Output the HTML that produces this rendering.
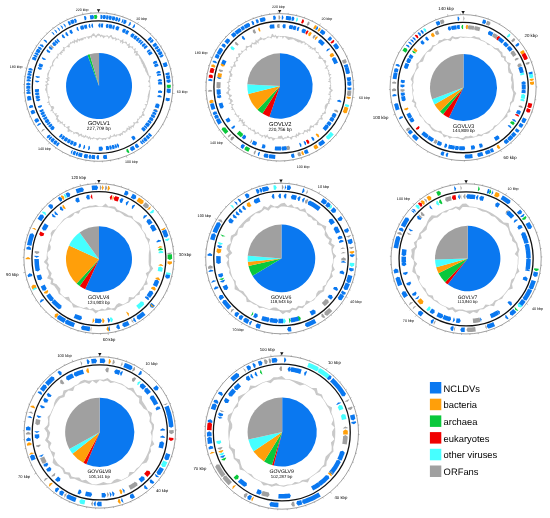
<!DOCTYPE html>
<html><head><meta charset="utf-8"><title>Figure</title>
<style>html,body{margin:0;padding:0;background:#fff}svg{display:block}</style></head>
<body>
<svg width="550" height="518" viewBox="0 0 550 518" font-family="Liberation Sans, sans-serif" text-rendering="geometricPrecision">
<rect width="550" height="518" fill="#fff"/>
<g id="g1">
<path d="M98.5,33.6 L99.6,34.1 L100.7,35.3 L101.8,34.4 L102.8,35.5 L103.9,35.6 L105.0,35.7 L106.0,35.8 L107.3,35.0 L108.2,36.2 L109.2,36.4 L110.7,34.9 L111.7,35.1 L112.3,37.1 L113.4,37.4 L114.4,37.8 L115.7,37.3 L116.4,38.5 L117.4,38.8 L118.7,38.5 L119.4,39.7 L120.4,40.0 L121.4,40.6 L123.3,39.1 L123.3,41.6 L124.3,42.0 L125.9,41.4 L126.8,42.0 L127.0,43.8 L127.8,44.4 L130.1,43.0 L129.6,45.6 L130.4,46.3 L131.7,46.5 L133.2,46.3 L133.0,48.3 L133.8,48.9 L136.1,48.1 L135.3,50.5 L136.0,51.3 L137.9,51.0 L137.5,52.9 L138.2,53.7 L138.8,54.5 L139.7,55.2 L140.2,56.2 L140.8,57.1 L141.4,58.0 L142.0,58.9 L142.6,59.8 L143.1,60.7 L143.7,61.6 L144.2,62.6 L144.7,63.5 L145.1,64.5 L145.6,65.5 L146.0,66.4 L146.5,67.4 L146.9,68.4 L147.2,69.4 L147.6,70.4 L147.9,71.5 L148.2,72.5 L148.5,73.5 L148.8,74.6 L149.0,75.6 L151.3,76.2 L150.5,77.5 L150.3,78.7 L149.9,79.8 L150.0,80.9 L150.1,82.0 L150.2,83.0 L150.2,84.1 L150.4,85.2 L150.3,86.2 L150.6,87.3 L150.6,88.4 L150.4,89.5 L150.2,90.5 L150.1,91.6 L150.0,92.7 L149.9,93.7 L149.7,94.8 L149.6,95.9 L149.4,96.9 L149.2,98.0 L148.9,99.0 L148.7,100.1 L148.4,101.1 L148.1,102.1 L148.0,103.2 L147.7,104.3 L147.0,105.2 L146.7,106.2 L146.3,107.2 L146.0,108.2 L145.4,109.1 L144.9,110.1 L144.6,111.1 L143.9,112.0 L143.4,112.9 L144.7,115.0 L144.2,116.0 L141.7,115.7 L142.3,117.4 L140.5,117.4 L140.0,118.5 L139.2,119.2 L138.5,120.0 L138.0,121.0 L138.7,123.0 L137.3,123.2 L135.6,123.2 L134.9,123.9 L134.6,125.2 L133.8,125.9 L134.0,127.8 L131.7,126.8 L131.8,128.7 L130.0,128.2 L130.5,130.6 L128.3,129.4 L127.4,130.0 L127.2,131.7 L125.6,131.2 L125.5,133.3 L123.7,132.3 L122.8,132.8 L122.8,135.2 L121.2,134.5 L120.8,136.3 L119.3,135.6 L118.0,135.3 L116.9,135.5 L116.3,137.0 L114.9,136.2 L113.9,136.5 L112.9,136.8 L111.8,137.1 L110.8,137.4 L110.0,139.0 L109.0,139.3 L107.6,138.0 L106.6,138.4 L105.8,140.3 L104.5,139.3 L103.5,139.5 L102.4,140.5 L101.2,138.9 L100.2,138.8 L99.1,138.8 L98.0,140.3 L96.9,140.2 L95.9,138.8 L94.8,138.8 L93.7,138.6 L92.5,139.6 L91.6,138.4 L90.2,140.1 L89.5,138.0 L88.1,139.6 L87.4,137.6 L86.3,137.4 L85.3,137.1 L83.8,138.3 L83.2,136.5 L81.8,137.3 L81.2,135.8 L80.2,135.5 L78.4,137.0 L78.2,134.6 L77.2,134.2 L76.2,133.8 L75.3,133.3 L73.4,134.6 L73.3,132.4 L72.4,131.8 L70.7,132.6 L70.5,130.9 L68.4,131.9 L67.4,131.4 L67.9,128.8 L67.1,128.2 L66.2,127.5 L65.4,126.8 L64.0,126.8 L63.8,125.4 L62.9,124.8 L62.0,124.1 L61.5,123.2 L59.4,123.7 L60.0,121.6 L57.5,122.4 L57.2,121.1 L57.2,119.7 L55.6,119.6 L56.6,117.4 L56.0,116.6 L55.4,115.7 L54.8,114.8 L54.3,113.9 L53.5,113.1 L52.4,112.4 L52.7,111.1 L50.0,111.2 L51.7,109.1 L51.3,108.2 L50.8,107.2 L50.4,106.2 L49.8,105.3 L48.3,104.7 L49.3,103.2 L46.7,102.8 L48.7,101.1 L48.4,100.1 L48.1,99.0 L47.9,98.0 L47.7,96.9 L47.4,95.9 L47.4,94.8 L47.1,93.8 L46.3,92.8 L46.4,91.7 L45.4,90.6 L45.1,89.5 L45.4,88.4 L46.1,87.3 L45.8,86.2 L44.9,85.1 L46.9,84.1 L46.7,83.0 L44.8,81.7 L47.1,80.9 L47.3,79.8 L45.9,78.5 L47.6,77.7 L47.2,76.5 L47.3,75.4 L47.2,74.3 L47.5,73.2 L48.1,72.3 L48.6,71.3 L48.8,70.2 L49.9,69.4 L50.2,68.4 L49.6,67.0 L50.8,66.3 L51.5,65.5 L52.0,64.5 L52.0,63.3 L52.3,62.2 L52.7,61.2 L53.2,60.2 L54.0,59.4 L54.8,58.6 L55.6,57.9 L56.3,57.1 L56.9,56.2 L57.6,55.4 L57.2,53.7 L58.9,53.7 L59.6,52.9 L60.4,52.1 L61.1,51.3 L61.8,50.5 L62.6,49.8 L63.4,49.0 L62.8,46.7 L64.8,47.4 L65.8,46.9 L66.7,46.3 L67.5,45.6 L68.4,45.0 L68.6,43.4 L70.1,43.7 L70.2,41.8 L72.0,42.6 L72.3,41.0 L73.8,41.6 L73.8,39.2 L75.7,40.6 L76.7,40.1 L77.1,38.3 L78.7,39.2 L79.7,38.8 L80.7,38.5 L81.7,38.1 L82.7,37.8 L83.7,37.4 L84.8,37.1 L85.8,36.9 L86.8,36.6 L87.9,36.4 L88.9,36.2 L90.0,36.0 L91.1,35.8 L92.0,34.6 L93.0,33.6 L94.1,33.2 L95.3,35.4 L96.4,35.3 L97.4,34.0 Z M97.5,35.8 L96.5,37.8 L95.5,37.4 L94.3,35.9 L93.2,36.0 L92.2,36.2 L91.5,38.6 L90.1,36.7 L89.4,38.4 L88.5,39.1 L87.0,37.1 L85.9,37.5 L85.4,39.3 L83.9,38.0 L83.4,40.0 L82.4,40.3 L81.4,40.5 L80.3,40.3 L79.6,41.5 L77.9,40.1 L77.8,42.4 L76.7,42.5 L75.0,41.5 L75.0,43.7 L73.1,42.5 L72.3,43.2 L71.3,43.6 L70.4,44.2 L69.5,44.8 L69.9,47.0 L69.0,47.6 L67.3,47.1 L66.1,47.3 L65.3,48.0 L64.5,48.7 L64.8,50.6 L64.3,51.6 L62.2,50.9 L63.0,53.1 L61.3,53.0 L61.9,54.9 L59.4,54.1 L58.6,54.8 L58.6,56.1 L57.6,56.7 L58.5,58.6 L56.1,58.2 L55.5,59.1 L54.9,60.0 L54.4,60.9 L53.9,61.9 L53.4,62.8 L52.9,63.7 L53.5,65.2 L53.4,66.3 L51.5,66.6 L51.1,67.6 L50.9,68.7 L50.5,69.6 L50.0,70.6 L49.6,71.6 L49.3,72.6 L49.0,73.6 L48.8,74.7 L48.5,75.7 L48.3,76.7 L50.3,78.2 L47.9,78.8 L49.8,80.2 L48.2,81.0 L47.5,82.0 L47.4,83.1 L49.3,84.2 L47.3,85.2 L47.3,86.3 L47.3,87.3 L47.3,88.4 L47.3,89.4 L47.4,90.5 L47.5,91.6 L47.6,92.6 L47.7,93.7 L48.5,94.6 L48.0,95.8 L49.4,96.6 L50.0,97.5 L48.6,98.9 L49.2,99.9 L49.3,100.9 L49.5,102.0 L49.8,103.0 L50.1,104.0 L50.5,105.0 L51.0,106.0 L53.5,106.0 L53.7,107.1 L54.4,107.9 L52.6,109.9 L53.2,110.8 L53.6,111.8 L54.1,112.7 L54.8,113.5 L57.3,113.2 L55.8,115.4 L58.1,115.1 L58.9,115.8 L57.7,118.0 L58.3,118.9 L59.0,119.7 L59.7,120.5 L60.5,121.1 L61.1,122.1 L63.1,121.6 L62.6,123.6 L63.3,124.3 L65.4,123.7 L64.9,125.8 L65.7,126.4 L66.6,127.1 L68.8,125.9 L69.8,126.3 L69.1,129.0 L70.0,129.6 L70.9,130.2 L71.8,130.8 L72.7,131.2 L73.6,131.9 L74.5,132.4 L75.9,132.1 L77.1,131.9 L78.0,132.4 L78.9,132.9 L79.4,134.6 L80.8,133.8 L82.0,133.7 L82.3,135.7 L83.6,135.2 L84.4,136.3 L86.0,134.5 L86.5,136.8 L87.7,135.9 L88.5,137.4 L89.8,136.0 L90.6,137.7 L91.7,137.9 L92.7,138.0 L93.9,137.0 L94.8,138.2 L95.9,138.0 L97.0,138.3 L98.0,138.3 L99.1,137.5 L100.1,137.7 L101.2,138.3 L102.3,138.2 L103.3,138.1 L104.4,138.0 L105.4,137.9 L106.5,137.7 L107.5,137.5 L108.6,137.4 L109.6,137.1 L110.1,134.7 L111.7,136.6 L112.6,135.8 L113.5,135.2 L114.0,133.5 L115.8,135.4 L116.5,134.3 L117.7,134.6 L118.7,134.2 L119.7,133.8 L120.7,133.3 L121.6,132.9 L122.4,132.1 L122.9,130.8 L124.4,131.3 L125.3,130.7 L126.2,130.2 L126.5,128.8 L126.8,127.4 L128.9,128.4 L128.1,125.7 L130.6,127.1 L130.5,125.4 L132.2,125.8 L133.0,125.1 L133.8,124.3 L133.1,122.1 L135.1,122.6 L136.0,122.1 L136.7,121.3 L137.4,120.5 L136.9,118.7 L138.7,118.8 L139.4,118.0 L139.1,116.5 L140.7,116.3 L141.2,115.4 L141.9,114.5 L142.4,113.6 L141.9,112.1 L142.9,111.4 L144.0,110.8 L142.9,109.1 L143.8,108.4 L145.4,108.0 L145.2,106.7 L146.1,106.0 L144.4,104.2 L147.0,104.0 L147.3,103.0 L146.3,101.6 L147.3,100.8 L147.4,99.7 L147.6,98.7 L147.8,97.7 L147.6,96.6 L147.9,95.6 L148.0,94.5 L148.4,93.5 L148.7,92.5 L148.8,91.5 L149.1,90.5 L149.8,89.4 L149.8,88.4 L149.8,87.3 L148.0,86.3 L149.8,85.2 L149.6,84.1 L149.7,83.1 L148.5,82.1 L147.8,81.1 L149.3,79.9 L149.2,78.8 L149.0,77.8 L148.8,76.7 L148.3,75.8 L147.3,74.9 L146.9,74.0 L146.6,73.0 L145.9,72.1 L145.4,71.2 L145.1,70.2 L145.0,69.2 L144.5,68.2 L143.6,67.5 L143.4,66.5 L142.8,65.6 L142.8,64.5 L141.8,63.8 L141.6,62.8 L141.2,61.8 L140.6,61.0 L140.6,59.8 L140.0,58.9 L139.3,58.2 L139.0,57.1 L139.1,55.7 L137.6,55.5 L135.8,55.7 L135.2,54.8 L136.4,52.4 L133.8,53.4 L134.2,51.6 L134.2,50.1 L133.4,49.4 L132.6,48.7 L131.8,48.0 L131.0,47.3 L129.0,48.1 L127.9,47.9 L128.4,45.4 L126.9,45.8 L126.7,44.2 L125.8,43.6 L124.9,43.0 L124.0,42.5 L121.8,44.2 L122.1,41.5 L120.1,43.2 L120.2,40.5 L119.1,40.3 L118.2,39.7 L117.2,39.4 L115.4,41.2 L115.3,38.6 L113.9,39.1 L112.8,39.4 L111.9,38.7 L111.2,37.3 L110.1,37.1 L108.7,39.0 L108.0,36.9 L107.0,36.5 L106.0,36.4 L104.8,37.1 L103.6,38.4 L102.7,37.2 L101.7,35.9 L100.6,37.4 L99.6,35.8 L98.5,35.8 Z" fill="#c9c9c9" fill-rule="evenodd"/>
<circle cx="98.55" cy="87.05" r="74.25" fill="none" stroke="#505050" stroke-width="0.55"/>
<path d="M98.55,12.80 L98.55,11.60 M106.73,13.25 L106.86,12.06 M114.81,14.60 L115.07,13.43 M122.69,16.83 L123.08,15.70 M130.28,19.92 L130.79,18.83 M137.48,23.82 L138.53,22.12 M144.20,28.49 L144.94,27.55 M150.38,33.88 L151.21,33.02 M155.92,39.91 L156.85,39.15 M160.76,46.52 L161.77,45.86 M164.85,53.62 L165.92,53.08 M168.13,61.12 L169.25,60.70 M170.56,68.94 L171.72,68.65 M172.11,76.99 L173.30,76.82 M172.78,85.15 L173.98,85.12 M172.53,93.34 L174.53,93.51 M171.39,101.45 L172.57,101.68 M169.36,109.38 L170.51,109.75 M166.47,117.05 L167.57,117.53 M162.75,124.35 L163.79,124.95 M158.25,131.19 L159.22,131.91 M153.03,137.50 L153.91,138.31 M147.14,143.19 L147.93,144.10 M140.66,148.20 L141.34,149.19 M133.67,152.47 L134.24,153.53 M126.25,155.94 L126.99,157.80 M118.49,158.57 L118.81,159.73 M110.49,160.33 L110.69,161.52 M102.35,161.20 L102.41,162.40 M94.16,161.17 L94.09,162.37 M86.02,160.24 L85.82,161.42 M78.03,158.41 L77.70,159.56 M70.30,155.72 L69.84,156.83 M62.91,152.19 L62.33,153.24 M55.95,147.86 L55.26,148.85 M49.51,142.80 L48.19,144.30 M43.67,137.06 L42.78,137.87 M38.49,130.71 L37.52,131.42 M34.05,123.83 L33.01,124.42 M30.39,116.50 L29.29,116.98 M27.56,108.82 L26.41,109.17 M25.60,100.86 L24.42,101.09 M24.52,92.74 L23.32,92.84 M24.34,84.55 L23.14,84.51 M25.07,76.40 L23.88,76.22 M26.69,68.37 L24.75,67.86 M29.18,60.57 L28.06,60.14 M32.52,53.09 L31.46,52.54 M36.67,46.02 L35.67,45.36 M41.56,39.45 L40.64,38.68 M47.15,33.47 L46.32,32.60 M53.37,28.13 L52.64,27.18 M60.13,23.51 L59.51,22.48 M67.36,19.67 L66.86,18.58 M74.98,16.64 L74.59,15.50 M82.87,14.47 L82.45,12.52 M90.96,13.19 L90.84,11.99" stroke="#555" stroke-width="0.35" fill="none"/>
<polygon points="83.9,16.3 85.2,16.0 85.1,15.6 86.5,17.8 86.0,20.4 85.9,20.0 84.7,20.2" fill="#0a78f0"/>
<polygon points="89.8,15.3 91.4,15.2 92.9,15.0 92.9,14.6 94.1,16.9 93.3,19.5 93.3,19.0 91.8,19.2 90.3,19.3" fill="#0a78f0"/>
<polygon points="94.1,14.9 95.3,14.9 96.4,14.8 96.4,14.4 97.4,16.8 96.5,19.3 96.5,18.8 95.4,18.9 94.4,18.9" fill="#0ac83c"/>
<polygon points="67.6,21.8 69.0,21.1 68.8,20.7 70.7,22.6 70.8,25.2 70.6,24.8 69.3,25.4" fill="#0a78f0"/>
<polygon points="70.1,20.6 71.4,20.1 72.8,19.5 72.6,19.1 74.4,21.1 74.4,23.7 74.2,23.3 72.9,23.8 71.7,24.3" fill="#0a78f0"/>
<polygon points="73.9,19.1 75.1,18.7 75.0,18.3 76.7,20.3 76.6,22.9 76.4,22.5 75.3,22.9" fill="#0a78f0"/>
<polygon points="51.5,32.2 51.7,32.0 51.5,31.7 53.8,32.9 54.6,35.4 54.3,35.1 54.1,35.3" fill="#0a78f0"/>
<polygon points="54.2,30.0 54.5,29.8 54.2,29.4 56.5,30.8 57.2,33.3 56.9,33.0 56.7,33.2" fill="#0a78f0"/>
<polygon points="57.2,27.8 57.5,27.6 57.2,27.2 59.5,28.7 60.0,31.3 59.8,30.9 59.5,31.1" fill="#0a78f0"/>
<polygon points="60.4,25.7 60.8,25.5 60.5,25.1 62.7,26.7 63.1,29.3 62.9,28.9 62.6,29.1" fill="#0a78f0"/>
<polygon points="63.3,24.0 63.6,23.8 63.4,23.4 65.5,25.1 65.8,27.7 65.6,27.3 65.3,27.5" fill="#0a78f0"/>
<polygon points="43.5,40.3 44.0,39.7 43.7,39.4 46.2,40.2 47.4,42.6 47.0,42.3 46.5,42.9" fill="#0a78f0"/>
<polygon points="39.6,45.2 40.4,44.1 40.1,43.9 42.6,44.5 44.0,46.8 43.6,46.5 42.9,47.5" fill="#0a78f0"/>
<polygon points="31.9,59.2 32.3,58.1 32.8,57.0 32.4,56.9 35.1,57.0 36.9,58.9 36.5,58.7 36.0,59.7 35.6,60.7" fill="#0a78f0"/>
<polygon points="33.3,55.9 33.8,54.9 33.4,54.7 36.1,54.9 37.8,56.9 37.4,56.7 37.0,57.7" fill="#0a78f0"/>
<polygon points="34.4,53.8 35.1,52.6 34.7,52.4 37.3,52.6 39.0,54.7 38.6,54.5 37.9,55.7" fill="#0a78f0"/>
<polygon points="35.6,51.5 36.4,50.3 37.1,49.0 36.7,48.8 39.3,49.3 40.9,51.4 40.5,51.2 39.8,52.3 39.1,53.5" fill="#0a78f0"/>
<polygon points="37.7,48.0 38.5,46.9 38.1,46.6 40.7,47.2 42.2,49.3 41.8,49.1 41.1,50.2" fill="#0a78f0"/>
<polygon points="27.3,75.3 27.4,74.4 27.6,73.6 27.1,73.5 29.7,73.0 31.9,74.4 31.5,74.3 31.4,75.1 31.2,75.9" fill="#0a78f0"/>
<polygon points="27.8,72.4 28.1,71.0 27.7,70.9 30.3,70.5 32.4,72.0 32.0,71.9 31.7,73.2" fill="#0a78f0"/>
<polygon points="28.4,69.8 28.7,68.5 28.3,68.4 30.9,68.0 33.0,69.6 32.6,69.5 32.3,70.8" fill="#0a78f0"/>
<polygon points="26.3,88.8 26.3,87.6 26.3,86.4 25.9,86.4 28.3,85.4 30.8,86.5 30.3,86.4 30.3,87.6 30.3,88.7" fill="#0a78f0"/>
<polygon points="26.3,85.2 26.3,84.3 26.4,83.5 25.9,83.4 28.4,82.6 30.8,83.7 30.4,83.7 30.4,84.5 30.3,85.3" fill="#0a78f0"/>
<polygon points="26.6,94.1 26.6,93.2 26.5,92.2 26.0,92.2 28.4,91.1 30.9,91.9 30.5,91.9 30.6,92.8 30.6,93.8" fill="#0a78f0"/>
<polygon points="26.4,91.0 26.4,90.2 25.9,90.3 28.3,89.1 30.8,90.0 30.4,90.1 30.4,90.8" fill="#0a78f0"/>
<polygon points="27.6,100.7 27.3,98.9 27.0,97.1 26.6,97.1 28.8,95.8 31.4,96.4 31.0,96.5 31.2,98.2 31.5,99.9" fill="#0a78f0"/>
<polygon points="76.7,26.7 76.9,27.1 77.7,26.9 79.0,30.7 78.3,30.9 78.4,31.3 76.6,29.4" fill="#0a78f0"/>
<polygon points="80.4,25.5 80.6,25.9 81.9,25.6 83.3,25.2 84.3,29.1 83.0,29.4 81.7,29.8 81.8,30.2 80.2,28.2" fill="#0a78f0"/>
<polygon points="84.4,24.5 84.5,24.9 85.6,24.7 86.7,24.5 87.4,28.4 86.4,28.6 85.4,28.8 85.5,29.3 84.0,27.1" fill="#0a78f0"/>
<polygon points="89.1,23.6 89.2,24.0 90.0,23.9 90.6,27.9 89.8,28.0 89.9,28.5 88.5,26.2" fill="#0a78f0"/>
<polygon points="91.9,23.3 92.0,23.7 92.8,23.6 93.2,27.6 92.4,27.7 92.4,28.1 91.2,25.8" fill="#0a78f0"/>
<polygon points="99.2,22.9 99.2,23.4 99.9,23.4 100.5,23.4 100.4,27.4 99.8,27.4 99.2,27.4 99.2,27.8 98.2,25.4" fill="#0a78f0"/>
<polygon points="101.7,23.0 101.7,23.4 102.4,23.5 103.2,23.5 102.9,27.5 102.2,27.5 101.5,27.4 101.5,27.9 100.6,25.4" fill="#0a78f0"/>
<polygon points="61.6,34.6 61.9,35.0 62.4,34.6 62.9,34.2 65.2,37.6 64.7,37.9 64.2,38.3 64.4,38.6 62.2,37.2" fill="#0a78f0"/>
<polygon points="65.3,32.2 65.5,32.6 66.1,32.2 66.6,31.9 68.7,35.4 68.1,35.7 67.6,36.0 67.8,36.4 65.7,34.8" fill="#0a78f0"/>
<polygon points="69.5,29.9 69.7,30.3 70.5,29.9 71.3,29.5 73.0,33.1 72.2,33.5 71.5,33.9 71.7,34.2 69.7,32.5" fill="#0a78f0"/>
<polygon points="52.0,43.0 52.3,43.3 53.1,42.4 53.9,41.6 56.7,44.5 55.9,45.3 55.2,46.0 55.5,46.3 53.1,45.4" fill="#0a78f0"/>
<polygon points="54.4,40.5 54.7,40.8 55.2,40.3 55.8,39.9 58.5,42.8 58.0,43.3 57.5,43.7 57.8,44.0 55.4,43.0" fill="#0a78f0"/>
<polygon points="56.4,38.7 56.7,39.1 57.4,38.4 60.0,41.5 59.3,42.1 59.6,42.4 57.2,41.2" fill="#0a78f0"/>
<polygon points="50.0,45.2 50.3,45.5 50.9,44.8 53.9,47.5 53.3,48.1 53.7,48.4 51.2,47.5" fill="#a0a0a0"/>
<polygon points="46.1,50.1 46.5,50.4 46.9,49.8 47.2,49.3 50.5,51.7 50.1,52.2 49.8,52.7 50.1,52.9 47.5,52.3" fill="#0a78f0"/>
<polygon points="48.5,46.9 48.9,47.2 49.3,46.6 49.7,46.1 52.8,48.7 52.4,49.2 52.0,49.7 52.4,49.9 49.8,49.2" fill="#0a78f0"/>
<polygon points="41.5,57.7 41.9,57.9 42.3,57.2 45.8,59.1 45.5,59.8 45.9,60.0 43.2,59.7" fill="#0a78f0"/>
<polygon points="37.3,68.1 37.7,68.3 37.9,67.6 38.1,66.9 41.9,68.2 41.7,68.8 41.5,69.5 41.9,69.6 39.3,69.8" fill="#0a78f0"/>
<polygon points="38.1,65.6 38.5,65.8 39.0,64.5 39.5,63.2 43.2,64.7 42.7,65.9 42.3,67.1 42.7,67.3 40.1,67.4" fill="#0a78f0"/>
<polygon points="35.3,76.7 35.7,76.7 35.8,75.9 39.8,76.6 39.7,77.4 40.1,77.5 37.5,78.0" fill="#0a78f0"/>
<polygon points="34.7,81.3 35.1,81.4 35.2,80.5 39.2,80.9 39.1,81.7 39.5,81.8 37.0,82.5" fill="#0a78f0"/>
<polygon points="35.9,100.8 36.3,100.7 36.2,100.1 36.1,99.5 40.0,98.7 40.1,99.3 40.3,99.9 40.7,99.8 38.5,101.3" fill="#0a78f0"/>
<polygon points="35.4,98.4 35.9,98.3 35.7,97.1 35.5,95.9 39.5,95.4 39.6,96.5 39.8,97.6 40.2,97.5 38.0,98.9" fill="#0a78f0"/>
<polygon points="34.9,94.8 35.3,94.7 35.2,93.8 35.1,92.8 39.1,92.5 39.2,93.4 39.3,94.3 39.7,94.2 37.4,95.5" fill="#0a78f0"/>
<polygon points="34.6,91.7 35.0,91.6 34.9,90.4 34.9,89.2 38.9,89.0 39.0,90.2 39.0,91.3 39.5,91.3 37.1,92.5" fill="#0a78f0"/>
<polygon points="100.5,14.8 102.0,14.9 102.0,14.4 102.9,16.9 101.8,19.3 101.8,18.9 100.4,18.8" fill="#0a78f0"/>
<polygon points="103.2,14.9 104.2,15.0 105.2,15.1 105.3,14.7 106.0,17.2 104.8,19.5 104.8,19.1 103.9,19.0 102.9,19.0" fill="#0a78f0"/>
<polygon points="106.4,15.2 107.3,15.3 108.1,15.4 108.2,15.0 108.8,17.6 107.5,19.9 107.6,19.4 106.8,19.3 106.0,19.2" fill="#0a78f0"/>
<polygon points="109.3,15.6 110.3,15.8 111.3,15.9 111.4,15.5 111.9,18.1 110.5,20.3 110.6,19.9 109.7,19.7 108.7,19.6" fill="#0a78f0"/>
<polygon points="112.5,16.1 113.7,16.4 114.8,16.7 114.9,16.2 115.4,18.8 113.8,21.0 113.9,20.6 112.8,20.3 111.7,20.1" fill="#0a78f0"/>
<polygon points="116.0,16.9 116.9,17.2 117.8,17.4 117.9,17.0 118.2,19.6 116.6,21.7 116.7,21.3 115.9,21.1 115.0,20.8" fill="#0a78f0"/>
<polygon points="119.0,17.7 120.0,18.1 120.2,17.6 120.4,20.3 118.7,22.3 118.8,21.9 117.8,21.6" fill="#0a78f0"/>
<polygon points="122.6,18.9 123.3,19.2 123.4,18.7 123.5,21.4 121.7,23.3 121.9,22.9 121.3,22.7" fill="#0a78f0"/>
<polygon points="124.4,19.6 125.4,19.9 126.3,20.3 126.5,19.9 126.4,22.6 124.6,24.5 124.8,24.0 123.9,23.7 123.0,23.3" fill="#0a78f0"/>
<polygon points="129.9,22.0 130.7,22.3 130.9,21.9 130.7,24.6 128.7,26.3 128.9,25.9 128.2,25.6" fill="#0a78f0"/>
<polygon points="134.2,24.2 134.9,24.6 135.1,24.2 134.8,26.9 132.7,28.5 132.9,28.1 132.2,27.7" fill="#0a78f0"/>
<polygon points="150.4,36.8 151.1,37.5 151.8,38.2 152.1,37.9 151.0,40.3 148.5,41.2 148.8,40.9 148.2,40.2 147.5,39.6" fill="#0a78f0"/>
<polygon points="152.6,39.1 153.5,40.2 153.9,39.9 152.7,42.3 150.2,43.1 150.5,42.8 149.6,41.8" fill="#0a78f0"/>
<polygon points="155.5,42.6 156.3,43.6 157.0,44.6 157.4,44.4 156.0,46.6 153.4,47.2 153.8,47.0 153.1,46.0 152.3,45.1" fill="#0a78f0"/>
<polygon points="157.7,45.6 158.3,46.4 158.8,47.1 159.2,46.9 157.7,49.1 155.1,49.6 155.4,49.4 154.9,48.6 154.4,47.9" fill="#0a78f0"/>
<polygon points="159.5,48.2 160.0,49.1 160.6,50.0 161.0,49.8 159.4,51.9 156.7,52.3 157.1,52.0 156.6,51.2 156.1,50.3" fill="#0a78f0"/>
<polygon points="161.2,51.0 161.8,52.1 162.4,53.1 162.7,52.9 161.0,55.0 158.4,55.2 158.8,55.0 158.3,54.0 157.7,53.0" fill="#0a78f0"/>
<polygon points="162.9,54.2 163.5,55.4 163.9,55.2 162.1,57.2 159.5,57.4 159.9,57.2 159.3,56.0" fill="#0a78f0"/>
<polygon points="166.4,62.1 167.0,63.8 167.5,65.6 168.0,65.4 165.9,67.1 163.3,66.9 163.7,66.8 163.2,65.1 162.6,63.5" fill="#0a78f0"/>
<polygon points="169.3,72.3 169.5,73.2 169.6,74.1 170.1,74.0 167.8,75.4 165.2,74.9 165.7,74.8 165.5,74.0 165.4,73.2" fill="#0a78f0"/>
<polygon points="169.8,75.3 170.1,76.7 170.2,78.1 170.7,78.0 168.4,79.3 165.8,78.6 166.3,78.6 166.1,77.2 165.9,75.9" fill="#0a78f0"/>
<polygon points="170.8,84.7 170.8,85.9 170.8,87.2 171.2,87.2 168.8,88.2 166.3,87.2 166.8,87.2 166.8,86.0 166.8,84.8" fill="#0ac83c"/>
<polygon points="170.8,88.7 170.7,90.5 170.6,92.4 171.1,92.4 168.5,93.2 166.2,92.0 166.6,92.1 166.7,90.3 166.8,88.6" fill="#0a78f0"/>
<polygon points="169.9,98.3 169.7,99.5 169.5,100.7 169.9,100.8 167.3,101.3 165.1,99.9 165.6,100.0 165.8,98.8 166.0,97.7" fill="#0a78f0"/>
<polygon points="107.0,23.5 107.0,23.9 107.7,24.0 108.5,24.1 107.8,28.1 107.2,28.0 106.5,27.9 106.4,28.3 105.7,25.8" fill="#0a78f0"/>
<polygon points="109.7,23.9 109.7,24.3 111.1,24.6 112.4,24.9 111.6,28.8 110.3,28.5 109.0,28.3 108.9,28.7 108.3,26.1" fill="#0a78f0"/>
<polygon points="113.7,24.7 113.6,25.2 114.3,25.3 115.0,25.5 114.0,29.4 113.3,29.2 112.7,29.1 112.6,29.5 112.2,26.9" fill="#0a78f0"/>
<polygon points="117.2,25.7 117.1,26.1 118.3,26.5 119.5,26.9 118.1,30.7 117.0,30.3 115.9,30.0 115.8,30.4 115.5,27.7" fill="#0a78f0"/>
<polygon points="124.2,28.3 124.0,28.7 125.1,29.1 126.1,29.6 124.4,33.2 123.4,32.8 122.4,32.3 122.2,32.7 122.3,30.1" fill="#0a78f0"/>
<polygon points="127.4,29.8 127.2,30.1 128.2,30.7 129.2,31.2 127.3,34.7 126.3,34.2 125.4,33.7 125.2,34.1 125.4,31.5" fill="#0a78f0"/>
<polygon points="132.9,32.9 132.7,33.3 133.8,34.0 134.8,34.7 132.5,38.0 131.5,37.3 130.5,36.6 130.3,37.0 130.7,34.4" fill="#0a78f0"/>
<polygon points="136.1,35.0 135.8,35.4 136.8,36.1 137.7,36.8 135.3,40.0 134.4,39.3 133.5,38.6 133.2,39.0 133.8,36.4" fill="#0a78f0"/>
<polygon points="139.0,37.2 138.7,37.6 139.4,38.2 140.1,38.7 137.4,41.8 136.8,41.2 136.2,40.7 135.9,41.1 136.6,38.5" fill="#0a78f0"/>
<polygon points="141.3,39.2 141.0,39.5 141.4,39.9 141.9,40.4 139.2,43.3 138.7,42.9 138.3,42.5 138.0,42.9 138.9,40.4" fill="#0a78f0"/>
<polygon points="143.1,40.9 142.8,41.2 143.6,42.0 140.8,44.9 140.0,44.1 139.7,44.4 140.7,42.0" fill="#0a78f0"/>
<polygon points="145.1,42.9 144.8,43.2 145.3,43.8 145.9,44.5 142.9,47.2 142.4,46.6 141.8,46.0 141.5,46.3 142.6,43.9" fill="#0a78f0"/>
<polygon points="147.1,45.1 146.7,45.4 147.3,46.0 147.8,46.7 144.7,49.2 144.2,48.6 143.7,48.0 143.4,48.3 144.6,45.9" fill="#0a78f0"/>
<polygon points="150.4,49.3 150.1,49.6 150.7,50.4 147.4,52.7 146.8,52.0 146.5,52.2 147.9,50.0" fill="#0a78f0"/>
<polygon points="151.7,51.2 151.3,51.4 152.0,52.4 152.7,53.5 149.3,55.6 148.6,54.6 148.0,53.7 147.6,53.9 149.1,51.7" fill="#0a78f0"/>
<polygon points="157.1,60.8 156.7,61.0 157.0,61.8 157.4,62.7 153.7,64.2 153.3,63.4 153.0,62.6 152.6,62.8 154.4,60.9" fill="#0a78f0"/>
<polygon points="158.3,63.7 157.9,63.8 158.3,64.9 158.6,65.9 154.9,67.3 154.5,66.3 154.1,65.3 153.7,65.4 155.6,63.6" fill="#0a78f0"/>
<polygon points="160.7,71.3 160.3,71.5 160.5,72.1 160.6,72.8 156.7,73.7 156.6,73.1 156.4,72.4 156.0,72.5 158.1,71.0" fill="#0a78f0"/>
<polygon points="161.3,73.9 160.9,74.0 161.0,74.6 161.2,75.3 157.2,76.1 157.1,75.4 157.0,74.8 156.5,74.9 158.7,73.4" fill="#0a78f0"/>
<polygon points="162.3,79.8 161.8,79.8 161.9,80.5 162.0,81.2 158.0,81.5 157.9,80.9 157.8,80.3 157.4,80.3 159.7,79.1" fill="#0a78f0"/>
<polygon points="162.5,82.4 162.1,82.4 162.1,83.4 162.2,84.5 158.2,84.6 158.1,83.7 158.1,82.7 157.6,82.7 160.0,81.5" fill="#0a78f0"/>
<polygon points="162.5,91.4 162.1,91.3 162.0,92.2 162.0,93.1 158.0,92.7 158.0,91.9 158.1,91.1 157.7,91.0 160.2,90.2" fill="#0a78f0"/>
<polygon points="162.0,96.4 161.6,96.3 161.5,97.0 161.4,97.6 157.4,97.0 157.5,96.4 157.6,95.8 157.2,95.7 159.7,95.1" fill="#0a78f0"/>
<polygon points="26.5,81.3 26.6,80.5 26.7,79.7 26.2,79.7 28.8,78.9 31.1,80.2 30.7,80.1 30.6,80.9 30.5,81.6" fill="#0a78f0"/>
<polygon points="26.8,78.5 26.9,77.6 27.0,76.7 26.6,76.6 29.2,76.0 31.5,77.3 31.0,77.3 30.9,78.1 30.8,79.0" fill="#0a78f0"/>
<polygon points="29.5,108.3 29.2,107.5 29.0,106.6 28.6,106.8 30.7,105.1 33.3,105.4 32.9,105.5 33.1,106.4 33.3,107.2" fill="#0a78f0"/>
<polygon points="31.8,114.6 31.2,113.2 30.6,111.7 30.2,111.8 32.2,110.0 34.8,110.2 34.4,110.3 34.9,111.7 35.5,113.1" fill="#0a78f0"/>
<polygon points="36.0,123.1 35.2,121.8 34.4,120.4 34.0,120.6 35.8,118.5 38.4,118.3 38.0,118.5 38.7,119.8 39.4,121.1" fill="#0a78f0"/>
<polygon points="37.7,126.1 37.3,125.4 36.9,125.6 38.5,123.5 41.1,123.0 40.7,123.2 41.1,123.9" fill="#0a78f0"/>
<polygon points="41.8,131.8 41.5,131.5 41.2,131.7 42.5,129.4 45.1,128.7 44.7,129.0 44.9,129.3" fill="#a0a0a0"/>
<polygon points="57.5,146.5 56.9,146.1 56.2,145.6 56.0,146.0 56.6,143.4 58.8,142.0 58.6,142.4 59.2,142.8 59.8,143.2" fill="#0a78f0"/>
<polygon points="55.3,144.9 54.3,144.2 53.4,143.5 53.1,143.8 53.9,141.3 56.2,140.0 55.9,140.3 56.8,141.0 57.7,141.7" fill="#0a78f0"/>
<polygon points="52.5,142.7 51.5,141.9 50.6,141.1 50.3,141.4 51.2,138.9 53.5,137.8 53.3,138.1 54.1,138.8 55.0,139.6" fill="#0a78f0"/>
<polygon points="49.7,140.3 48.8,139.5 48.5,139.8 49.5,137.3 51.9,136.2 51.6,136.6 52.4,137.3" fill="#0a78f0"/>
<polygon points="47.9,138.6 47.4,138.1 46.8,137.5 46.5,137.8 47.6,135.4 50.0,134.4 49.7,134.7 50.2,135.2 50.8,135.8" fill="#0a78f0"/>
<polygon points="71.4,154.0 71.0,153.9 70.9,154.3 70.9,151.6 72.7,149.7 72.6,150.1 72.9,150.3" fill="#0a78f0"/>
<polygon points="77.3,156.1 76.1,155.7 75.9,156.1 75.8,153.5 77.5,151.5 77.3,151.9 78.5,152.3" fill="#0a78f0"/>
<polygon points="74.9,155.3 73.9,155.0 72.9,154.6 72.7,155.0 72.7,152.4 74.5,150.4 74.3,150.8 75.3,151.2 76.2,151.5" fill="#0a78f0"/>
<polygon points="81.8,157.3 80.9,157.1 80.0,156.9 79.9,157.3 79.6,154.7 81.2,152.6 81.1,153.0 81.9,153.2 82.7,153.4" fill="#0a78f0"/>
<polygon points="87.4,158.4 85.9,158.2 84.3,157.9 84.2,158.3 83.7,155.7 85.2,153.5 85.1,153.9 86.6,154.2 88.1,154.5" fill="#0a78f0"/>
<polygon points="95.0,159.2 93.4,159.1 91.9,159.0 91.9,159.4 91.1,156.9 92.3,154.6 92.3,155.0 93.7,155.1 95.2,155.2" fill="#0a78f0"/>
<polygon points="90.7,158.9 89.9,158.8 89.2,158.7 89.1,159.1 88.5,156.6 89.8,154.3 89.7,154.7 90.4,154.8 91.1,154.9" fill="#0a78f0"/>
<polygon points="99.0,159.3 98.1,159.3 97.2,159.3 97.2,159.7 96.3,157.3 97.3,154.8 97.3,155.3 98.1,155.3 99.0,155.3" fill="#0a78f0"/>
<polygon points="107.2,158.8 105.6,159.0 104.0,159.1 104.1,159.5 102.9,157.2 103.7,154.7 103.7,155.1 105.2,155.0 106.7,154.8" fill="#0a78f0"/>
<polygon points="37.8,107.6 38.2,107.4 38.0,106.8 37.8,106.2 41.6,105.0 41.8,105.6 42.0,106.2 42.4,106.0 40.4,107.7" fill="#0a78f0"/>
<polygon points="51.3,130.4 51.6,130.1 50.7,129.1 49.9,128.1 52.9,125.5 53.7,126.5 54.6,127.4 54.9,127.1 53.8,129.5" fill="#0a78f0"/>
<polygon points="48.7,127.5 49.1,127.2 48.6,126.5 48.0,125.9 51.2,123.4 51.7,124.0 52.2,124.7 52.6,124.4 51.3,126.7" fill="#0a78f0"/>
<polygon points="46.9,125.1 47.3,124.9 46.6,124.0 49.9,121.6 50.5,122.5 50.9,122.2 49.5,124.5" fill="#0a78f0"/>
<polygon points="45.6,123.2 45.9,123.0 45.2,121.9 44.5,120.8 47.9,118.6 48.6,119.7 49.3,120.7 49.6,120.4 48.2,122.7" fill="#0a78f0"/>
<polygon points="43.5,119.9 43.9,119.7 43.4,118.9 43.0,118.2 46.5,116.2 46.9,116.9 47.3,117.7 47.7,117.4 46.1,119.5" fill="#0a78f0"/>
<polygon points="42.0,117.3 42.4,117.1 42.0,116.5 41.7,115.8 45.3,114.0 45.6,114.6 45.9,115.2 46.3,115.0 44.6,117.0" fill="#0a78f0"/>
<polygon points="40.8,114.9 41.2,114.7 40.8,113.8 40.3,112.9 44.0,111.3 44.4,112.1 44.8,113.0 45.2,112.8 43.4,114.7" fill="#0a78f0"/>
<polygon points="39.5,112.0 39.9,111.8 39.6,111.1 39.3,110.4 43.0,108.9 43.3,109.6 43.6,110.2 44.0,110.1 42.1,111.9" fill="#0a78f0"/>
<polygon points="74.7,146.6 74.9,146.2 73.9,145.8 72.9,145.4 74.5,141.7 75.4,142.1 76.4,142.5 76.6,142.1 76.6,144.7" fill="#0a78f0"/>
<polygon points="71.6,145.3 71.8,144.9 70.8,144.4 69.7,143.9 71.6,140.3 72.5,140.8 73.5,141.2 73.7,140.8 73.5,143.4" fill="#0a78f0"/>
<polygon points="68.5,143.7 68.7,143.3 67.7,142.8 66.7,142.2 68.7,138.8 69.6,139.3 70.5,139.8 70.8,139.4 70.5,142.0" fill="#0a78f0"/>
<polygon points="65.5,142.0 65.7,141.6 64.6,140.9 63.5,140.3 65.7,136.9 66.7,137.5 67.8,138.2 68.0,137.8 67.6,140.4" fill="#0a78f0"/>
<polygon points="62.3,139.9 62.5,139.6 61.7,139.0 60.9,138.5 63.3,135.2 64.0,135.7 64.8,136.3 65.0,135.9 64.5,138.5" fill="#0a78f0"/>
<polygon points="59.7,138.1 60.0,137.7 59.4,137.3 58.8,136.8 61.3,133.7 61.8,134.1 62.4,134.5 62.7,134.2 62.0,136.7" fill="#0a78f0"/>
<polygon points="79.3,148.2 79.4,147.8 78.8,147.6 78.2,147.4 79.5,143.6 80.0,143.8 80.6,144.0 80.8,143.6 81.0,146.2" fill="#0a78f0"/>
<polygon points="83.7,149.4 83.8,149.0 83.0,148.8 84.0,144.9 84.7,145.1 84.8,144.7 85.2,147.3" fill="#0a78f0"/>
<polygon points="88.7,150.4 88.8,150.0 88.0,149.9 88.6,145.9 89.4,146.0 89.5,145.6 90.1,148.2" fill="#0a78f0"/>
<polygon points="100.6,151.2 100.6,150.7 99.7,150.7 98.8,150.8 98.8,146.7 99.7,146.7 100.5,146.7 100.5,146.3 101.6,148.7" fill="#0a78f0"/>
<polygon points="118.9,147.9 118.8,147.5 117.8,147.8 116.5,144.0 117.5,143.6 117.4,143.2 119.1,145.2" fill="#0a78f0"/>
<polygon points="116.7,148.6 116.6,148.1 115.5,148.4 114.5,144.6 115.5,144.3 115.3,143.9 117.0,145.9" fill="#0a78f0"/>
<polygon points="114.5,149.2 114.3,148.8 113.4,149.0 112.5,149.2 111.7,145.3 112.5,145.1 113.4,144.9 113.2,144.4 114.8,146.6" fill="#0a78f0"/>
<polygon points="111.4,149.9 111.3,149.5 110.6,149.6 109.8,149.7 109.1,145.8 109.8,145.7 110.5,145.5 110.5,145.1 111.9,147.3" fill="#0a78f0"/>
<polygon points="108.7,150.4 108.6,150.0 107.4,150.1 106.2,150.3 105.8,146.3 106.9,146.1 108.0,146.0 107.9,145.5 109.3,147.8" fill="#0a78f0"/>
<polygon points="170.4,79.3 170.5,80.5 170.6,81.8 171.1,81.7 168.7,82.9 166.2,82.1 166.6,82.1 166.5,80.9 166.4,79.7" fill="#0a78f0"/>
<polygon points="152.1,135.5 151.6,136.1 151.0,136.7 151.3,137.0 148.9,136.1 147.8,133.7 148.1,134.0 148.6,133.4 149.2,132.8" fill="#0a78f0"/>
<polygon points="150.2,137.6 149.4,138.3 148.7,139.0 149.0,139.4 146.6,138.3 145.6,135.8 145.9,136.2 146.6,135.5 147.3,134.8" fill="#0a78f0"/>
<polygon points="147.8,139.9 146.9,140.7 146.0,141.6 146.3,141.9 143.9,140.7 143.1,138.2 143.3,138.5 144.2,137.7 145.1,136.9" fill="#0a78f0"/>
<polygon points="145.1,142.3 144.4,142.9 144.6,143.3 142.3,142.0 141.5,139.5 141.8,139.8 142.5,139.3" fill="#0a78f0"/>
<polygon points="143.4,143.7 142.8,144.2 143.0,144.6 140.7,143.2 140.0,140.7 140.3,141.0 140.9,140.5" fill="#0a78f0"/>
<polygon points="139.3,146.8 138.2,147.4 137.2,148.1 137.4,148.5 135.3,146.9 134.8,144.3 135.0,144.7 136.0,144.1 137.0,143.4" fill="#0a78f0"/>
<polygon points="135.3,149.2 133.8,150.1 132.2,151.0 132.4,151.4 130.3,149.7 130.1,147.1 130.3,147.5 131.8,146.6 133.3,145.8" fill="#0a78f0"/>
<polygon points="129.5,152.4 128.3,152.9 128.4,153.3 126.5,151.5 126.4,148.8 126.6,149.2 127.7,148.7" fill="#0ac83c"/>
<polygon points="79.8,156.8 78.5,156.5 78.4,156.9 78.1,154.3 79.8,152.2 79.7,152.6 80.9,153.0" fill="#0a78f0"/>
<polygon points="160.1,105.2 159.7,105.0 159.3,106.2 158.9,107.4 158.5,108.5 154.7,107.2 155.1,106.1 155.5,105.0 155.8,103.9 155.4,103.8 158.0,103.5" fill="#0a78f0"/>
<polygon points="158.1,110.9 157.7,110.7 157.4,111.3 157.2,111.9 153.5,110.4 153.7,109.8 154.0,109.2 153.5,109.1 156.2,109.0" fill="#a0a0a0"/>
<polygon points="157.8,111.6 157.4,111.4 157.2,112.0 156.9,112.6 153.2,111.0 153.5,110.4 153.7,109.8 153.3,109.7 155.9,109.7" fill="#0a78f0"/>
<polygon points="156.8,113.9 156.4,113.7 156.0,114.5 155.6,115.3 152.0,113.5 152.4,112.8 152.8,112.0 152.4,111.8 155.0,111.9" fill="#0a78f0"/>
<polygon points="155.5,116.6 155.1,116.4 154.6,117.4 154.1,118.3 150.6,116.3 151.0,115.4 151.5,114.5 151.1,114.3 153.8,114.6" fill="#0a78f0"/>
<polygon points="153.8,119.6 153.5,119.3 152.8,120.4 152.2,121.5 148.8,119.3 149.4,118.3 150.0,117.3 149.6,117.1 152.2,117.5" fill="#0a78f0"/>
<polygon points="151.9,122.7 151.5,122.5 151.0,123.2 150.5,123.9 147.2,121.6 147.7,120.9 148.1,120.2 147.8,120.0 150.4,120.5" fill="#0a78f0"/>
<polygon points="150.2,125.1 149.8,124.9 148.9,126.0 148.0,127.2 144.9,124.7 145.7,123.6 146.6,122.5 146.2,122.2 148.8,122.9" fill="#0a78f0"/>
<polygon points="147.6,128.4 147.2,128.1 146.6,128.9 143.5,126.3 144.2,125.5 143.8,125.2 146.3,126.1" fill="#0a78f0"/>
<polygon points="146.1,130.1 145.8,129.8 144.8,130.8 143.9,131.8 141.1,128.9 141.9,128.0 142.8,127.1 142.4,126.8 144.9,127.7" fill="#0a78f0"/>
<polygon points="135.6,139.4 135.4,139.0 134.3,139.7 133.3,140.4 131.1,137.1 132.1,136.4 133.0,135.8 132.8,135.4 135.0,136.8" fill="#0a78f0"/>
<polygon points="102.1,151.1 102.1,150.7 101.2,150.7 100.3,150.7 100.2,146.7 101.0,146.7 101.9,146.6 101.8,146.2 103.0,148.6" fill="#0a78f0"/>
<circle cx="98.55" cy="87.05" r="66.27" fill="none" stroke="#111" stroke-width="1.3"/>
<polygon points="96.85,9.20 100.25,9.20 98.55,12.20" fill="#111"/>
<path d="M99.05,86.00 L99.05,53.00 A33.00,33.00 0 1 1 87.49,55.09 Z" fill="#0a78f0"/>
<path d="M99.05,86.00 L87.49,55.09 A33.00,33.00 0 0 1 89.68,54.36 Z" fill="#0ac83c"/>
<path d="M99.05,86.00 L89.68,54.36 A33.00,33.00 0 0 1 99.05,53.00 Z" fill="#a0a0a0"/>
<text x="98.90" y="124.80" font-size="5.60" text-anchor="middle" fill="#000">GOVLV1</text>
<text x="98.90" y="129.70" font-size="4.82" text-anchor="middle" fill="#000">227,709 bp</text>
<text x="82.20" y="10.60" font-size="3.60" text-anchor="middle" fill="#000">220 kbp</text>
<text x="141.60" y="20.10" font-size="3.60" text-anchor="middle" fill="#000">20 kbp</text>
<text x="182.10" y="93.40" font-size="3.60" text-anchor="middle" fill="#000">60 kbp</text>
<text x="131.30" y="163.40" font-size="3.60" text-anchor="middle" fill="#000">100 kbp</text>
<text x="44.40" y="149.80" font-size="3.60" text-anchor="middle" fill="#000">140 kbp</text>
<text x="16.10" y="67.80" font-size="3.60" text-anchor="middle" fill="#000">180 kbp</text>
</g>
<g id="g2">
<path d="M279.7,35.9 L280.8,35.9 L281.9,36.0 L283.0,36.0 L284.1,36.1 L285.2,36.1 L286.3,36.3 L287.4,36.5 L288.4,36.7 L289.5,36.9 L290.6,37.1 L291.7,37.3 L292.7,37.6 L293.8,37.9 L294.8,38.2 L295.9,38.5 L296.9,38.9 L298.0,39.3 L299.0,39.7 L300.0,40.1 L301.0,40.5 L302.0,41.0 L303.0,41.5 L304.3,41.3 L305.0,42.3 L305.9,43.1 L306.8,43.6 L307.7,44.2 L308.7,44.8 L309.6,45.5 L310.4,46.1 L311.3,46.8 L312.2,47.5 L313.0,48.2 L315.4,47.2 L315.9,48.3 L315.5,50.4 L316.3,51.1 L317.0,51.9 L318.7,51.9 L318.5,53.6 L319.2,54.4 L319.9,55.3 L320.6,56.1 L321.2,57.0 L321.9,57.9 L323.3,58.2 L323.1,59.7 L324.7,60.0 L326.0,60.6 L326.3,61.7 L325.5,63.4 L325.8,64.5 L326.2,65.5 L328.9,65.5 L327.1,67.5 L327.8,68.4 L327.9,69.6 L329.4,70.2 L328.8,71.6 L329.6,72.5 L329.3,73.7 L331.5,74.3 L329.8,75.9 L330.1,76.9 L331.7,77.7 L330.4,79.1 L330.6,80.2 L330.7,81.3 L330.9,82.4 L331.2,83.4 L331.0,84.6 L331.1,85.7 L331.2,86.7 L331.1,87.8 L331.1,88.9 L333.0,90.1 L332.2,91.2 L330.9,92.2 L330.7,93.3 L330.6,94.4 L330.6,95.5 L331.4,96.8 L330.1,97.7 L331.9,99.2 L329.5,99.8 L330.3,101.1 L329.0,101.9 L330.1,103.4 L328.3,104.0 L327.9,105.0 L327.5,106.1 L327.1,107.1 L326.7,108.1 L326.2,109.1 L325.8,110.1 L325.5,111.2 L326.1,112.8 L325.5,113.7 L323.6,113.9 L323.1,114.9 L322.5,115.8 L321.9,116.7 L322.9,118.9 L322.3,119.8 L319.9,119.3 L319.2,120.2 L318.5,121.0 L318.6,122.6 L317.7,123.3 L317.8,125.0 L316.5,125.3 L314.7,125.0 L313.8,125.7 L314.1,127.7 L312.2,127.1 L311.3,127.8 L310.4,128.5 L310.6,130.6 L309.8,131.5 L307.7,130.4 L308.1,133.1 L305.9,131.5 L304.9,132.1 L304.1,132.8 L303.7,134.5 L302.0,133.6 L301.0,134.1 L300.0,134.5 L299.0,134.9 L298.4,136.5 L296.9,135.7 L296.6,138.2 L294.8,136.4 L293.9,137.0 L292.7,137.0 L292.1,138.9 L291.1,139.7 L289.5,137.7 L288.4,137.9 L287.4,138.1 L286.3,138.4 L285.2,138.4 L284.1,138.7 L283.1,140.2 L281.9,138.6 L280.8,138.7 L279.7,138.7 L278.6,138.7 L277.5,138.6 L276.4,138.6 L275.3,138.6 L274.0,140.3 L272.8,140.8 L271.9,139.1 L271.0,137.9 L269.6,139.2 L268.5,139.1 L267.7,137.3 L266.7,137.0 L265.0,138.7 L264.6,136.4 L263.5,136.1 L261.6,138.1 L261.4,135.4 L259.9,136.1 L259.4,134.5 L258.4,134.1 L257.4,133.6 L256.0,133.9 L254.4,134.5 L254.5,132.1 L253.5,131.5 L252.6,131.0 L251.7,130.4 L250.4,130.3 L249.8,129.1 L248.0,129.8 L248.1,127.8 L247.2,127.1 L246.4,126.4 L245.6,125.7 L243.9,125.9 L242.4,125.8 L243.2,123.4 L241.6,123.4 L241.7,121.9 L240.9,121.0 L238.2,121.9 L239.5,119.3 L238.8,118.5 L238.2,117.6 L237.5,116.7 L236.3,116.2 L236.3,114.9 L234.4,114.8 L235.2,113.0 L234.7,112.0 L234.0,111.1 L233.6,110.1 L231.1,110.1 L232.1,108.4 L231.0,107.6 L231.7,106.2 L231.5,105.0 L231.0,104.1 L228.5,103.7 L230.4,101.9 L230.1,100.9 L229.9,99.8 L227.8,99.1 L229.4,97.7 L229.2,96.6 L229.0,95.5 L228.1,94.5 L226.3,93.6 L226.1,92.5 L227.8,91.2 L228.4,90.0 L228.3,88.9 L226.8,87.9 L228.3,86.8 L228.3,85.7 L228.4,84.6 L228.4,83.5 L226.6,82.2 L228.7,81.3 L228.6,80.1 L229.0,79.1 L229.2,78.0 L229.2,76.9 L229.6,75.9 L229.9,74.8 L230.1,73.7 L228.6,72.1 L229.1,71.1 L230.9,70.5 L230.5,69.2 L231.7,68.5 L230.0,66.6 L232.6,66.4 L233.2,65.5 L233.6,64.5 L234.1,63.5 L233.6,62.0 L235.2,61.6 L235.8,60.7 L236.3,59.7 L236.0,58.2 L236.2,57.0 L238.2,57.0 L238.8,56.1 L237.8,53.9 L238.9,53.3 L240.9,53.6 L241.7,52.7 L240.8,50.4 L243.1,51.1 L243.9,50.3 L244.7,49.6 L245.6,48.9 L245.8,47.4 L245.9,45.8 L247.5,46.1 L248.8,45.9 L249.8,45.5 L250.7,44.8 L251.5,44.0 L251.7,42.2 L253.5,43.1 L254.5,42.5 L255.4,42.0 L255.5,39.6 L257.4,41.0 L257.8,39.2 L259.1,39.4 L259.7,37.9 L260.6,37.0 L262.4,38.6 L263.5,38.5 L264.6,38.2 L265.6,37.9 L266.7,37.6 L267.5,36.4 L268.7,36.5 L269.9,36.9 L271.0,36.7 L271.7,34.3 L272.8,33.8 L274.2,36.2 L275.2,34.4 L276.4,36.0 L277.5,36.0 L278.6,35.7 Z M278.6,36.4 L277.6,38.5 L276.6,38.8 L275.4,36.6 L274.4,37.5 L273.2,36.8 L272.1,37.0 L271.3,38.7 L270.0,37.5 L268.9,37.5 L267.8,37.8 L266.8,38.1 L266.0,39.3 L264.9,39.3 L264.1,40.4 L262.6,39.3 L261.6,39.7 L260.6,40.1 L259.6,40.5 L258.6,41.0 L258.7,43.7 L256.6,41.9 L256.8,44.6 L255.5,44.3 L254.4,44.6 L252.8,44.0 L251.9,44.6 L252.1,46.7 L251.6,48.0 L249.2,46.5 L248.4,47.2 L247.5,47.8 L246.7,48.5 L247.2,50.7 L245.1,50.0 L244.3,50.7 L243.5,51.5 L242.8,52.3 L242.1,53.2 L241.4,54.0 L240.6,54.7 L239.9,55.6 L240.1,57.1 L238.6,57.3 L237.9,58.2 L237.3,59.1 L238.3,61.0 L236.7,61.2 L235.8,62.0 L235.1,62.8 L235.2,64.1 L235.8,65.6 L235.8,66.7 L233.1,66.7 L232.7,67.7 L232.3,68.7 L231.9,69.7 L231.6,70.7 L231.2,71.8 L230.9,72.8 L232.6,74.4 L232.1,75.4 L232.3,76.5 L229.8,77.0 L229.8,78.1 L231.0,79.4 L229.3,80.3 L230.8,81.5 L229.0,82.4 L228.9,83.5 L229.0,84.6 L229.9,85.7 L229.6,86.8 L228.8,87.8 L230.2,88.9 L230.6,89.9 L228.9,91.1 L229.0,92.2 L229.1,93.3 L229.3,94.3 L232.0,95.0 L231.5,96.2 L229.9,97.5 L230.1,98.6 L231.9,99.3 L232.2,100.3 L233.3,101.1 L231.2,102.8 L231.6,103.9 L234.1,104.1 L232.3,105.9 L232.7,106.9 L233.1,107.9 L233.6,108.9 L234.3,109.8 L234.6,110.8 L235.3,111.7 L235.6,112.8 L236.2,113.7 L236.8,114.6 L237.3,115.5 L239.6,115.3 L238.6,117.3 L239.2,118.2 L241.3,117.9 L240.6,119.9 L243.0,119.3 L243.3,120.4 L242.8,122.3 L245.2,121.5 L244.3,123.9 L245.1,124.6 L246.0,125.2 L247.2,125.5 L247.6,126.7 L248.6,127.2 L249.2,128.1 L250.8,127.8 L251.0,129.4 L252.1,129.8 L253.3,129.8 L254.7,129.6 L255.1,131.0 L255.7,132.2 L256.6,132.7 L258.3,131.8 L258.9,133.0 L259.6,133.9 L260.6,134.5 L261.6,134.9 L262.6,135.3 L263.7,135.6 L265.1,134.5 L265.7,136.3 L267.4,134.1 L268.0,136.2 L268.9,137.1 L270.0,137.3 L271.1,136.8 L272.1,137.6 L273.2,137.8 L274.3,137.9 L275.4,138.0 L276.4,138.1 L277.5,138.0 L278.7,135.8 L279.7,136.2 L280.7,135.8 L281.8,135.6 L283.0,138.1 L284.0,138.0 L285.0,136.7 L286.2,137.8 L287.1,136.3 L288.0,135.6 L289.4,137.2 L290.5,137.1 L291.6,136.8 L292.4,135.8 L293.7,136.3 L294.6,135.7 L295.7,135.6 L296.1,133.3 L297.8,134.9 L298.0,132.6 L299.2,132.6 L300.8,133.6 L301.8,133.2 L302.8,132.7 L303.7,132.2 L303.9,130.3 L304.9,129.9 L306.6,130.6 L307.0,129.2 L308.4,129.4 L309.3,128.7 L309.5,127.2 L310.0,126.1 L310.6,125.2 L312.7,126.1 L313.4,125.2 L314.3,124.6 L315.1,123.9 L315.9,123.1 L316.6,122.3 L317.4,121.5 L317.5,120.2 L318.7,119.8 L318.7,118.4 L320.2,118.2 L320.8,117.3 L320.5,115.8 L321.4,115.1 L322.7,114.6 L321.9,112.9 L323.8,112.8 L324.3,111.8 L324.8,110.8 L325.2,109.8 L324.6,108.3 L324.8,107.3 L324.7,106.1 L325.2,105.2 L325.7,104.2 L326.6,103.4 L328.2,102.8 L327.8,101.6 L328.8,100.7 L327.9,99.4 L329.3,98.6 L329.6,97.6 L329.8,96.5 L330.0,95.4 L327.6,94.0 L330.2,93.3 L328.7,92.0 L330.5,91.1 L330.5,90.0 L329.2,88.9 L328.7,87.8 L330.6,86.8 L329.5,85.7 L330.4,84.6 L330.5,83.5 L330.2,82.4 L327.7,81.6 L329.9,80.3 L328.5,79.4 L329.8,78.1 L329.6,77.0 L328.6,76.1 L329.1,74.9 L327.8,74.1 L328.5,72.8 L328.2,71.8 L327.8,70.7 L327.5,69.7 L327.1,68.7 L324.4,68.6 L326.3,66.7 L325.7,65.7 L325.3,64.7 L324.8,63.8 L324.3,62.8 L323.8,61.8 L323.2,60.9 L322.7,60.0 L322.1,59.1 L320.1,59.1 L318.8,58.8 L318.2,57.9 L319.3,55.7 L318.7,54.8 L318.1,53.9 L317.4,53.1 L315.8,53.0 L315.9,51.5 L315.0,50.9 L314.3,50.0 L313.5,49.2 L311.7,49.7 L311.7,48.0 L309.5,49.1 L310.0,46.7 L308.3,47.3 L308.3,45.3 L307.0,45.3 L306.5,44.1 L304.6,45.2 L304.7,42.9 L303.7,42.4 L302.0,43.4 L300.8,43.4 L300.3,42.1 L299.0,42.5 L298.0,42.2 L297.0,41.7 L296.2,41.0 L295.2,40.7 L294.3,39.8 L293.4,39.2 L292.3,39.2 L291.2,39.4 L290.1,39.5 L288.9,40.1 L287.9,39.7 L287.0,38.6 L286.0,38.2 L285.1,36.7 L284.0,36.8 L282.8,39.0 L281.9,36.6 L280.8,37.3 L279.7,36.6 Z" fill="#c9c9c9" fill-rule="evenodd"/>
<circle cx="279.70" cy="87.30" r="73.70" fill="none" stroke="#505050" stroke-width="0.55"/>
<path d="M279.70,13.60 L279.70,12.40 M288.07,14.08 L288.21,12.88 M296.34,15.50 L296.61,14.33 M304.39,17.86 L304.79,16.73 M312.11,21.11 L312.64,20.03 M319.42,25.22 L320.50,23.54 M326.22,30.14 L326.98,29.21 M332.41,35.79 L333.27,34.95 M337.92,42.11 L338.87,41.38 M342.68,49.02 L343.70,48.40 M346.62,56.42 L347.71,55.92 M349.69,64.22 L350.83,63.85 M351.86,72.32 L353.04,72.08 M353.10,80.62 L354.29,80.51 M353.38,89.00 L354.58,89.03 M352.71,97.36 L354.69,97.63 M351.09,105.59 L352.26,105.89 M348.55,113.58 L349.68,114.01 M345.12,121.23 L346.19,121.79 M340.84,128.45 L341.84,129.12 M335.77,135.13 L336.69,135.90 M329.98,141.19 L330.80,142.06 M323.53,146.55 L324.25,147.51 M316.52,151.15 L317.12,152.18 M309.03,154.91 L309.50,156.02 M301.15,157.81 L301.74,159.72 M293.01,159.79 L293.22,160.97 M284.68,160.83 L284.77,162.03 M276.30,160.92 L276.24,162.12 M267.96,160.06 L267.77,161.24 M259.77,158.25 L259.44,159.41 M251.84,155.53 L251.38,156.64 M244.27,151.92 L243.69,152.97 M237.15,147.48 L236.46,148.46 M230.59,142.26 L229.79,143.15 M224.67,136.32 L223.17,137.65 M219.45,129.75 L218.47,130.44 M215.02,122.63 L213.97,123.21 M211.43,115.06 L210.32,115.51 M208.72,107.12 L207.56,107.44 M206.92,98.93 L205.74,99.12 M206.07,90.59 L204.87,90.64 M206.18,82.20 L204.98,82.12 M207.23,73.88 L206.05,73.66 M209.23,65.74 L208.08,65.38 M212.13,57.87 L210.30,57.07 M215.91,50.38 L214.87,49.78 M220.52,43.38 L219.56,42.66 M225.89,36.94 L225.02,36.12 M231.96,31.15 L231.18,30.24 M238.65,26.09 L237.98,25.09 M245.87,21.82 L245.32,20.76 M253.53,18.40 L253.10,17.28 M261.52,15.88 L261.23,14.71 M269.75,14.27 L269.59,13.09 M278.11,13.62 L278.07,11.62" stroke="#555" stroke-width="0.35" fill="none"/>
<polygon points="273.1,15.9 273.9,15.8 274.8,15.7 274.8,15.3 276.0,17.7 275.1,20.2 275.1,19.7 274.3,19.8 273.4,19.9" fill="#0a78f0"/>
<polygon points="278.5,15.6 279.4,15.6 279.4,15.1 280.4,17.6 279.4,20.0 279.4,19.6 278.6,19.6" fill="#a0a0a0"/>
<polygon points="281.9,15.6 282.7,15.6 282.7,15.2 283.6,17.7 282.5,20.1 282.5,19.6 281.7,19.6" fill="#0a78f0"/>
<polygon points="286.1,15.9 287.7,16.0 289.3,16.2 290.8,16.4 290.9,16.0 291.5,18.6 290.2,20.8 290.2,20.4 288.7,20.2 287.2,20.0 285.7,19.8" fill="#0a78f0"/>
<polygon points="293.0,16.8 293.9,17.0 293.9,16.6 294.4,19.1 293.0,21.3 293.1,20.9 292.3,20.7" fill="#0a78f0"/>
<polygon points="296.7,17.6 297.5,17.8 297.7,17.4 298.0,20.0 296.4,22.1 296.6,21.7 295.8,21.5" fill="#46ffff"/>
<polygon points="251.2,21.5 252.4,21.0 252.2,20.6 254.1,22.5 254.1,25.1 253.9,24.7 252.8,25.2" fill="#0a78f0"/>
<polygon points="255.5,19.8 256.3,19.5 257.2,19.2 257.0,18.8 258.7,20.8 258.5,23.4 258.4,23.0 257.6,23.3 256.8,23.5" fill="#0a78f0"/>
<polygon points="259.5,18.5 261.1,18.0 262.6,17.6 264.2,17.3 264.1,16.8 265.6,19.0 265.1,21.6 265.0,21.2 263.6,21.5 262.1,21.9 260.6,22.3" fill="#0a78f0"/>
<polygon points="234.5,31.6 236.0,30.4 237.6,29.2 239.3,28.1 239.0,27.7 241.2,29.2 241.7,31.7 241.5,31.4 240.0,32.4 238.5,33.6 237.0,34.7" fill="#0a78f0"/>
<polygon points="240.3,27.4 241.4,26.7 242.6,25.9 242.4,25.6 244.5,27.1 244.9,29.7 244.6,29.3 243.5,30.0 242.5,30.7" fill="#0a78f0"/>
<polygon points="243.6,25.3 245.1,24.5 246.7,23.6 248.2,22.9 248.0,22.5 250.0,24.2 250.1,26.8 250.0,26.5 248.5,27.2 247.1,28.0 245.6,28.8" fill="#0a78f0"/>
<polygon points="230.9,34.8 232.2,33.5 233.6,32.3 233.3,32.0 235.7,33.2 236.5,35.7 236.2,35.4 234.9,36.5 233.6,37.7" fill="#0a78f0"/>
<polygon points="224.4,41.6 225.3,40.6 226.2,39.5 227.1,38.5 226.8,38.2 229.3,39.2 230.4,41.5 230.0,41.2 229.2,42.2 228.3,43.2 227.5,44.2" fill="#0a78f0"/>
<polygon points="221.3,45.7 222.0,44.7 222.7,43.7 222.4,43.4 224.9,44.1 226.3,46.4 225.9,46.1 225.2,47.1 224.5,48.0" fill="#0a78f0"/>
<polygon points="214.6,57.2 215.3,55.8 216.0,54.3 215.6,54.1 218.3,54.3 219.9,56.3 219.6,56.1 218.9,57.5 218.2,58.9" fill="#0a78f0"/>
<polygon points="216.6,53.2 217.6,51.5 218.6,49.8 219.7,48.1 219.3,47.8 221.9,48.3 223.4,50.5 223.0,50.2 222.0,51.9 221.0,53.5 220.1,55.1" fill="#0a78f0"/>
<polygon points="212.5,62.1 213.0,60.9 212.6,60.7 215.2,60.7 217.1,62.5 216.7,62.4 216.3,63.5" fill="#0a78f0"/>
<polygon points="211.0,66.6 211.3,65.8 211.6,64.9 211.1,64.8 213.8,64.6 215.8,66.3 215.3,66.2 215.1,67.0 214.8,67.8" fill="#ff9f0a"/>
<polygon points="209.5,72.4 209.8,71.1 210.2,69.8 210.5,68.4 210.1,68.3 212.7,68.0 214.8,69.6 214.4,69.5 214.0,70.7 213.7,72.0 213.4,73.3" fill="#f00000"/>
<polygon points="208.6,77.6 208.8,76.4 209.0,75.2 208.6,75.1 211.1,74.6 213.4,75.9 212.9,75.9 212.8,77.0 212.6,78.2" fill="#f00000"/>
<polygon points="208.3,80.8 208.4,79.5 208.0,79.5 210.5,78.7 212.8,80.0 212.4,79.9 212.2,81.2" fill="#0a78f0"/>
<polygon points="208.1,91.7 208.1,90.8 207.6,90.8 210.0,89.7 212.5,90.6 212.1,90.6 212.1,91.4" fill="#a0a0a0"/>
<polygon points="209.6,102.4 209.3,101.1 208.9,101.2 211.1,99.7 213.7,100.2 213.2,100.3 213.5,101.5" fill="#ff9f0a"/>
<polygon points="270.1,24.4 270.1,24.8 271.5,24.6 272.9,24.4 274.2,24.3 274.6,28.3 273.3,28.4 272.0,28.6 270.7,28.7 270.8,29.2 269.4,26.9" fill="#0a78f0"/>
<polygon points="277.8,23.7 277.8,24.1 278.7,24.1 279.6,24.1 279.6,28.1 278.7,28.1 277.9,28.1 277.9,28.5 276.8,26.1" fill="#a0a0a0"/>
<polygon points="283.5,23.7 283.5,24.2 284.6,24.3 285.7,24.4 285.4,28.3 284.3,28.2 283.3,28.2 283.2,28.6 282.4,26.1" fill="#0a78f0"/>
<polygon points="290.2,24.5 290.1,24.9 291.7,25.2 293.2,25.5 292.4,29.4 290.9,29.1 289.5,28.9 289.4,29.3 288.8,26.7" fill="#0a78f0"/>
<polygon points="294.2,25.3 294.1,25.7 295.3,26.0 296.5,26.4 295.5,30.2 294.4,29.9 293.2,29.6 293.1,30.1 292.7,27.5" fill="#0a78f0"/>
<polygon points="298.4,26.4 298.3,26.9 298.9,27.1 299.5,27.3 298.3,31.0 297.7,30.9 297.1,30.7 297.0,31.1 296.7,28.5" fill="#0a78f0"/>
<polygon points="252.8,29.6 253.0,30.0 253.8,29.6 254.6,29.3 256.2,32.9 255.4,33.3 254.7,33.6 254.9,34.0 252.9,32.2" fill="#a0a0a0"/>
<polygon points="258.4,27.3 258.6,27.7 259.4,27.4 260.6,31.2 259.9,31.5 260.0,31.9 258.3,29.9" fill="#ff9f0a"/>
<polygon points="241.6,36.3 241.9,36.6 242.4,36.2 243.0,35.8 245.3,39.1 244.8,39.5 244.3,39.8 244.5,40.2 242.3,38.8" fill="#0a78f0"/>
<polygon points="234.7,42.3 235.0,42.6 235.4,42.2 235.9,41.7 238.7,44.6 238.2,45.0 237.8,45.4 238.1,45.7 235.7,44.7" fill="#a0a0a0"/>
<polygon points="230.1,47.3 230.5,47.6 231.2,46.7 231.9,45.9 234.9,48.5 234.3,49.3 233.6,50.1 233.9,50.4 231.4,49.6" fill="#46ffff"/>
<polygon points="220.8,63.1 221.2,63.2 221.8,61.9 222.3,60.7 222.9,59.5 226.5,61.2 226.0,62.4 225.4,63.5 224.9,64.7 225.3,64.9 222.7,64.9" fill="#0a78f0"/>
<polygon points="220.2,64.6 220.6,64.8 220.9,64.2 221.1,63.5 224.8,65.0 224.6,65.6 224.3,66.2 224.8,66.3 222.1,66.4" fill="#ff9f0a"/>
<polygon points="218.3,70.3 218.8,70.4 218.9,69.8 219.1,69.2 223.0,70.3 222.8,70.9 222.6,71.5 223.0,71.6 220.4,71.9" fill="#a0a0a0"/>
<polygon points="217.2,75.3 217.6,75.3 217.9,74.1 218.1,72.9 222.0,73.8 221.8,75.0 221.5,76.1 222.0,76.2 219.4,76.7" fill="#ff9f0a"/>
<polygon points="216.8,77.6 217.2,77.7 217.3,76.9 221.3,77.5 221.1,78.3 221.6,78.4 219.0,79.0" fill="#0a78f0"/>
<polygon points="216.0,87.5 216.5,87.5 216.5,85.6 216.6,83.8 216.7,82.0 220.7,82.3 220.6,84.0 220.5,85.7 220.5,87.5 220.9,87.5 218.5,88.5" fill="#a0a0a0"/>
<polygon points="216.9,97.7 217.3,97.6 217.1,96.5 217.0,95.4 220.9,94.9 221.1,95.9 221.3,96.9 221.7,96.9 219.5,98.3" fill="#0a78f0"/>
<polygon points="216.4,94.2 216.8,94.2 216.7,92.6 216.6,91.0 216.5,89.5 220.5,89.3 220.6,90.8 220.7,92.3 220.8,93.7 221.2,93.7 218.9,95.0" fill="#0a78f0"/>
<polygon points="292.1,16.7 292.9,16.8 293.0,16.4 293.5,19.0 292.1,21.2 292.2,20.7 291.4,20.6" fill="#0a78f0"/>
<polygon points="302.4,19.3 303.6,19.7 303.8,19.3 303.9,21.9 302.1,23.9 302.3,23.4 301.1,23.0" fill="#f00000"/>
<polygon points="308.2,21.5 309.4,22.0 309.5,21.6 309.4,24.2 307.5,26.0 307.7,25.6 306.6,25.1" fill="#a0a0a0"/>
<polygon points="315.1,24.9 315.9,25.4 316.6,25.8 316.9,25.4 316.5,28.1 314.4,29.6 314.6,29.2 313.9,28.8 313.1,28.4" fill="#ff9f0a"/>
<polygon points="317.3,26.2 318.0,26.7 318.2,26.3 317.8,28.9 315.6,30.4 315.9,30.0 315.2,29.6" fill="#0a78f0"/>
<polygon points="319.5,27.6 320.6,28.4 320.8,28.0 320.2,30.6 318.0,32.0 318.3,31.6 317.3,30.9" fill="#ff9f0a"/>
<polygon points="321.9,29.3 323.0,30.1 324.1,31.0 325.2,31.8 325.5,31.5 324.7,34.0 322.4,35.3 322.6,34.9 321.6,34.1 320.6,33.3 319.6,32.5" fill="#0a78f0"/>
<polygon points="330.2,36.3 331.0,37.2 331.9,38.1 332.2,37.8 331.1,40.2 328.7,41.1 329.0,40.8 328.2,40.0 327.3,39.2" fill="#0a78f0"/>
<polygon points="333.4,39.8 334.3,40.8 334.6,40.5 333.4,42.8 330.9,43.7 331.3,43.4 330.4,42.4" fill="#f00000"/>
<polygon points="336.1,43.0 337.1,44.3 338.0,45.6 339.0,46.9 339.3,46.7 337.9,48.9 335.3,49.4 335.7,49.2 334.8,47.9 333.9,46.7 333.0,45.5" fill="#0a78f0"/>
<polygon points="345.6,59.0 346.2,60.4 346.8,61.9 347.2,61.8 345.3,63.6 342.6,63.5 343.0,63.3 342.5,61.9 341.9,60.5" fill="#a0a0a0"/>
<polygon points="347.5,64.0 347.9,65.2 348.3,66.3 348.7,66.2 346.7,67.9 344.1,67.6 344.5,67.5 344.1,66.4 343.7,65.3" fill="#0a78f0"/>
<polygon points="348.5,67.0 349.0,68.9 349.5,70.8 349.9,72.8 350.4,72.7 348.2,74.1 345.6,73.7 346.0,73.6 345.6,71.7 345.2,69.9 344.7,68.1" fill="#0a78f0"/>
<polygon points="350.7,76.9 350.9,78.5 351.1,80.1 351.5,80.0 349.2,81.3 346.7,80.5 347.1,80.5 346.9,79.0 346.7,77.4" fill="#0a78f0"/>
<polygon points="351.2,81.3 351.3,83.1 351.4,85.0 351.8,84.9 349.4,86.0 347.0,85.1 347.4,85.1 347.3,83.3 347.2,81.6" fill="#0a78f0"/>
<polygon points="351.4,87.5 351.4,88.4 351.4,89.3 351.8,89.3 349.4,90.3 347.0,89.2 347.4,89.2 347.4,88.4 347.4,87.5" fill="#0a78f0"/>
<polygon points="351.3,90.6 351.3,92.2 351.1,93.8 351.0,95.4 351.4,95.5 348.9,96.2 346.6,94.9 347.0,95.0 347.1,93.5 347.3,92.0 347.4,90.5" fill="#a0a0a0"/>
<polygon points="350.8,97.1 350.6,98.4 351.0,98.4 348.4,99.0 346.2,97.7 346.6,97.8 346.8,96.5" fill="#ff9f0a"/>
<polygon points="303.5,28.2 303.3,28.7 304.8,29.3 306.3,29.9 304.6,33.5 303.2,32.9 301.8,32.4 301.7,32.8 301.7,30.1" fill="#0a78f0"/>
<polygon points="307.7,30.1 307.5,30.5 308.1,30.8 308.7,31.1 306.8,34.6 306.3,34.4 305.7,34.1 305.5,34.5 305.7,31.9" fill="#f00000"/>
<polygon points="310.6,31.6 310.4,32.0 311.2,32.5 311.9,32.9 309.9,36.3 309.2,35.9 308.4,35.5 308.2,35.9 308.5,33.3" fill="#ff9f0a"/>
<polygon points="315.2,34.4 314.9,34.8 315.5,35.2 316.0,35.5 313.7,38.8 313.2,38.5 312.7,38.1 312.5,38.5 313.0,35.9" fill="#a0a0a0"/>
<polygon points="317.5,36.1 317.2,36.4 317.9,36.9 315.5,40.1 314.9,39.6 314.6,40.0 315.2,37.4" fill="#ff9f0a"/>
<polygon points="321.2,39.0 320.9,39.3 322.3,40.5 323.6,41.8 324.9,43.1 322.1,45.9 320.8,44.7 319.6,43.5 318.3,42.4 318.0,42.7 318.8,40.2" fill="#0a78f0"/>
<polygon points="329.9,48.2 329.6,48.5 330.1,49.1 326.9,51.5 326.5,50.9 326.1,51.2 327.4,48.9" fill="#0a78f0"/>
<polygon points="333.4,53.1 333.0,53.3 333.7,54.5 334.4,55.7 331.0,57.6 330.3,56.6 329.7,55.5 329.3,55.7 330.8,53.6" fill="#ff9f0a"/>
<polygon points="335.8,57.2 335.4,57.4 336.1,58.7 336.8,60.0 337.4,61.4 338.0,62.8 334.3,64.3 333.7,63.0 333.2,61.8 332.5,60.5 331.9,59.3 331.5,59.5 333.2,57.4" fill="#0a78f0"/>
<polygon points="341.8,101.4 341.4,101.3 341.2,101.9 341.1,102.5 337.2,101.6 337.3,101.0 337.5,100.4 337.1,100.3 339.6,99.8" fill="#0a78f0"/>
<polygon points="209.8,103.5 209.6,102.6 209.2,102.7 211.4,101.2 214.0,101.7 213.5,101.8 213.7,102.6" fill="#ff9f0a"/>
<polygon points="211.7,110.0 211.1,108.2 210.6,106.4 210.1,104.7 209.7,104.8 211.8,103.2 214.4,103.6 214.0,103.7 214.4,105.4 214.9,107.0 215.4,108.7" fill="#0a78f0"/>
<polygon points="213.7,115.3 213.2,114.2 212.7,113.0 212.3,113.2 214.3,111.4 216.9,111.4 216.5,111.6 216.9,112.7 217.4,113.8" fill="#0a78f0"/>
<polygon points="218.5,124.7 217.6,123.2 216.8,121.7 216.0,120.2 215.6,120.4 217.3,118.4 219.9,118.2 219.5,118.4 220.3,119.8 221.1,121.2 221.9,122.6" fill="#0a78f0"/>
<polygon points="215.4,119.1 214.8,117.8 214.2,116.5 213.8,116.7 215.6,114.8 218.2,114.7 217.8,114.9 218.4,116.1 219.0,117.4" fill="#0a78f0"/>
<polygon points="225.4,134.1 224.1,132.6 222.9,131.1 221.7,129.5 221.3,129.7 222.7,127.5 225.3,126.9 224.9,127.1 226.0,128.6 227.2,130.1 228.4,131.5" fill="#0ac83c"/>
<polygon points="228.6,137.6 228.0,137.0 227.7,137.3 228.7,134.9 231.2,133.9 230.9,134.2 231.4,134.8" fill="#a0a0a0"/>
<polygon points="231.8,140.7 231.1,140.1 230.5,139.5 230.2,139.8 231.1,137.3 233.5,136.2 233.2,136.5 233.8,137.1 234.4,137.7" fill="#a0a0a0"/>
<polygon points="242.9,148.9 241.8,148.2 240.8,147.6 240.6,147.9 241.0,145.3 243.2,143.8 243.0,144.2 244.0,144.8 245.0,145.4" fill="#0a78f0"/>
<polygon points="248.4,151.8 247.1,151.2 245.9,150.6 244.7,149.9 244.5,150.3 244.8,147.7 246.9,146.0 246.7,146.4 247.8,147.1 249.0,147.7 250.1,148.2" fill="#0ac83c"/>
<polygon points="254.8,154.6 254.0,154.3 253.8,154.7 253.8,152.0 255.6,150.1 255.4,150.5 256.2,150.8" fill="#a0a0a0"/>
<polygon points="258.9,155.9 258.1,155.7 258.0,156.1 257.8,153.5 259.4,151.5 259.3,151.9 260.1,152.1" fill="#0a78f0"/>
<polygon points="267.8,158.0 266.0,157.7 264.2,157.3 264.1,157.8 263.6,155.2 265.1,153.0 265.0,153.4 266.7,153.8 268.4,154.1" fill="#0a78f0"/>
<polygon points="275.1,158.9 273.2,158.7 271.2,158.5 269.2,158.2 269.1,158.7 268.5,156.1 269.8,153.9 269.8,154.3 271.6,154.6 273.5,154.7 275.4,154.9" fill="#0a78f0"/>
<polygon points="294.7,157.4 293.5,157.7 292.3,157.9 292.4,158.3 291.0,156.1 291.5,153.5 291.6,154.0 292.8,153.8 293.9,153.5" fill="#0a78f0"/>
<polygon points="301.4,155.7 300.2,156.0 299.0,156.4 299.1,156.8 297.5,154.7 297.8,152.1 297.9,152.5 299.1,152.2 300.2,151.9" fill="#a0a0a0"/>
<polygon points="217.0,76.3 217.4,76.3 217.6,75.5 221.5,76.3 221.4,77.0 221.8,77.1 219.2,77.7" fill="#ff9f0a"/>
<polygon points="219.6,108.2 220.0,108.1 219.5,106.6 219.0,105.0 218.6,103.5 222.4,102.5 222.8,103.9 223.3,105.4 223.8,106.8 224.2,106.6 222.2,108.4" fill="#0a78f0"/>
<polygon points="226.7,122.6 227.1,122.3 226.2,121.0 225.4,119.6 228.8,117.6 229.6,118.9 230.4,120.1 230.7,119.9 229.3,122.1" fill="#0a78f0"/>
<polygon points="231.6,129.1 232.0,128.8 231.6,128.3 231.1,127.8 234.2,125.2 234.6,125.7 235.0,126.2 235.3,125.9 234.1,128.2" fill="#0a78f0"/>
<polygon points="240.2,137.2 240.4,136.9 239.2,135.8 238.0,134.8 236.8,133.7 239.5,130.8 240.6,131.8 241.7,132.8 242.9,133.7 243.2,133.4 242.5,135.9" fill="#0ac83c"/>
<polygon points="243.5,139.7 243.7,139.3 242.7,138.6 241.7,137.8 244.1,134.6 245.0,135.3 246.0,136.0 246.2,135.7 245.7,138.2" fill="#0a78f0"/>
<polygon points="249.8,143.5 250.0,143.1 249.7,143.0 251.6,139.4 251.9,139.6 252.1,139.2 251.9,141.8" fill="#a0a0a0"/>
<polygon points="254.9,145.9 255.1,145.5 253.9,145.0 252.8,144.5 251.7,144.0 253.5,140.4 254.5,140.9 255.6,141.4 256.6,141.9 256.8,141.5 256.8,144.1" fill="#0a78f0"/>
<polygon points="263.9,149.0 264.0,148.5 262.8,148.2 261.6,147.9 262.7,144.1 263.9,144.4 265.0,144.7 265.1,144.3 265.5,146.9" fill="#0a78f0"/>
<polygon points="286.4,150.6 286.3,150.2 284.8,150.3 283.3,150.4 281.8,150.5 281.7,146.5 283.1,146.4 284.5,146.3 285.9,146.2 285.9,145.8 287.1,148.1" fill="#0a78f0"/>
<polygon points="280.6,151.0 280.6,150.5 279.1,150.5 277.6,150.5 276.2,150.4 274.7,150.3 275.0,146.4 276.4,146.4 277.8,146.5 279.2,146.5 280.6,146.5 280.6,146.1 281.6,148.5" fill="#0a78f0"/>
<polygon points="289.5,150.2 289.5,149.8 288.2,150.0 287.0,150.1 286.5,146.1 287.7,146.0 288.8,145.8 288.8,145.4 290.1,147.6" fill="#a0a0a0"/>
<polygon points="349.2,104.9 349.0,105.8 348.8,106.6 349.2,106.7 346.6,107.0 344.5,105.4 344.9,105.5 345.1,104.7 345.4,103.9" fill="#46ffff"/>
<polygon points="348.4,107.8 347.9,109.5 347.3,111.2 346.7,113.0 347.1,113.1 344.4,113.2 342.5,111.4 342.9,111.5 343.5,109.9 344.1,108.3 344.6,106.6" fill="#ff9f0a"/>
<polygon points="333.8,134.4 332.6,135.7 331.4,137.0 330.1,138.3 328.9,139.5 329.2,139.8 326.8,138.8 325.8,136.3 326.1,136.6 327.3,135.4 328.5,134.2 329.7,133.0 330.8,131.8" fill="#46ffff"/>
<polygon points="325.2,142.7 323.8,143.9 322.3,145.0 320.8,146.1 321.1,146.4 318.9,145.0 318.3,142.4 318.5,142.8 319.9,141.8 321.3,140.7 322.7,139.6" fill="#0a78f0"/>
<polygon points="318.5,147.6 317.1,148.5 315.7,149.3 316.0,149.7 313.9,148.1 313.5,145.5 313.7,145.9 315.0,145.1 316.3,144.3" fill="#ff9f0a"/>
<polygon points="308.8,152.9 307.3,153.5 305.8,154.1 306.0,154.5 304.2,152.6 304.2,150.0 304.4,150.4 305.8,149.8 307.2,149.2" fill="#0a78f0"/>
<polygon points="304.2,154.7 303.0,155.1 303.1,155.6 301.4,153.6 301.5,151.0 301.7,151.4 302.8,151.0" fill="#ff9f0a"/>
<polygon points="338.5,111.6 338.1,111.5 337.9,112.1 337.6,112.7 334.0,111.1 334.2,110.5 334.4,109.9 334.0,109.8 336.7,109.8" fill="#a0a0a0"/>
<polygon points="336.9,115.2 336.5,115.1 336.0,116.1 335.4,117.1 334.9,118.2 331.4,116.2 331.9,115.3 332.4,114.3 332.9,113.3 332.5,113.1 335.2,113.3" fill="#0a78f0"/>
<polygon points="334.7,119.4 334.3,119.2 333.7,120.2 333.1,121.2 332.5,122.1 329.1,119.9 329.7,119.0 330.3,118.1 330.8,117.2 330.5,117.0 333.1,117.3" fill="#0a78f0"/>
<polygon points="331.8,124.0 331.4,123.7 330.5,125.0 329.6,126.2 326.4,123.7 327.3,122.6 328.1,121.4 327.8,121.2 330.3,121.7" fill="#0a78f0"/>
<polygon points="329.1,127.4 328.8,127.1 327.7,128.4 326.6,129.7 325.5,130.9 322.6,128.2 323.7,127.0 324.7,125.8 325.7,124.6 325.4,124.3 327.9,125.1" fill="#0a78f0"/>
<polygon points="319.4,137.1 319.1,136.8 318.6,137.2 318.1,137.6 315.6,134.4 316.1,134.0 316.6,133.6 316.3,133.3 318.6,134.6" fill="#ff9f0a"/>
<polygon points="314.5,140.6 314.2,140.3 313.7,140.6 313.1,141.0 311.0,137.6 311.5,137.3 312.0,136.9 311.8,136.6 314.0,138.1" fill="#0a78f0"/>
<polygon points="309.4,143.6 309.2,143.2 308.4,143.7 307.6,144.1 305.8,140.5 306.6,140.1 307.3,139.7 307.1,139.3 309.1,141.0" fill="#f00000"/>
<polygon points="306.1,145.2 305.9,144.8 305.1,145.2 303.5,141.5 304.2,141.2 304.1,140.8 306.0,142.6" fill="#0a78f0"/>
<polygon points="301.3,147.2 301.2,146.8 300.4,147.1 299.1,143.3 299.8,143.0 299.7,142.6 301.4,144.6" fill="#0a78f0"/>
<circle cx="279.70" cy="87.30" r="65.78" fill="none" stroke="#111" stroke-width="1.3"/>
<polygon points="278.00,10.00 281.40,10.00 279.70,13.00" fill="#111"/>
<path d="M280.00,86.00 L280.00,53.30 A32.70,32.70 0 1 1 269.35,116.92 Z" fill="#0a78f0"/>
<path d="M280.00,86.00 L269.35,116.92 A32.70,32.70 0 0 1 262.48,113.61 Z" fill="#f00000"/>
<path d="M280.00,86.00 L262.48,113.61 A32.70,32.70 0 0 1 257.45,109.68 Z" fill="#0ac83c"/>
<path d="M280.00,86.00 L257.45,109.68 A32.70,32.70 0 0 1 248.29,93.97 Z" fill="#ff9f0a"/>
<path d="M280.00,86.00 L248.29,93.97 A32.70,32.70 0 0 1 247.34,84.29 Z" fill="#46ffff"/>
<path d="M280.00,86.00 L247.34,84.29 A32.70,32.70 0 0 1 280.00,53.30 Z" fill="#a0a0a0"/>
<text x="280.25" y="125.70" font-size="5.70" text-anchor="middle" fill="#000">GOVLV2</text>
<text x="280.25" y="131.10" font-size="4.70" text-anchor="middle" fill="#000">220,756 bp</text>
<text x="278.40" y="8.00" font-size="3.60" text-anchor="middle" fill="#000">220 kbp</text>
<text x="326.80" y="19.80" font-size="3.60" text-anchor="middle" fill="#000">20 kbp</text>
<text x="364.50" y="98.90" font-size="3.60" text-anchor="middle" fill="#000">60 kbp</text>
<text x="303.10" y="167.70" font-size="3.60" text-anchor="middle" fill="#000">100 kbp</text>
<text x="216.40" y="143.80" font-size="3.60" text-anchor="middle" fill="#000">140 kbp</text>
<text x="201.20" y="53.80" font-size="3.60" text-anchor="middle" fill="#000">180 kbp</text>
</g>
<g id="g3">
<path d="M463.1,36.7 L465.8,36.8 L468.4,37.0 L471.1,37.3 L474.1,36.1 L476.6,37.2 L479.4,37.4 L481.3,40.1 L483.9,40.8 L486.2,42.2 L488.6,43.5 L490.8,44.9 L493.0,46.4 L495.1,48.0 L498.5,48.3 L500.0,50.7 L502.3,52.3 L502.7,55.6 L505.8,56.6 L505.8,59.9 L507.4,62.0 L510.8,63.3 L509.6,66.9 L510.6,69.4 L511.5,71.9 L513.1,74.2 L512.9,77.0 L513.4,79.6 L513.7,82.3 L513.9,84.9 L514.0,87.6 L513.9,90.3 L516.3,93.2 L515.1,95.8 L514.4,98.5 L513.9,101.2 L511.5,103.3 L510.6,105.8 L509.8,108.4 L510.6,111.8 L507.4,113.2 L507.5,116.5 L505.2,118.2 L503.2,120.1 L500.9,121.7 L499.3,123.8 L497.2,125.4 L495.1,127.2 L493.5,129.5 L491.0,130.5 L489.2,132.9 L486.7,133.9 L483.8,134.1 L481.8,136.3 L478.8,136.0 L476.3,136.8 L473.7,137.4 L471.1,137.9 L468.4,138.2 L465.8,138.4 L463.1,140.2 L460.4,139.1 L457.8,138.2 L455.1,137.9 L452.5,137.6 L449.4,138.7 L447.4,136.0 L444.0,137.5 L442.3,134.3 L440.0,133.0 L437.6,131.7 L434.5,131.6 L432.2,130.1 L430.5,127.8 L429.0,125.4 L426.9,123.8 L424.8,122.1 L423.5,119.6 L421.9,117.5 L419.7,115.8 L419.0,113.1 L417.6,110.8 L416.5,108.3 L414.2,106.4 L414.7,103.3 L411.7,101.4 L413.3,98.2 L412.7,95.6 L412.4,92.9 L412.3,90.3 L412.0,87.6 L411.5,84.9 L412.5,82.3 L410.6,79.3 L411.8,76.7 L413.3,74.3 L414.7,71.9 L415.6,69.4 L416.6,66.9 L416.2,63.7 L419.0,62.1 L420.4,59.9 L421.9,57.7 L423.5,55.6 L425.3,53.5 L427.0,51.5 L429.0,49.8 L431.1,48.0 L432.4,45.3 L435.4,44.9 L437.6,43.5 L438.9,40.2 L441.9,39.9 L444.2,38.4 L447.4,39.2 L449.9,38.4 L452.2,36.1 L455.1,37.3 L457.8,37.0 L460.4,36.5 Z M460.5,37.2 L458.0,39.0 L455.4,39.3 L452.6,38.3 L450.7,41.3 L447.6,39.9 L445.0,40.5 L442.6,41.5 L440.2,42.7 L437.9,43.9 L435.7,45.4 L433.5,46.8 L432.2,49.4 L430.6,51.5 L427.4,51.9 L425.7,53.9 L424.7,56.5 L423.8,59.1 L423.0,61.5 L419.4,62.4 L418.2,64.7 L418.7,67.8 L416.8,69.8 L415.4,72.1 L414.4,74.5 L413.8,77.1 L413.3,79.7 L413.6,82.4 L412.7,85.0 L412.7,87.6 L413.7,90.2 L412.9,92.9 L413.3,95.5 L413.9,98.1 L414.4,100.7 L416.3,102.8 L416.0,105.7 L417.0,108.1 L418.2,110.5 L419.4,112.8 L420.8,115.1 L422.4,117.2 L423.9,119.3 L425.6,121.3 L427.4,123.3 L430.1,124.3 L431.4,126.8 L433.5,128.4 L435.6,129.9 L438.0,131.1 L441.1,130.8 L442.6,133.7 L445.0,134.7 L447.5,135.5 L450.0,136.3 L452.6,136.9 L455.2,137.2 L457.9,136.8 L460.5,138.0 L463.1,138.0 L465.6,136.0 L468.2,136.6 L470.7,135.6 L473.5,136.7 L476.2,136.3 L478.1,133.8 L481.2,134.7 L483.5,133.5 L486.0,132.5 L488.3,131.3 L490.6,129.9 L492.7,128.4 L494.1,125.8 L496.7,125.0 L498.8,123.3 L500.5,121.3 L502.3,119.3 L503.9,117.2 L505.4,115.1 L506.8,112.8 L508.0,110.5 L509.2,108.1 L510.0,105.6 L509.9,102.8 L511.8,100.7 L512.4,98.1 L512.9,95.5 L513.3,92.9 L512.3,90.2 L511.2,87.6 L511.5,85.1 L511.9,82.5 L510.9,80.0 L510.9,77.4 L511.8,74.5 L508.6,72.8 L508.1,70.3 L507.9,67.7 L508.0,64.7 L506.8,62.4 L504.4,60.8 L503.9,58.0 L501.1,56.9 L500.6,53.9 L498.8,51.9 L496.8,50.1 L494.4,48.9 L492.6,47.0 L490.6,45.3 L487.7,45.0 L486.0,42.7 L483.6,41.5 L481.1,40.8 L478.7,39.6 L476.2,38.9 L473.6,38.3 L471.0,37.8 L468.3,37.7 L465.7,37.5 L463.1,38.1 Z" fill="#c9c9c9" fill-rule="evenodd"/>
<circle cx="463.10" cy="87.60" r="73.00" fill="none" stroke="#505050" stroke-width="0.55"/>
<path d="M463.10,14.60 L463.10,13.40 M475.71,15.70 L475.91,14.51 M487.93,18.95 L488.34,17.83 M499.41,24.27 L500.01,23.23 M509.81,31.50 L510.57,30.57 M518.79,40.40 L520.32,39.11 M526.11,50.73 L527.14,50.12 M531.53,62.16 L532.65,61.75 M534.89,74.36 L536.07,74.15 M536.10,86.96 L537.30,86.95 M535.11,99.57 L536.29,99.77 M531.96,111.83 L533.09,112.23 M526.74,123.36 L527.79,123.95 M519.61,133.81 L520.54,134.57 M510.78,142.88 L511.57,143.78 M500.52,150.28 L501.55,152.00 M489.13,155.80 L489.56,156.92 M476.97,159.27 L477.19,160.45 M464.38,160.59 L464.40,161.79 M451.76,159.71 L451.57,160.90 M439.47,156.67 L439.09,157.81 M427.90,151.55 L427.32,152.61 M417.39,144.51 L416.64,145.45 M408.25,135.77 L407.34,136.56 M400.75,125.57 L399.73,126.19 M395.13,114.23 L393.27,114.96 M391.55,102.09 L390.38,102.33 M390.13,89.52 L388.93,89.55 M390.89,76.89 L389.70,76.71 M393.82,64.58 L392.69,64.20 M398.84,52.96 L397.78,52.40 M405.79,42.39 L404.84,41.64 M414.45,33.17 L413.66,32.28 M424.59,25.59 L423.95,24.57 M435.87,19.87 L435.42,18.75 M447.98,16.18 L447.56,14.23 M460.54,14.64 L460.50,13.45" stroke="#555" stroke-width="0.35" fill="none"/>
<polygon points="457.5,16.8 458.4,16.7 458.3,16.3 459.5,18.6 458.7,21.1 458.6,20.7 457.8,20.7" fill="#0a78f0"/>
<polygon points="463.4,16.6 463.6,16.6 463.6,16.1 464.6,18.6 463.5,20.9 463.5,20.5 463.4,20.5" fill="#a0a0a0"/>
<polygon points="435.6,22.1 437.1,21.5 438.6,20.9 438.4,20.5 440.2,22.4 440.1,25.0 439.9,24.6 438.5,25.2 437.1,25.7" fill="#0a78f0"/>
<polygon points="439.8,20.5 441.3,20.0 442.8,19.5 442.7,19.1 444.3,21.1 444.0,23.7 443.9,23.3 442.5,23.8 441.1,24.2" fill="#a0a0a0"/>
<polygon points="423.0,29.0 424.1,28.2 423.9,27.9 426.0,29.3 426.5,31.9 426.3,31.5 425.2,32.2" fill="#46ffff"/>
<polygon points="420.3,30.9 421.3,30.1 421.1,29.8 423.3,31.2 423.9,33.7 423.7,33.3 422.7,34.1" fill="#0a78f0"/>
<polygon points="417.5,33.1 418.5,32.3 418.2,32.0 420.5,33.2 421.2,35.7 421.0,35.4 420.0,36.2" fill="#0a78f0"/>
<polygon points="414.7,35.6 415.7,34.7 415.4,34.4 417.7,35.5 418.6,38.0 418.3,37.7 417.4,38.5" fill="#f00000"/>
<polygon points="412.3,37.9 412.9,37.3 412.6,37.0 415.0,38.0 416.0,40.4 415.7,40.1 415.1,40.7" fill="#0a78f0"/>
<polygon points="410.2,40.1 410.8,39.5 410.5,39.2 413.0,40.1 414.0,42.5 413.7,42.2 413.2,42.8" fill="#0a78f0"/>
<polygon points="408.2,42.5 408.7,41.9 408.4,41.6 410.9,42.4 412.1,44.7 411.8,44.4 411.3,45.0" fill="#0a78f0"/>
<polygon points="405.9,45.4 406.4,44.8 406.1,44.5 408.6,45.2 409.9,47.4 409.6,47.1 409.1,47.8" fill="#0a78f0"/>
<polygon points="402.4,50.6 403.3,49.3 404.2,48.0 403.8,47.7 406.4,48.2 407.8,50.4 407.4,50.2 406.6,51.4 405.8,52.7" fill="#0ac83c"/>
<polygon points="395.5,65.6 396.0,64.4 395.5,64.3 398.2,64.1 400.1,65.8 399.7,65.7 399.3,66.9" fill="#0a78f0"/>
<polygon points="392.6,78.8 392.9,76.9 393.2,74.9 393.6,72.9 393.2,72.8 395.7,72.3 397.9,73.8 397.5,73.7 397.1,75.6 396.8,77.5 396.5,79.3" fill="#0a78f0"/>
<polygon points="393.9,71.7 394.2,70.1 394.7,68.6 394.2,68.5 396.8,68.2 398.9,69.8 398.5,69.6 398.1,71.1 397.7,72.6" fill="#0a78f0"/>
<polygon points="392.2,83.6 392.3,82.3 391.8,82.2 394.3,81.4 396.6,82.6 396.2,82.6 396.1,83.8" fill="#a0a0a0"/>
<polygon points="392.1,91.2 392.1,90.3 392.1,89.4 391.6,89.4 394.0,88.3 396.5,89.3 396.0,89.3 396.1,90.1 396.1,91.0" fill="#a0a0a0"/>
<polygon points="392.6,96.5 392.5,95.2 392.0,95.3 394.3,94.0 396.8,94.7 396.4,94.8 396.5,96.0" fill="#0a78f0"/>
<polygon points="448.2,26.3 448.3,26.7 449.4,26.5 450.4,26.3 451.2,30.1 450.2,30.3 449.3,30.6 449.4,31.0 447.8,28.9" fill="#0a78f0"/>
<polygon points="451.5,25.6 451.6,26.0 453.2,25.8 454.8,25.5 456.4,25.3 456.8,29.3 455.3,29.4 453.8,29.7 452.3,29.9 452.4,30.3 451.0,28.2" fill="#0a78f0"/>
<polygon points="457.4,24.8 457.5,25.2 458.6,25.1 459.7,25.1 459.9,29.0 458.9,29.1 457.8,29.2 457.9,29.6 456.6,27.3" fill="#0a78f0"/>
<polygon points="462.2,24.5 462.3,25.0 463.1,25.0 463.1,28.9 462.3,28.9 462.3,29.4 461.3,27.0" fill="#0ac83c"/>
<polygon points="466.7,24.6 466.7,25.1 467.3,25.1 468.0,25.2 467.7,29.1 467.1,29.1 466.5,29.0 466.4,29.5 465.6,27.0" fill="#ff9f0a"/>
<polygon points="469.0,24.8 468.9,25.2 470.7,25.4 472.5,25.7 474.3,26.0 473.6,29.9 471.9,29.6 470.2,29.4 468.5,29.2 468.5,29.6 467.7,27.1" fill="#a0a0a0"/>
<polygon points="475.5,25.8 475.5,26.2 477.1,26.6 478.8,27.0 480.4,27.4 479.3,31.2 477.8,30.8 476.2,30.4 474.7,30.1 474.6,30.5 474.1,27.9" fill="#a0a0a0"/>
<polygon points="430.9,33.4 431.2,33.7 432.1,33.2 433.1,32.6 435.0,36.1 434.1,36.6 433.2,37.1 433.4,37.5 431.3,35.9" fill="#ff9f0a"/>
<polygon points="435.1,31.1 435.3,31.5 436.5,30.9 437.8,30.3 439.4,33.9 438.2,34.5 437.1,35.0 437.3,35.4 435.3,33.7" fill="#a0a0a0"/>
<polygon points="420.2,41.3 420.5,41.7 421.4,40.9 422.2,40.1 424.8,43.1 424.0,43.8 423.2,44.6 423.5,44.9 421.2,43.8" fill="#0a78f0"/>
<polygon points="425.1,37.3 425.4,37.6 426.1,37.1 426.8,36.6 429.1,39.8 428.4,40.3 427.7,40.8 428.0,41.1 425.8,39.8" fill="#0a78f0"/>
<polygon points="413.0,49.3 413.4,49.5 413.9,48.8 414.5,48.1 417.5,50.6 417.0,51.3 416.5,51.9 416.8,52.2 414.3,51.5" fill="#ff9f0a"/>
<polygon points="411.9,50.8 412.2,51.1 412.7,50.4 415.9,52.7 415.4,53.4 415.8,53.6 413.3,53.0" fill="#0ac83c"/>
<polygon points="405.9,61.1 406.3,61.3 406.8,60.1 407.4,58.9 408.0,57.8 411.5,59.7 410.9,60.7 410.4,61.8 409.9,62.9 410.3,63.1 407.7,63.0" fill="#0a78f0"/>
<polygon points="408.2,56.5 408.6,56.7 409.4,55.4 410.2,54.1 413.5,56.2 412.8,57.4 412.1,58.7 412.4,58.9 409.9,58.6" fill="#0a78f0"/>
<polygon points="403.5,67.1 403.9,67.2 404.4,65.7 405.0,64.2 405.6,62.7 409.2,64.3 408.7,65.7 408.1,67.1 407.6,68.5 408.0,68.7 405.4,68.8" fill="#0a78f0"/>
<polygon points="400.3,82.1 400.7,82.1 400.8,80.9 401.0,79.7 404.9,80.2 404.8,81.3 404.6,82.5 405.1,82.5 402.6,83.3" fill="#0a78f0"/>
<polygon points="400.0,86.4 400.5,86.4 400.5,85.5 400.5,84.6 404.5,84.8 404.5,85.7 404.4,86.5 404.9,86.5 402.4,87.5" fill="#0a78f0"/>
<polygon points="400.1,91.1 400.6,91.0 400.5,90.2 400.5,89.3 404.4,89.2 404.5,90.0 404.5,90.8 404.9,90.8 402.6,91.9" fill="#a0a0a0"/>
<polygon points="401.4,100.8 401.9,100.8 401.6,99.3 401.3,97.9 401.1,96.5 405.0,95.9 405.2,97.2 405.5,98.6 405.7,99.9 406.2,99.8 404.0,101.3" fill="#0a78f0"/>
<polygon points="400.5,95.3 400.9,95.2 400.8,94.0 400.7,92.7 404.6,92.4 404.7,93.6 404.9,94.8 405.3,94.7 403.0,96.0" fill="#0a78f0"/>
<polygon points="483.1,19.4 484.4,19.8 485.7,20.2 485.8,19.8 486.0,22.4 484.3,24.4 484.4,24.0 483.2,23.6 482.0,23.2" fill="#0a78f0"/>
<polygon points="487.2,20.8 488.7,21.3 490.1,21.9 490.3,21.5 490.3,24.1 488.5,26.0 488.6,25.6 487.2,25.0 485.8,24.5" fill="#a0a0a0"/>
<polygon points="509.3,33.6 510.3,34.5 510.6,34.2 509.7,36.6 507.4,37.8 507.6,37.4 506.7,36.6" fill="#46ffff"/>
<polygon points="513.9,37.9 514.5,38.6 515.1,39.2 515.4,38.9 514.3,41.3 511.9,42.2 512.2,41.9 511.6,41.3 511.1,40.7" fill="#a0a0a0"/>
<polygon points="518.1,42.7 518.7,43.3 519.2,44.0 519.6,43.8 518.3,46.1 515.8,46.7 516.1,46.5 515.6,45.8 515.1,45.2" fill="#0a78f0"/>
<polygon points="523.3,49.9 524.0,51.0 524.6,52.1 525.0,51.9 523.4,53.9 520.8,54.3 521.2,54.0 520.6,53.0 520.0,52.0" fill="#ff9f0a"/>
<polygon points="525.0,52.8 526.0,54.5 526.9,56.3 527.7,58.1 528.1,57.9 526.3,59.8 523.7,59.9 524.1,59.7 523.3,58.0 522.5,56.4 521.6,54.7" fill="#f00000"/>
<polygon points="529.2,61.7 529.7,62.9 530.1,62.7 528.2,64.5 525.6,64.4 526.0,64.3 525.6,63.1" fill="#a0a0a0"/>
<polygon points="532.3,71.6 532.5,72.5 532.7,73.4 533.1,73.3 531.0,74.7 528.4,74.2 528.8,74.2 528.7,73.3 528.5,72.5" fill="#0a78f0"/>
<polygon points="532.8,73.9 533.1,75.4 533.3,77.0 533.8,76.9 531.5,78.3 529.0,77.6 529.4,77.6 529.2,76.1 528.9,74.6" fill="#46ffff"/>
<polygon points="533.5,78.4 533.7,79.7 534.1,79.7 531.8,81.0 529.3,80.2 529.8,80.2 529.6,78.9" fill="#ff9f0a"/>
<polygon points="533.9,81.6 534.0,82.8 534.0,83.9 534.5,83.9 532.1,85.0 529.7,84.1 530.1,84.1 530.0,83.0 530.0,82.0" fill="#ff9f0a"/>
<polygon points="490.0,30.6 489.8,31.0 491.1,31.6 492.3,32.2 493.5,32.8 491.6,36.3 490.5,35.7 489.3,35.1 488.1,34.5 488.0,34.9 488.1,32.3" fill="#0a78f0"/>
<polygon points="494.7,33.0 494.5,33.4 495.7,34.1 496.9,34.8 498.0,35.6 495.8,38.9 494.7,38.2 493.6,37.5 492.5,36.8 492.3,37.2 492.6,34.6" fill="#a0a0a0"/>
<polygon points="499.0,35.8 498.8,36.1 499.5,36.6 500.2,37.2 497.9,40.4 497.2,39.9 496.5,39.4 496.3,39.7 496.8,37.2" fill="#f00000"/>
<polygon points="500.9,37.1 500.6,37.5 501.9,38.5 503.2,39.5 504.4,40.5 501.8,43.5 500.6,42.5 499.5,41.6 498.3,40.6 498.0,41.0 498.7,38.5" fill="#0a78f0"/>
<polygon points="506.3,41.6 506.0,41.9 506.9,42.9 507.9,43.9 508.9,44.9 506.0,47.5 505.1,46.6 504.2,45.7 503.2,44.8 503.0,45.1 503.9,42.7" fill="#0a78f0"/>
<polygon points="510.4,45.9 510.1,46.2 511.0,47.2 511.9,48.3 512.7,49.4 509.6,51.8 508.8,50.8 508.0,49.8 507.1,48.8 506.8,49.1 507.9,46.8" fill="#0a78f0"/>
<polygon points="514.2,50.6 513.8,50.8 514.7,52.1 515.6,53.5 516.5,54.8 513.1,56.9 512.3,55.6 511.5,54.4 510.6,53.2 510.2,53.4 511.6,51.2" fill="#a0a0a0"/>
<polygon points="518.6,57.7 518.2,57.9 518.5,58.4 518.8,59.0 515.3,60.8 515.0,60.3 514.7,59.7 514.4,59.9 516.0,57.9" fill="#a0a0a0"/>
<polygon points="521.4,63.6 521.0,63.8 521.5,64.9 521.9,66.1 518.2,67.5 517.8,66.4 517.4,65.3 517.0,65.4 518.8,63.6" fill="#a0a0a0"/>
<polygon points="522.7,66.9 522.3,67.1 522.7,68.4 523.1,69.7 523.5,71.0 523.8,72.4 520.0,73.3 519.7,72.1 519.3,70.8 518.9,69.6 518.5,68.4 518.1,68.5 520.1,66.8" fill="#0a78f0"/>
<polygon points="524.5,73.2 524.1,73.3 524.2,74.0 524.4,74.6 520.5,75.4 520.4,74.8 520.2,74.2 519.8,74.3 521.9,72.8" fill="#46ffff"/>
<polygon points="525.9,82.1 525.5,82.2 525.6,83.4 525.7,84.6 521.7,84.8 521.6,83.7 521.6,82.5 521.1,82.5 523.4,81.3" fill="#0a78f0"/>
<polygon points="526.1,85.2 525.7,85.2 525.7,86.6 525.7,88.1 525.7,89.5 521.7,89.4 521.8,88.0 521.8,86.7 521.7,85.3 521.3,85.4 523.7,84.3" fill="#0a78f0"/>
<polygon points="526.1,90.7 525.7,90.7 525.6,92.0 525.5,93.3 521.5,93.0 521.6,91.7 521.7,90.5 521.3,90.5 523.7,89.6" fill="#0a78f0"/>
<polygon points="525.7,95.4 525.2,95.4 525.1,96.6 524.9,97.8 524.7,99.0 520.8,98.3 521.0,97.1 521.2,96.0 521.3,94.9 520.9,94.8 523.4,94.1" fill="#46ffff"/>
<polygon points="524.9,100.3 524.4,100.2 524.3,100.9 524.2,101.5 520.3,100.6 520.4,100.0 520.6,99.4 520.1,99.3 522.7,98.8" fill="#46ffff"/>
<polygon points="395.8,110.4 395.2,108.5 394.7,106.6 394.1,104.7 393.7,104.8 395.8,103.2 398.4,103.6 398.0,103.7 398.5,105.6 399.0,107.4 399.6,109.2" fill="#0a78f0"/>
<polygon points="399.6,119.4 399.0,118.2 398.6,118.4 400.4,116.5 403.0,116.3 402.6,116.5 403.1,117.6" fill="#0a78f0"/>
<polygon points="407.2,131.4 406.7,130.7 406.1,130.0 405.8,130.3 407.1,128.0 409.6,127.4 409.3,127.7 409.8,128.3 410.3,129.0" fill="#a0a0a0"/>
<polygon points="410.0,134.8 409.0,133.6 408.0,132.4 407.6,132.7 408.9,130.4 411.4,129.6 411.0,129.9 412.0,131.1 413.0,132.2" fill="#0a78f0"/>
<polygon points="416.2,140.9 414.8,139.7 413.5,138.4 412.2,137.1 411.9,137.4 412.9,135.0 415.3,134.1 415.0,134.4 416.2,135.6 417.5,136.8 418.8,138.0" fill="#0a78f0"/>
<polygon points="443.4,155.9 442.2,155.5 441.0,155.1 440.9,155.5 440.7,152.9 442.4,151.0 442.3,151.4 443.4,151.7 444.5,152.1" fill="#0a78f0"/>
<polygon points="447.5,156.9 446.2,156.6 446.1,157.0 445.7,154.4 447.3,152.3 447.2,152.8 448.4,153.1" fill="#0a78f0"/>
<polygon points="472.7,158.0 470.9,158.2 469.2,158.4 467.4,158.5 465.6,158.6 465.6,159.0 464.5,156.6 465.4,154.2 465.5,154.6 467.1,154.6 468.8,154.4 470.5,154.3 472.2,154.1" fill="#0a78f0"/>
<polygon points="483.4,155.7 481.8,156.1 480.3,156.5 478.7,156.9 478.8,157.3 477.3,155.2 477.7,152.6 477.8,153.0 479.3,152.7 480.8,152.3 482.2,151.9" fill="#0a78f0"/>
<polygon points="404.2,110.1 404.6,110.0 404.4,109.4 404.1,108.7 407.9,107.4 408.1,108.0 408.3,108.6 408.7,108.4 406.8,110.2" fill="#ff9f0a"/>
<polygon points="410.7,122.6 411.0,122.4 410.4,121.4 409.7,120.4 409.1,119.3 412.5,117.3 413.1,118.3 413.7,119.3 414.3,120.2 414.7,120.0 413.2,122.1" fill="#0a78f0"/>
<polygon points="408.1,118.5 408.5,118.3 407.8,117.0 407.1,115.6 406.4,114.3 410.0,112.6 410.6,113.9 411.3,115.1 411.9,116.3 412.3,116.1 410.7,118.2" fill="#0a78f0"/>
<polygon points="416.3,129.9 416.6,129.6 416.2,129.1 415.7,128.6 418.7,126.0 419.1,126.5 419.5,126.9 419.9,126.6 418.8,129.0" fill="#f00000"/>
<polygon points="431.4,142.1 431.6,141.7 430.1,140.8 428.6,139.8 427.1,138.8 429.3,135.6 430.7,136.5 432.2,137.5 433.6,138.3 433.8,137.9 433.5,140.5" fill="#0a78f0"/>
<polygon points="425.8,138.5 426.1,138.1 424.8,137.2 423.6,136.2 422.4,135.2 421.2,134.2 423.9,131.2 425.0,132.2 426.1,133.1 427.3,134.1 428.4,134.9 428.7,134.6 428.1,137.1" fill="#0a78f0"/>
<polygon points="435.4,144.2 435.6,143.9 434.5,143.3 433.4,142.7 435.2,139.2 436.3,139.8 437.3,140.3 437.5,139.9 437.3,142.5" fill="#a0a0a0"/>
<polygon points="439.9,146.2 440.1,145.8 438.9,145.4 437.8,144.9 436.7,144.4 438.4,140.8 439.4,141.3 440.5,141.7 441.5,142.2 441.7,141.8 441.7,144.4" fill="#0a78f0"/>
<polygon points="445.6,148.2 445.7,147.8 444.9,147.5 444.0,147.2 445.2,143.5 446.0,143.7 446.8,144.0 446.9,143.6 447.2,146.1" fill="#0a78f0"/>
<polygon points="464.3,150.7 464.3,150.2 462.5,150.2 460.8,150.2 459.1,150.1 459.3,146.2 461.0,146.2 462.6,146.3 464.2,146.3 464.2,145.8 465.2,148.2" fill="#0a78f0"/>
<polygon points="457.8,150.4 457.9,150.0 456.4,149.9 454.9,149.7 455.4,145.8 456.8,145.9 458.2,146.1 458.2,145.6 459.0,148.1" fill="#0a78f0"/>
<polygon points="453.7,150.0 453.7,149.5 452.3,149.3 450.9,149.0 449.5,148.7 448.0,148.4 449.0,144.6 450.3,144.9 451.6,145.1 453.0,145.4 454.3,145.6 454.4,145.2 455.0,147.7" fill="#0a78f0"/>
<polygon points="474.5,149.6 474.5,149.2 472.9,149.5 471.3,149.7 470.8,145.8 472.3,145.6 473.7,145.3 473.7,144.9 475.1,147.1" fill="#0a78f0"/>
<polygon points="482.5,147.6 482.3,147.2 481.1,147.6 479.9,147.9 478.9,144.1 480.0,143.8 481.1,143.4 481.0,143.0 482.7,145.0" fill="#0a78f0"/>
<polygon points="532.3,103.7 532.0,105.1 531.6,106.4 531.2,107.7 531.7,107.8 529.0,108.1 527.0,106.5 527.4,106.6 527.8,105.3 528.1,104.1 528.4,102.8" fill="#f00000"/>
<polygon points="530.7,109.4 530.2,110.9 529.7,112.4 530.1,112.5 527.5,112.6 525.6,110.8 526.0,111.0 526.5,109.6 527.0,108.1" fill="#f00000"/>
<polygon points="526.7,119.2 526.1,120.4 525.5,121.6 524.8,122.8 525.2,123.0 522.6,122.7 521.0,120.6 521.4,120.9 522.0,119.7 522.6,118.6 523.2,117.4" fill="#0a78f0"/>
<polygon points="523.6,124.8 522.8,126.1 521.9,127.4 522.3,127.7 519.7,127.2 518.3,125.0 518.6,125.2 519.5,124.0 520.3,122.7" fill="#0a78f0"/>
<polygon points="519.7,130.6 518.9,131.5 518.1,132.5 518.5,132.8 516.0,132.0 514.7,129.7 515.1,130.0 515.8,129.1 516.5,128.2" fill="#0a78f0"/>
<polygon points="516.6,134.4 515.3,135.7 514.1,137.1 514.4,137.4 512.0,136.4 510.9,134.0 511.3,134.3 512.4,133.1 513.6,131.8" fill="#0a78f0"/>
<polygon points="513.4,137.8 512.3,138.9 511.2,139.9 510.1,140.9 510.4,141.2 508.0,140.1 507.2,137.6 507.5,137.9 508.5,137.0 509.6,136.0 510.6,135.0" fill="#0a78f0"/>
<polygon points="509.2,141.7 507.8,142.8 506.4,143.9 506.6,144.3 504.4,143.0 503.7,140.5 504.0,140.8 505.3,139.8 506.6,138.7" fill="#0a78f0"/>
<polygon points="500.5,148.0 499.7,148.5 498.9,148.9 499.2,149.3 497.1,147.7 496.7,145.2 496.9,145.5 497.7,145.1 498.4,144.7" fill="#ff9f0a"/>
<polygon points="494.2,151.5 493.1,152.0 491.9,152.5 492.1,152.9 490.2,151.1 490.2,148.5 490.3,148.9 491.4,148.4 492.5,147.9" fill="#0a78f0"/>
<polygon points="490.8,153.0 489.5,153.6 488.1,154.1 486.7,154.6 486.9,155.0 485.1,153.1 485.3,150.5 485.4,150.9 486.7,150.4 488.0,149.9 489.3,149.4" fill="#0a78f0"/>
<polygon points="523.0,107.3 522.6,107.2 522.3,108.0 518.6,106.7 518.8,105.9 518.4,105.8 521.0,105.6" fill="#a0a0a0"/>
<polygon points="521.2,112.1 520.8,111.9 520.2,113.4 519.5,114.8 515.9,113.1 516.6,111.7 517.2,110.4 516.8,110.2 519.4,110.2" fill="#0a78f0"/>
<polygon points="519.3,116.1 518.9,115.9 518.6,116.7 515.1,114.9 515.4,114.2 515.0,114.0 517.6,114.2" fill="#f00000"/>
<polygon points="514.9,123.6 514.5,123.4 513.9,124.3 513.2,125.2 510.0,122.8 510.7,122.0 511.3,121.1 510.9,120.9 513.5,121.4" fill="#0ac83c"/>
<polygon points="516.2,121.6 515.9,121.4 515.4,122.1 512.1,119.9 512.5,119.2 512.2,119.0 514.7,119.4" fill="#0a78f0"/>
<polygon points="511.6,128.0 511.2,127.7 510.7,128.3 507.7,125.8 508.2,125.2 507.9,124.9 510.3,125.6" fill="#0a78f0"/>
<polygon points="499.6,139.0 499.4,138.7 498.2,139.5 497.1,140.2 495.9,140.9 493.8,137.6 494.9,136.9 496.0,136.2 497.1,135.4 496.8,135.1 499.0,136.5" fill="#0a78f0"/>
<circle cx="463.10" cy="87.60" r="65.15" fill="none" stroke="#111" stroke-width="1.3"/>
<polygon points="461.40,11.00 464.80,11.00 463.10,14.00" fill="#111"/>
<path d="M463.50,87.60 L463.50,54.10 A33.50,33.50 0 1 1 448.87,117.74 Z" fill="#0a78f0"/>
<path d="M463.50,87.60 L448.87,117.74 A33.50,33.50 0 0 1 443.11,114.18 Z" fill="#f00000"/>
<path d="M463.50,87.60 L443.11,114.18 A33.50,33.50 0 0 1 439.98,111.45 Z" fill="#0ac83c"/>
<path d="M463.50,87.60 L439.98,111.45 A33.50,33.50 0 0 1 434.52,104.40 Z" fill="#ff9f0a"/>
<path d="M463.50,87.60 L434.52,104.40 A33.50,33.50 0 0 1 432.12,99.33 Z" fill="#46ffff"/>
<path d="M463.50,87.60 L432.12,99.33 A33.50,33.50 0 0 1 463.50,54.10 Z" fill="#a0a0a0"/>
<text x="463.70" y="127.90" font-size="5.40" text-anchor="middle" fill="#000">GOVLV3</text>
<text x="463.70" y="132.30" font-size="4.47" text-anchor="middle" fill="#000">144,809 bp</text>
<text x="446.10" y="10.38" font-size="4.40" text-anchor="middle" fill="#000">140 kbp</text>
<text x="531.10" y="36.78" font-size="4.40" text-anchor="middle" fill="#000">20 kbp</text>
<text x="510.20" y="158.78" font-size="4.40" text-anchor="middle" fill="#000">60 kbp</text>
<text x="380.60" y="118.78" font-size="4.40" text-anchor="middle" fill="#000">100 kbp</text>
</g>
<g id="g4">
<path d="M98.9,206.3 L102.1,206.4 L105.6,203.5 L108.4,206.5 L111.8,206.3 L115.1,206.7 L117.4,209.7 L120.4,210.9 L123.2,212.3 L126.0,213.8 L128.6,215.6 L132.2,216.1 L133.6,219.5 L136.3,221.2 L139.4,222.7 L141.7,225.1 L141.9,228.9 L143.7,231.5 L145.8,234.0 L146.6,237.1 L150.1,239.2 L148.9,243.0 L149.7,246.1 L150.3,249.2 L150.8,252.3 L151.1,255.4 L151.2,258.6 L151.1,261.8 L150.8,264.9 L153.2,268.5 L150.9,271.4 L148.8,274.2 L148.0,277.2 L146.6,280.1 L147.8,284.3 L143.7,285.7 L143.9,289.6 L140.2,290.9 L139.6,294.7 L136.0,295.7 L134.3,298.6 L131.2,299.8 L129.1,302.4 L126.1,303.5 L123.2,304.9 L120.4,306.3 L117.4,307.5 L115.1,310.7 L111.4,309.4 L108.3,310.0 L105.2,310.5 L102.1,310.8 L98.9,310.9 L95.6,313.6 L92.6,310.5 L89.5,310.1 L86.4,309.4 L83.3,308.7 L80.3,307.6 L76.9,307.5 L73.2,307.5 L71.8,303.4 L69.2,301.6 L66.6,299.8 L64.2,297.7 L61.9,295.6 L58.9,294.1 L57.7,290.9 L55.9,288.3 L54.1,285.7 L50.4,284.1 L51.2,280.1 L47.0,278.3 L49.0,274.2 L48.1,271.1 L46.5,268.2 L47.0,264.9 L43.8,261.9 L46.6,258.6 L46.7,255.4 L47.0,252.3 L47.5,249.2 L48.1,246.1 L48.8,243.0 L50.0,240.1 L51.2,237.1 L50.6,233.3 L52.4,230.5 L55.9,228.9 L57.6,226.3 L59.8,223.9 L61.7,221.4 L63.8,218.9 L66.6,217.4 L69.2,215.6 L71.8,213.8 L74.6,212.3 L77.4,210.9 L80.4,209.7 L82.9,207.4 L86.2,206.9 L89.2,205.8 L92.5,205.7 L95.7,204.9 Z M95.8,206.9 L92.7,207.2 L89.6,207.6 L86.5,208.3 L83.5,209.1 L80.6,210.2 L78.7,213.7 L74.9,212.8 L73.0,215.8 L70.5,217.5 L67.0,217.9 L64.5,219.8 L62.3,222.0 L60.2,224.3 L58.1,226.6 L56.3,229.2 L54.6,231.8 L53.0,234.5 L51.6,237.3 L51.3,240.5 L49.4,243.2 L50.8,246.7 L50.4,249.7 L47.5,252.4 L47.4,255.5 L48.5,258.6 L47.2,261.7 L49.0,264.7 L47.9,267.9 L49.9,270.7 L51.7,273.3 L50.5,277.0 L53.4,279.1 L53.0,282.7 L56.6,284.2 L58.4,286.6 L60.4,288.8 L60.1,293.0 L62.3,295.2 L64.6,297.3 L68.9,296.8 L70.2,300.2 L72.2,302.7 L74.8,304.5 L77.6,305.9 L80.5,307.0 L83.5,308.1 L86.9,307.1 L89.6,309.6 L92.9,308.1 L95.8,310.3 L98.9,310.3 L101.9,308.6 L105.1,309.8 L107.8,307.0 L111.2,308.6 L114.3,308.1 L116.4,304.8 L118.9,303.0 L122.9,304.4 L125.7,302.9 L128.3,301.2 L128.9,296.9 L133.3,297.4 L135.5,295.2 L137.7,293.0 L139.7,290.6 L141.5,288.0 L143.2,285.4 L144.8,282.7 L145.9,279.7 L147.3,277.0 L145.7,273.2 L149.2,271.0 L149.9,267.9 L148.8,264.7 L148.6,261.6 L148.7,258.6 L148.7,255.6 L148.9,252.5 L149.6,249.3 L149.2,246.2 L148.4,243.2 L147.3,240.2 L145.5,237.6 L144.8,234.5 L143.2,231.8 L141.3,229.3 L139.7,226.6 L137.7,224.2 L135.5,222.0 L133.2,219.8 L130.9,217.8 L127.6,217.0 L124.6,216.1 L122.3,214.0 L119.8,212.2 L116.5,212.1 L114.3,209.1 L111.3,208.3 L108.2,207.6 L105.1,207.2 L102.0,206.9 L98.9,206.8 Z" fill="#c9c9c9" fill-rule="evenodd"/>
<circle cx="98.90" cy="258.60" r="75.00" fill="none" stroke="#505050" stroke-width="0.55"/>
<path d="M98.90,183.60 L98.90,182.40 M106.43,183.98 L106.55,182.79 M113.89,185.11 L114.13,183.94 M121.19,186.99 L121.55,185.84 M128.27,189.59 L128.74,188.49 M135.06,192.89 L135.64,191.84 M141.47,196.85 L142.16,195.87 M147.46,201.44 L148.24,200.53 M152.96,206.61 L153.82,205.78 M157.90,212.30 L158.85,211.56 M162.26,218.46 L163.27,217.82 M165.97,225.03 L167.04,224.49 M169.00,231.93 L170.12,231.51 M171.32,239.11 L172.48,238.80 M172.91,246.48 L174.10,246.29 M173.76,253.98 L175.75,253.86 M173.84,261.52 L175.04,261.57 M173.17,269.03 L174.36,269.20 M171.75,276.44 L172.91,276.73 M169.59,283.67 L170.72,284.07 M166.71,290.64 L167.80,291.15 M163.15,297.29 L164.18,297.91 M158.94,303.55 L159.90,304.27 M154.12,309.35 L155.01,310.16 M148.75,314.64 L149.54,315.54 M142.87,319.36 L143.57,320.33 M136.54,323.47 L137.14,324.51 M129.83,326.92 L130.33,328.02 M122.82,329.68 L123.20,330.82 M115.55,331.73 L115.82,332.90 M108.13,333.03 L108.37,335.02 M100.60,333.58 L100.63,334.78 M93.06,333.37 L92.97,334.57 M85.58,332.41 L85.37,333.59 M78.24,330.70 L77.91,331.85 M71.10,328.26 L70.66,329.37 M64.24,325.11 L63.69,326.18 M57.74,321.30 L57.08,322.30 M51.65,316.84 L50.89,317.78 M46.04,311.80 L45.19,312.66 M40.96,306.23 L40.04,306.99 M36.47,300.17 L35.47,300.83 M32.61,293.69 L31.55,294.25 M29.42,286.85 L28.31,287.30 M26.94,279.73 L25.79,280.07 M25.18,272.39 L23.21,272.76 M24.17,264.92 L22.97,265.02 M23.91,257.38 L22.71,257.36 M24.41,249.86 L23.22,249.72 M25.67,242.42 L24.49,242.16 M27.66,235.15 L26.52,234.77 M30.38,228.11 L29.28,227.62 M33.79,221.38 L32.74,220.79 M37.85,215.03 L36.88,214.33 M42.54,209.12 L41.64,208.33 M47.79,203.71 L46.98,202.83 M53.57,198.85 L52.84,197.90 M59.80,194.60 L59.17,193.58 M66.42,191.00 L65.90,189.92 M73.38,188.08 L72.97,186.95 M80.59,185.87 L80.10,183.93 M87.99,184.40 L87.81,183.21 M95.49,183.68 L95.44,182.48" stroke="#555" stroke-width="0.35" fill="none"/>
<polygon points="91.6,185.8 93.2,185.6 94.9,185.5 96.5,185.4 96.5,185.0 98.2,187.6 96.7,190.4 96.7,189.9 95.1,190.0 93.6,190.1 92.1,190.2" fill="#0a78f0"/>
<polygon points="99.9,185.4 100.2,185.4 100.2,184.9 101.7,187.7 100.1,190.4 100.1,189.9 99.9,189.9" fill="#a0a0a0"/>
<polygon points="102.2,185.5 102.4,185.5 102.4,185.0 103.9,187.8 102.1,190.4 102.2,190.0 102.0,189.9" fill="#ff9f0a"/>
<polygon points="105.3,185.7 106.0,185.7 106.0,185.3 107.4,188.1 105.5,190.7 105.5,190.2 104.9,190.1" fill="#a0a0a0"/>
<polygon points="108.1,186.0 108.8,186.1 108.8,185.6 110.0,188.5 108.1,191.0 108.2,190.5 107.5,190.4" fill="#ff9f0a"/>
<polygon points="75.6,189.2 77.1,188.7 78.7,188.2 80.3,187.8 81.9,187.4 81.8,186.9 83.9,189.2 83.0,192.2 82.9,191.8 81.4,192.1 79.9,192.6 78.5,193.0 77.0,193.5" fill="#0a78f0"/>
<polygon points="57.8,198.0 58.6,197.5 59.3,197.0 59.1,196.6 61.9,198.0 62.0,201.2 61.8,200.8 61.0,201.3 60.3,201.7" fill="#0a78f0"/>
<polygon points="60.7,196.2 61.2,195.8 61.7,195.6 61.5,195.1 64.2,196.7 64.2,199.8 64.0,199.4 63.5,199.7 63.1,200.0" fill="#ff9f0a"/>
<polygon points="63.6,194.5 64.2,194.2 64.0,193.7 66.7,195.4 66.5,198.5 66.3,198.1 65.7,198.4" fill="#46ffff"/>
<polygon points="65.5,193.5 66.6,192.9 67.8,192.4 67.6,191.9 70.2,193.7 69.9,196.9 69.7,196.4 68.6,196.9 67.5,197.5" fill="#0a78f0"/>
<polygon points="48.0,206.0 49.0,205.1 49.9,204.2 49.6,203.9 52.6,204.8 53.2,207.9 52.9,207.5 52.0,208.4 51.1,209.2" fill="#0a78f0"/>
<polygon points="37.5,218.7 38.4,217.4 39.4,216.0 40.3,214.7 39.9,214.4 43.1,214.8 44.3,217.7 43.9,217.4 43.0,218.6 42.1,219.9 41.3,221.2" fill="#0a78f0"/>
<polygon points="42.1,212.5 42.5,211.9 42.1,211.6 45.3,212.1 46.3,215.1 46.0,214.8 45.5,215.3" fill="#46ffff"/>
<polygon points="31.8,228.2 34.8,228.1 36.7,230.5" fill="#ff9f0a"/>
<polygon points="27.0,244.9 27.4,243.0 27.8,241.2 28.3,239.4 28.8,237.6 29.3,235.8 30.0,234.0 29.5,233.9 32.6,233.3 34.6,235.7 34.2,235.5 33.6,237.2 33.1,238.9 32.6,240.6 32.1,242.3 31.8,244.0 31.4,245.7" fill="#0a78f0"/>
<polygon points="26.3,249.3 26.4,248.4 26.6,247.4 26.1,247.4 29.0,246.2 31.5,248.2 31.0,248.1 30.9,249.0 30.7,249.9" fill="#0a78f0"/>
<polygon points="25.7,259.3 25.7,258.6 25.2,258.6 28.0,257.0 30.7,258.6 30.2,258.6 30.2,259.2" fill="#ff9f0a"/>
<polygon points="75.9,197.8 76.1,198.2 77.3,197.8 78.5,197.4 79.9,201.6 78.8,202.0 77.6,202.4 77.8,202.9 75.4,200.9" fill="#0a78f0"/>
<polygon points="87.1,194.6 87.2,195.1 88.2,194.9 89.3,194.8 89.9,199.2 89.0,199.3 88.0,199.5 88.1,200.0 86.0,197.6" fill="#0a78f0"/>
<polygon points="91.8,193.9 91.8,194.4 92.0,194.4 92.5,198.9 92.3,198.9 92.4,199.4 90.5,196.9" fill="#f00000"/>
<polygon points="111.8,194.8 111.7,195.3 112.0,195.4 112.4,195.5 111.4,199.8 111.1,199.8 110.8,199.7 110.7,200.2 109.7,197.2" fill="#f00000"/>
<polygon points="114.1,195.4 112.9,200.7 112.2,197.7" fill="#ff9f0a"/>
<polygon points="115.9,195.8 115.8,196.3 116.9,196.6 118.1,197.0 119.2,197.3 117.8,201.6 116.7,201.2 115.7,200.9 114.6,200.6 114.5,201.1 113.7,198.1" fill="#f00000"/>
<polygon points="59.8,206.7 60.1,207.0 60.5,206.7 61.0,206.3 63.6,210.0 63.2,210.3 62.7,210.6 63.0,211.0 60.1,209.8" fill="#0a78f0"/>
<polygon points="62.5,204.7 62.7,205.1 63.0,204.9 63.3,204.7 65.8,208.5 65.5,208.7 65.2,208.8 65.5,209.2 62.7,207.9" fill="#ff9f0a"/>
<polygon points="51.7,213.8 52.1,214.2 52.3,213.9 52.5,213.7 55.8,216.8 55.5,217.0 55.3,217.3 55.7,217.6 52.6,216.9" fill="#0a78f0"/>
<polygon points="54.2,211.3 54.6,211.7 54.8,211.4 55.1,211.2 58.1,214.5 57.9,214.7 57.7,214.9 58.0,215.3 55.0,214.4" fill="#0a78f0"/>
<polygon points="41.6,227.7 42.1,228.0 42.7,226.8 43.4,225.6 44.1,224.5 44.8,223.3 48.6,225.8 47.9,226.8 47.3,227.9 46.6,229.0 46.0,230.1 46.4,230.3 43.3,230.5" fill="#0a78f0"/>
<polygon points="38.8,233.7 39.2,233.9 39.8,232.7 40.3,231.6 44.3,233.4 43.9,234.5 43.4,235.6 43.8,235.8 40.7,236.3" fill="#f00000"/>
<polygon points="34.2,252.2 34.7,252.2 34.7,251.7 34.8,251.1 39.2,251.6 39.2,252.1 39.1,252.7 39.6,252.7 36.8,254.1" fill="#a0a0a0"/>
<polygon points="33.9,256.0 34.4,256.0 34.4,255.8 38.9,256.0 38.9,256.2 39.4,256.2 36.6,257.7" fill="#0a78f0"/>
<polygon points="34.9,270.4 35.4,270.3 35.1,268.5 34.8,266.6 34.6,264.7 34.5,262.9 34.4,261.0 34.3,259.1 38.8,259.1 38.9,260.8 39.0,262.6 39.1,264.3 39.3,266.1 39.5,267.8 39.8,269.5 40.3,269.4 37.9,271.5" fill="#0a78f0"/>
<polygon points="125.5,190.4 126.7,190.9 127.9,191.4 128.0,190.9 128.4,194.1 125.9,195.9 126.1,195.5 125.0,195.0 123.8,194.6" fill="#0a78f0"/>
<polygon points="132.8,193.7 133.8,194.3 134.8,194.8 135.9,195.4 136.1,195.0 136.1,198.2 133.3,199.7 133.6,199.3 132.6,198.7 131.7,198.2 130.7,197.7" fill="#0a78f0"/>
<polygon points="139.0,197.4 140.5,198.4 141.9,199.4 143.4,200.5 143.7,200.1 143.3,203.2 140.4,204.4 140.7,204.0 139.3,203.0 137.9,202.0 136.5,201.1" fill="#ff9f0a"/>
<polygon points="145.5,202.2 146.6,203.1 147.7,204.0 148.7,205.0 149.0,204.6 148.3,207.7 145.3,208.6 145.7,208.2 144.7,207.4 143.7,206.5 142.7,205.6" fill="#a0a0a0"/>
<polygon points="150.2,206.4 150.4,206.6 150.8,206.2 150.0,209.3 146.9,210.1 147.3,209.8 147.1,209.6" fill="#ff9f0a"/>
<polygon points="153.1,209.4 153.5,209.9 153.9,210.3 154.3,210.0 153.3,213.0 150.2,213.6 150.5,213.3 150.2,212.8 149.8,212.4" fill="#46ffff"/>
<polygon points="165.2,227.6 165.3,227.8 165.8,227.6 163.9,230.2 160.8,229.9 161.3,229.7 161.2,229.5" fill="#ff9f0a"/>
<polygon points="165.9,229.2 166.6,230.7 167.2,232.2 167.7,233.7 168.3,235.3 168.7,235.1 166.7,237.5 163.6,236.9 164.0,236.7 163.5,235.3 163.0,233.8 162.4,232.4 161.8,231.0" fill="#0a78f0"/>
<polygon points="169.2,238.3 169.4,239.0 169.9,238.8 167.7,241.1 164.6,240.3 165.1,240.2 164.9,239.5" fill="#46ffff"/>
<polygon points="171.8,252.5 171.9,252.8 172.4,252.7 169.7,254.5 166.9,253.2 167.4,253.1 167.4,252.9" fill="#a0a0a0"/>
<polygon points="172.0,254.2 172.0,255.6 172.1,257.0 172.1,258.4 172.6,258.4 169.8,260.0 167.1,258.4 167.6,258.4 167.6,257.1 167.6,255.8 167.5,254.5" fill="#0ac83c"/>
<polygon points="172.0,261.4 172.0,262.3 171.9,263.2 172.4,263.3 169.6,264.7 167.0,262.9 167.5,263.0 167.5,262.1 167.6,261.2" fill="#ff9f0a"/>
<polygon points="122.1,197.8 121.9,198.3 122.8,198.6 123.6,199.0 121.9,203.1 121.1,202.8 120.3,202.5 120.1,202.9 119.6,199.8" fill="#0a78f0"/>
<polygon points="128.5,200.7 128.3,201.1 128.6,201.3 128.9,201.4 126.8,205.4 126.5,205.3 126.3,205.1 126.0,205.6 125.8,202.4" fill="#0a78f0"/>
<polygon points="134.8,204.4 134.5,204.8 134.8,205.0 135.1,205.2 132.6,208.9 132.3,208.7 132.1,208.5 131.8,208.9 132.0,205.8" fill="#0a78f0"/>
<polygon points="147.1,214.9 146.7,215.2 146.9,215.5 147.2,215.7 143.8,218.7 143.6,218.5 143.4,218.2 143.0,218.5 143.9,215.5" fill="#0a78f0"/>
<polygon points="150.5,219.0 150.1,219.3 151.0,220.4 151.8,221.6 152.6,222.7 148.9,225.2 148.1,224.1 147.4,223.1 146.6,222.0 146.2,222.3 147.4,219.4" fill="#0a78f0"/>
<polygon points="154.5,224.8 154.1,225.1 154.8,226.2 155.4,227.4 156.1,228.6 156.7,229.8 152.7,231.8 152.1,230.7 151.5,229.6 150.9,228.5 150.2,227.4 149.8,227.7 151.3,224.9" fill="#0a78f0"/>
<polygon points="161.4,240.5 160.9,240.6 161.0,241.0 161.1,241.3 156.8,242.5 156.7,242.2 156.6,241.9 156.1,242.0 158.3,239.7" fill="#0a78f0"/>
<polygon points="162.9,247.0 162.4,247.1 162.5,247.3 158.0,248.1 158.0,247.9 157.5,247.9 159.9,245.9" fill="#ff9f0a"/>
<polygon points="163.3,249.2 162.8,249.2 162.8,249.6 162.9,249.9 158.4,250.5 158.4,250.2 158.3,249.9 157.9,250.0 160.3,248.0" fill="#0ac83c"/>
<polygon points="163.6,251.7 163.1,251.8 163.2,252.4 163.2,252.9 158.7,253.3 158.7,252.8 158.6,252.3 158.2,252.3 160.7,250.4" fill="#46ffff"/>
<polygon points="163.5,265.8 163.1,265.8 163.0,266.0 158.6,265.5 158.6,265.3 158.1,265.2 161.0,263.9" fill="#ff9f0a"/>
<polygon points="163.2,268.4 162.7,268.4 162.5,269.5 162.3,270.7 162.1,271.8 157.7,270.9 157.9,269.8 158.1,268.8 158.3,267.7 157.8,267.6 160.7,266.4" fill="#46ffff"/>
<polygon points="28.1,277.2 27.9,276.3 27.7,275.4 27.2,275.5 29.5,273.3 32.5,274.3 32.0,274.4 32.2,275.2 32.4,276.1" fill="#0a78f0"/>
<polygon points="32.5,289.4 32.0,288.2 31.5,287.1 31.0,287.2 32.9,284.7 36.0,285.1 35.6,285.3 36.1,286.4 36.6,287.5" fill="#ff9f0a"/>
<polygon points="33.0,290.4 32.9,290.2 32.4,290.4 34.2,287.7 37.3,288.0 36.9,288.2 37.0,288.4" fill="#46ffff"/>
<polygon points="40.5,302.7 40.1,302.1 39.7,302.4 40.9,299.5 44.1,299.2 43.7,299.5 44.1,300.0" fill="#0a78f0"/>
<polygon points="56.1,318.0 55.5,317.5 54.8,317.0 54.5,317.4 54.9,314.3 57.8,313.1 57.5,313.4 58.1,313.9 58.7,314.4" fill="#ff9f0a"/>
<polygon points="73.5,327.2 71.9,326.6 70.2,325.9 68.6,325.2 67.0,324.5 65.5,323.7 65.3,324.2 65.1,321.0 67.7,319.3 67.5,319.7 69.0,320.5 70.5,321.2 72.0,321.8 73.5,322.5 75.0,323.0" fill="#0a78f0"/>
<polygon points="63.9,322.9 62.2,321.9 60.6,321.0 59.0,320.0 57.5,318.9 57.2,319.3 57.4,316.2 60.3,314.8 60.0,315.2 61.5,316.2 63.0,317.2 64.5,318.1 66.0,318.9" fill="#0a78f0"/>
<polygon points="89.6,331.2 87.7,330.9 85.8,330.6 83.9,330.2 82.0,329.8 81.9,330.3 81.0,327.3 83.2,325.0 83.1,325.5 84.8,325.9 86.6,326.2 88.4,326.5 90.2,326.8" fill="#0a78f0"/>
<polygon points="91.1,331.9 90.3,329.0 91.7,326.4" fill="#a0a0a0"/>
<polygon points="109.0,331.1 108.3,331.2 108.4,331.7 106.4,329.2 107.7,326.3 107.7,326.8 108.4,326.7" fill="#ff9f0a"/>
<polygon points="110.2,330.9 110.0,330.9 110.1,331.4 108.1,329.0 109.2,326.0 109.3,326.5 109.5,326.5" fill="#0a78f0"/>
<polygon points="120.2,328.6 119.3,328.9 118.4,329.2 118.5,329.6 116.2,327.4 117.1,324.4 117.2,324.8 118.0,324.6 118.9,324.4" fill="#0a78f0"/>
<polygon points="37.4,279.7 37.8,279.6 37.4,278.2 37.0,276.9 36.6,275.5 40.9,274.4 41.3,275.6 41.7,276.9 42.1,278.1 42.5,278.0 40.5,280.3" fill="#0a78f0"/>
<polygon points="42.2,290.5 42.6,290.2 41.9,289.0 41.3,287.7 40.7,286.5 44.7,284.5 45.3,285.7 45.9,286.9 46.5,288.0 47.0,287.8 45.4,290.5" fill="#0a78f0"/>
<polygon points="44.0,293.5 44.5,293.3 44.1,292.8 43.8,292.3 47.7,290.0 47.9,290.4 48.2,290.9 48.6,290.6 47.2,293.4" fill="#ff9f0a"/>
<polygon points="58.3,309.4 58.6,309.0 57.3,308.0 56.1,306.9 54.9,305.8 53.7,304.7 52.5,303.5 51.4,302.3 54.7,299.3 55.8,300.4 56.8,301.5 57.9,302.5 59.0,303.6 60.2,304.5 61.4,305.5 61.7,305.1 61.2,308.2" fill="#0a78f0"/>
<polygon points="49.8,301.3 50.2,301.0 49.1,299.7 48.1,298.4 47.1,297.1 46.2,295.8 49.8,293.2 50.7,294.5 51.6,295.7 52.6,296.9 53.6,298.0 53.9,297.7 53.0,300.7" fill="#0a78f0"/>
<polygon points="79.7,320.7 79.8,320.3 78.2,319.8 76.7,319.2 75.2,318.6 73.6,318.0 75.4,313.9 76.8,314.5 78.2,315.0 79.7,315.5 81.1,316.0 81.3,315.5 82.0,318.6" fill="#0a78f0"/>
<polygon points="92.6,323.3 92.7,322.9 92.4,322.8 92.9,318.4 93.1,318.4 93.1,317.9 94.5,320.8" fill="#ff9f0a"/>
<polygon points="100.3,323.6 100.3,323.1 99.0,323.2 97.6,323.1 96.3,323.1 94.9,323.0 95.2,318.6 96.4,318.6 97.7,318.7 99.0,318.7 100.2,318.7 100.2,318.2 101.9,320.8" fill="#0a78f0"/>
<polygon points="103.2,323.5 103.2,323.0 102.8,323.0 102.5,323.1 102.2,318.6 102.6,318.6 102.9,318.5 102.9,318.1 104.6,320.7" fill="#ff9f0a"/>
<polygon points="108.9,322.9 108.8,322.4 108.5,322.4 108.1,322.5 107.5,318.1 107.8,318.0 108.1,318.0 108.1,317.5 110.1,319.9" fill="#0a78f0"/>
<polygon points="112.0,322.3 111.9,321.8 111.3,321.9 110.7,322.1 109.9,317.7 110.4,317.6 111.0,317.4 110.9,317.0 113.0,319.3" fill="#46ffff"/>
<polygon points="170.6,273.1 170.5,273.7 170.4,274.3 170.9,274.4 167.9,275.4 165.5,273.2 166.0,273.3 166.1,272.8 166.3,272.2" fill="#46ffff"/>
<polygon points="170.2,275.3 169.9,276.5 169.5,277.8 170.0,277.9 166.9,278.7 164.7,276.5 165.2,276.6 165.5,275.4 165.8,274.3" fill="#0a78f0"/>
<polygon points="154.9,305.7 154.1,306.7 153.2,307.6 153.6,308.0 150.5,307.3 149.5,304.3 149.9,304.6 150.7,303.7 151.5,302.8" fill="#0a78f0"/>
<polygon points="154.1,306.7 154.0,306.8 154.3,307.1 151.2,306.5 150.2,303.5 150.6,303.9 150.7,303.7" fill="#ff9f0a"/>
<polygon points="145.6,314.9 144.1,316.1 142.6,317.3 141.0,318.5 139.4,319.5 139.7,320.0 136.9,318.6 136.7,315.4 137.0,315.8 138.5,314.8 139.9,313.7 141.4,312.6 142.8,311.5" fill="#0a78f0"/>
<polygon points="136.4,321.5 135.8,321.8 136.0,322.2 133.3,320.7 133.3,317.5 133.5,318.0 134.1,317.6" fill="#0a78f0"/>
<polygon points="134.1,323.3 131.6,321.6 131.5,318.5" fill="#a0a0a0"/>
<polygon points="129.6,325.1 127.9,325.8 126.3,326.5 124.6,327.1 124.8,327.6 122.3,325.6 122.8,322.5 123.0,322.9 124.6,322.3 126.1,321.7 127.7,321.0" fill="#0a78f0"/>
<polygon points="160.4,279.7 160.0,279.5 159.8,280.1 159.6,280.6 155.4,279.1 155.6,278.6 155.7,278.1 155.3,277.9 158.3,277.3" fill="#ff9f0a"/>
<polygon points="159.5,282.3 159.0,282.1 158.5,283.3 158.0,284.6 157.4,285.8 156.9,287.0 152.8,285.1 153.4,283.9 153.9,282.8 154.4,281.6 154.9,280.5 154.4,280.3 157.5,279.8" fill="#0a78f0"/>
<polygon points="156.2,289.4 155.7,289.2 155.3,290.0 154.8,290.8 150.9,288.6 151.4,287.8 151.8,287.1 151.4,286.9 154.5,286.7" fill="#ff9f0a"/>
<polygon points="153.6,293.7 153.2,293.5 152.5,294.6 151.7,295.7 150.9,296.8 150.1,297.9 146.6,295.2 147.3,294.2 148.1,293.1 148.8,292.1 149.5,291.0 149.0,290.8 152.2,290.9" fill="#0a78f0"/>
<polygon points="149.3,299.7 148.9,299.4 148.6,299.8 148.2,300.3 144.8,297.4 145.1,297.0 145.5,296.6 145.1,296.2 148.2,296.7" fill="#0a78f0"/>
<polygon points="144.3,305.2 144.0,304.8 142.8,305.9 141.6,307.1 140.3,308.1 139.0,309.2 136.2,305.7 137.4,304.7 138.6,303.7 139.7,302.7 140.8,301.6 140.5,301.3 143.5,302.1" fill="#46ffff"/>
<polygon points="128.7,316.4 128.5,316.0 128.3,316.1 126.2,312.1 126.4,312.0 126.2,311.6 128.9,313.2" fill="#ff9f0a"/>
<circle cx="98.90" cy="258.60" r="66.94" fill="none" stroke="#111" stroke-width="1.3"/>
<polygon points="97.20,180.00 100.60,180.00 98.90,183.00" fill="#111"/>
<path d="M99.00,259.25 L99.00,226.25 A33.00,33.00 0 1 1 85.16,289.21 Z" fill="#0a78f0"/>
<path d="M99.00,259.25 L85.16,289.21 A33.00,33.00 0 0 1 79.65,285.98 Z" fill="#f00000"/>
<path d="M99.00,259.25 L79.65,285.98 A33.00,33.00 0 0 1 76.54,283.42 Z" fill="#0ac83c"/>
<path d="M99.00,259.25 L76.54,283.42 A33.00,33.00 0 0 1 69.04,245.41 Z" fill="#ff9f0a"/>
<path d="M99.00,259.25 L69.04,245.41 A33.00,33.00 0 0 1 79.65,232.52 Z" fill="#46ffff"/>
<path d="M99.00,259.25 L79.65,232.52 A33.00,33.00 0 0 1 99.00,226.25 Z" fill="#a0a0a0"/>
<text x="98.70" y="298.70" font-size="5.40" text-anchor="middle" fill="#000">GOVLV4</text>
<text x="98.70" y="303.50" font-size="4.50" text-anchor="middle" fill="#000">124,903 bp</text>
<text x="78.65" y="178.81" font-size="4.20" text-anchor="middle" fill="#000">120 kbp</text>
<text x="185.10" y="255.51" font-size="4.20" text-anchor="middle" fill="#000">30 kbp</text>
<text x="109.10" y="341.21" font-size="4.20" text-anchor="middle" fill="#000">60 kbp</text>
<text x="12.40" y="275.71" font-size="4.20" text-anchor="middle" fill="#000">90 kbp</text>
</g>
<g id="g5">
<path d="M281.0,203.5 L284.5,202.8 L287.7,206.3 L291.5,204.2 L294.2,207.6 L297.9,207.1 L300.5,209.8 L305.0,208.2 L306.5,212.6 L309.4,214.3 L312.1,216.2 L314.7,218.3 L317.2,220.5 L319.6,222.9 L322.5,224.8 L326.3,226.2 L325.6,230.8 L327.3,233.7 L328.8,236.7 L332.0,239.0 L331.1,242.9 L334.8,245.5 L332.7,249.4 L333.2,252.7 L336.3,255.9 L333.6,259.3 L333.4,262.7 L333.0,266.0 L334.9,269.8 L331.6,272.5 L332.9,276.5 L330.1,279.1 L328.0,281.8 L326.5,284.8 L324.7,287.6 L324.0,291.2 L320.7,292.9 L318.4,295.3 L316.0,297.6 L313.9,300.3 L310.8,301.7 L308.0,303.5 L305.1,305.3 L302.8,308.3 L299.0,307.8 L296.3,310.6 L292.6,309.7 L289.7,313.0 L286.1,312.0 L282.8,314.2 L279.3,311.0 L276.0,310.8 L272.7,310.3 L269.4,309.8 L266.2,308.9 L263.0,307.8 L259.2,308.2 L256.9,305.3 L253.6,304.3 L250.8,302.3 L246.7,302.1 L246.0,297.6 L243.6,295.3 L241.3,292.9 L238.3,291.0 L234.6,289.3 L234.7,285.2 L234.0,281.8 L232.5,278.8 L230.8,275.9 L229.1,272.8 L229.6,269.3 L227.6,266.2 L226.5,262.8 L228.5,259.3 L225.3,255.8 L228.8,252.7 L226.5,248.9 L227.4,245.5 L230.9,242.9 L230.4,239.2 L231.0,235.7 L234.7,233.7 L236.4,230.8 L238.2,228.0 L240.2,225.4 L242.4,222.9 L244.8,220.5 L247.3,218.3 L249.9,216.2 L252.6,214.3 L255.5,212.6 L258.4,211.1 L261.5,209.8 L263.8,206.1 L267.8,207.7 L270.6,204.6 L274.4,206.4 L277.7,206.1 Z M277.8,208.6 L274.4,207.2 L271.2,207.4 L268.6,210.8 L264.8,209.1 L262.1,211.3 L259.5,213.3 L255.8,213.3 L253.3,215.4 L250.9,217.6 L249.5,221.0 L246.4,222.2 L244.2,224.5 L243.0,227.6 L238.6,228.3 L237.8,231.7 L237.2,235.0 L233.7,236.9 L232.4,239.9 L231.5,243.1 L230.4,246.2 L229.8,249.5 L232.3,253.1 L229.0,256.0 L229.1,259.3 L229.1,262.6 L229.5,265.9 L230.3,269.1 L230.9,272.4 L231.8,275.5 L233.0,278.6 L235.7,280.9 L235.9,284.5 L237.7,287.3 L239.6,290.0 L243.2,291.3 L245.0,293.9 L247.0,296.5 L248.8,299.4 L251.5,301.4 L254.3,303.1 L257.2,304.7 L260.1,306.2 L263.3,307.1 L266.4,308.2 L269.5,309.2 L273.1,307.6 L276.3,307.4 L279.4,309.7 L282.7,310.5 L285.9,310.3 L289.2,309.9 L292.1,307.7 L295.7,308.4 L298.2,305.7 L301.9,306.2 L304.8,304.7 L306.1,300.4 L310.5,301.4 L313.2,299.4 L315.7,297.3 L316.5,293.4 L318.3,290.8 L322.4,290.0 L322.8,286.3 L326.0,284.5 L326.8,281.2 L329.0,278.6 L330.2,275.5 L331.0,272.3 L331.9,269.2 L331.7,265.8 L332.9,262.6 L333.0,259.3 L333.0,256.0 L331.9,252.8 L331.4,249.6 L331.6,246.2 L328.2,243.8 L329.6,239.9 L326.6,237.7 L324.6,235.1 L325.0,231.2 L323.4,228.3 L321.4,225.7 L317.2,225.0 L316.7,221.0 L313.0,220.3 L311.3,217.4 L308.1,216.4 L306.3,213.1 L303.4,211.5 L300.0,211.0 L297.2,209.1 L294.1,208.1 L290.8,207.4 L287.6,206.9 L284.3,206.6 L281.0,206.5 Z" fill="#c9c9c9" fill-rule="evenodd"/>
<circle cx="281.00" cy="258.50" r="75.30" fill="none" stroke="#505050" stroke-width="0.55"/>
<path d="M281.00,183.20 L281.00,182.00 M288.90,183.62 L289.03,182.42 M296.71,184.86 L296.97,183.68 M304.35,186.91 L304.73,185.77 M311.74,189.76 L312.23,188.66 M318.78,193.36 L319.78,191.63 M325.41,197.69 L326.11,196.72 M331.54,202.68 L332.35,201.79 M337.12,208.29 L338.01,207.49 M342.08,214.46 L343.05,213.76 M346.36,221.11 L347.40,220.52 M349.92,228.18 L351.02,227.69 M352.73,235.58 L353.87,235.21 M354.73,243.23 L355.91,242.98 M355.93,251.05 L357.12,250.93 M356.30,258.95 L357.50,258.96 M355.84,266.85 L357.03,266.98 M354.55,274.66 L355.72,274.91 M352.45,282.28 L353.58,282.66 M349.56,289.65 L350.65,290.15 M345.91,296.67 L347.63,297.68 M341.54,303.27 L342.51,303.98 M336.51,309.38 L337.40,310.19 M330.87,314.92 L331.66,315.82 M324.67,319.84 L325.37,320.82 M318.00,324.09 L318.59,325.13 M310.91,327.61 L311.39,328.71 M303.49,330.36 L303.85,331.51 M295.83,332.33 L296.07,333.50 M288.00,333.47 L288.11,334.67 M280.10,333.79 L280.08,334.99 M272.20,333.28 L272.06,334.48 M264.40,331.95 L264.14,333.12 M256.79,329.80 L256.40,330.94 M249.44,326.87 L248.94,327.96 M242.44,323.18 L241.42,324.90 M235.87,318.77 L235.15,319.74 M229.79,313.71 L228.98,314.59 M224.28,308.03 L223.38,308.82 M219.40,301.80 L218.42,302.49 M215.19,295.10 L214.15,295.68 M211.72,287.99 L210.61,288.46 M209.00,280.56 L207.86,280.91 M207.09,272.89 L205.91,273.11 M205.99,265.05 L204.79,265.16 M205.71,257.14 L204.51,257.12 M206.27,249.25 L205.08,249.10 M207.65,241.46 L206.48,241.19 M209.85,233.86 L208.71,233.47 M212.82,226.53 L211.74,226.02 M216.55,219.55 L214.84,218.52 M221.00,213.01 L220.04,212.28 M226.10,206.96 L225.23,206.14 M231.81,201.48 L231.03,200.58 M238.07,196.64 L237.38,195.65 M244.79,192.48 L244.22,191.42 M251.92,189.04 L251.46,187.93 M259.37,186.37 L259.03,185.22 M267.06,184.50 L266.84,183.32 M274.90,183.45 L274.80,182.25" stroke="#555" stroke-width="0.35" fill="none"/>
<polygon points="273.4,185.4 274.2,185.3 275.0,185.3 275.0,184.8 276.8,187.4 275.4,190.2 275.4,189.7 274.6,189.8 273.9,189.9" fill="#46ffff"/>
<polygon points="281.9,185.0 282.1,185.0 282.2,184.5 283.7,187.3 282.1,190.0 282.1,189.5 281.9,189.5" fill="#a0a0a0"/>
<polygon points="285.0,184.6 286.2,187.4 284.7,190.1" fill="#0a78f0"/>
<polygon points="287.3,185.3 288.5,185.4 289.8,185.5 289.9,185.1 291.1,188.0 289.2,190.5 289.3,190.0 288.1,189.9 286.9,189.8" fill="#0a78f0"/>
<polygon points="255.6,189.5 256.5,189.2 257.3,188.9 257.2,188.5 259.6,190.6 259.0,193.6 258.8,193.2 258.0,193.5 257.1,193.8" fill="#0a78f0"/>
<polygon points="259.3,188.3 259.8,188.1 260.4,188.0 260.2,187.5 262.5,189.7 261.8,192.8 261.6,192.3 261.1,192.4 260.6,192.6" fill="#0a78f0"/>
<polygon points="261.8,187.6 263.6,187.1 265.3,186.7 267.1,186.3 267.0,185.9 269.1,188.3 268.0,191.2 267.9,190.8 266.3,191.1 264.7,191.5 263.0,191.9" fill="#0a78f0"/>
<polygon points="244.6,194.7 245.7,194.0 246.8,193.4 246.6,193.0 249.3,194.7 249.2,197.9 248.9,197.4 247.9,198.0 246.8,198.6" fill="#0a78f0"/>
<polygon points="237.6,199.2 238.1,198.8 237.8,198.4 240.8,199.7 241.0,202.9 240.8,202.5 240.2,202.8" fill="#0a78f0"/>
<polygon points="234.2,201.8 234.4,201.7 234.1,201.3 237.1,202.4 237.5,205.5 237.2,205.2 237.1,205.3" fill="#0a78f0"/>
<polygon points="230.3,205.3 230.5,205.1 230.1,204.8 233.2,205.7 233.9,208.8 233.6,208.4 233.4,208.5" fill="#46ffff"/>
<polygon points="218.2,220.4 218.5,219.8 218.1,219.5 221.3,219.6 222.8,222.4 222.4,222.1 222.0,222.7" fill="#a0a0a0"/>
<polygon points="212.6,231.7 213.3,229.8 214.1,228.0 215.0,226.2 215.9,224.4 216.9,222.6 216.4,222.4 219.6,222.3 221.2,225.0 220.8,224.8 219.9,226.5 219.0,228.2 218.2,229.9 217.5,231.6 216.8,233.3" fill="#0a78f0"/>
<polygon points="210.1,239.2 210.6,237.4 211.1,235.7 211.7,234.0 211.2,233.9 214.4,233.3 216.4,235.7 215.9,235.5 215.4,237.1 214.9,238.7 214.4,240.4" fill="#0a78f0"/>
<polygon points="207.6,255.7 207.6,255.1 207.6,254.5 207.1,254.5 210.0,253.1 212.6,254.8 212.1,254.8 212.1,255.3 212.1,255.9" fill="#0a78f0"/>
<polygon points="208.3,269.0 208.1,268.0 208.0,267.1 207.5,267.2 210.1,265.3 213.0,266.5 212.5,266.6 212.6,267.5 212.7,268.3" fill="#a0a0a0"/>
<polygon points="208.8,272.1 208.7,271.5 208.2,271.5 210.6,269.5 213.6,270.6 213.1,270.7 213.2,271.3" fill="#0a78f0"/>
<polygon points="272.8,193.7 272.9,194.2 273.4,194.1 274.0,194.1 274.5,198.5 274.0,198.6 273.4,198.7 273.5,199.2 271.6,196.7" fill="#0a78f0"/>
<polygon points="279.7,193.2 279.7,193.7 280.3,193.7 280.9,193.7 280.9,198.2 280.4,198.2 279.8,198.2 279.8,198.7 278.2,196.0" fill="#0a78f0"/>
<polygon points="285.4,193.3 285.4,193.8 285.9,193.9 286.5,193.9 286.1,198.4 285.6,198.4 285.1,198.3 285.0,198.8 283.6,196.0" fill="#0a78f0"/>
<polygon points="292.9,194.3 292.8,194.8 294.2,195.0 295.5,195.3 296.9,195.7 295.8,200.0 294.5,199.7 293.3,199.4 292.0,199.2 291.9,199.7 290.8,196.7" fill="#0a78f0"/>
<polygon points="299.8,196.0 299.6,196.4 300.2,196.6 300.7,196.8 299.4,201.1 298.9,200.9 298.3,200.7 298.2,201.2 297.4,198.1" fill="#0a78f0"/>
<polygon points="254.2,199.0 254.4,199.4 255.9,198.8 257.4,198.1 258.9,197.6 260.5,201.8 259.0,202.3 257.6,202.9 256.2,203.5 256.4,204.0 253.8,202.1" fill="#0a78f0"/>
<polygon points="246.8,202.9 247.1,203.3 248.2,202.6 249.3,202.0 251.5,205.9 250.5,206.5 249.4,207.1 249.7,207.5 246.9,206.0" fill="#ff9f0a"/>
<polygon points="242.3,205.9 242.6,206.3 243.1,205.9 243.6,205.6 246.2,209.3 245.7,209.6 245.3,209.9 245.6,210.3 242.7,209.1" fill="#0a78f0"/>
<polygon points="238.7,208.8 239.0,209.2 239.4,208.8 239.9,208.4 242.7,211.9 242.3,212.2 241.9,212.6 242.2,212.9 239.2,211.9" fill="#0a78f0"/>
<polygon points="235.5,211.6 235.9,212.0 236.3,211.6 236.7,211.2 239.8,214.4 239.4,214.8 239.0,215.2 239.4,215.6 236.3,214.7" fill="#0a78f0"/>
<polygon points="232.5,214.7 232.9,215.1 233.3,214.6 233.7,214.2 237.0,217.3 236.6,217.7 236.2,218.1 236.6,218.4 233.5,217.8" fill="#0a78f0"/>
<polygon points="228.1,220.2 228.5,220.4 229.1,219.6 229.8,218.8 230.4,218.0 233.9,220.8 233.3,221.6 232.7,222.3 232.2,223.1 232.6,223.4 229.4,223.1" fill="#0a78f0"/>
<polygon points="220.4,234.2 225.5,236.3 222.4,236.5" fill="#0ac83c"/>
<polygon points="217.6,242.7 218.1,242.8 218.2,242.5 218.3,242.1 222.6,243.3 222.6,243.6 222.5,243.9 223.0,244.0 219.9,244.9" fill="#46ffff"/>
<polygon points="216.9,246.1 217.4,246.2 217.5,245.7 217.6,245.1 222.0,246.0 221.9,246.6 221.8,247.1 222.3,247.2 219.3,248.2" fill="#0a78f0"/>
<polygon points="216.1,251.5 216.6,251.6 216.7,250.6 216.8,249.6 217.0,248.6 221.4,249.3 221.3,250.2 221.1,251.1 221.0,252.1 221.5,252.1 218.6,253.4" fill="#ff9f0a"/>
<polygon points="215.8,262.7 216.3,262.7 216.2,261.0 216.2,259.4 216.2,257.7 216.2,256.1 220.7,256.3 220.7,257.8 220.7,259.3 220.7,260.9 220.8,262.4 221.3,262.4 218.7,264.1" fill="#0a78f0"/>
<polygon points="303.1,188.4 303.8,188.6 304.0,188.2 304.6,191.3 302.3,193.4 302.4,192.9 301.8,192.7" fill="#0a78f0"/>
<polygon points="307.5,189.4 307.8,192.5 305.5,194.5" fill="#a0a0a0"/>
<polygon points="323.2,198.3 324.3,199.1 325.5,200.0 326.6,200.8 326.9,200.5 326.4,203.6 323.5,204.8 323.8,204.4 322.7,203.6 321.7,202.8 320.6,202.0" fill="#0a78f0"/>
<polygon points="328.0,202.0 329.2,203.0 330.3,204.0 330.7,203.7 330.0,206.8 327.0,207.7 327.3,207.4 326.3,206.4 325.2,205.5" fill="#0a78f0"/>
<polygon points="331.4,205.0 331.9,205.5 332.2,205.1 331.5,208.2 328.4,209.1 328.8,208.7 328.3,208.3" fill="#46ffff"/>
<polygon points="333.7,207.3 334.5,208.1 335.3,209.0 336.1,209.8 336.4,209.5 335.4,212.5 332.3,213.1 332.7,212.8 332.0,212.0 331.2,211.2 330.5,210.4" fill="#0a78f0"/>
<polygon points="341.0,216.1 341.8,217.2 342.5,218.2 342.9,218.0 341.5,220.8 338.3,221.0 338.7,220.7 338.0,219.7 337.4,218.7" fill="#0a78f0"/>
<polygon points="347.9,228.1 348.4,229.2 348.9,230.4 349.4,230.2 347.4,232.8 344.3,232.3 344.8,232.1 344.3,231.0 343.8,229.9" fill="#0a78f0"/>
<polygon points="350.6,234.9 350.7,235.1 351.1,235.0 349.0,237.4 345.9,236.7 346.4,236.6 346.3,236.4" fill="#a0a0a0"/>
<polygon points="351.8,238.7 352.1,239.8 352.4,241.0 352.6,242.1 353.1,242.0 350.8,244.2 347.8,243.2 348.3,243.1 348.0,242.0 347.7,241.0 347.4,239.9" fill="#0a78f0"/>
<polygon points="353.5,246.7 353.6,246.9 354.1,246.9 351.6,248.9 348.6,247.7 349.1,247.7 349.1,247.4" fill="#a0a0a0"/>
<polygon points="354.1,251.0 354.2,251.5 354.2,252.1 354.7,252.1 352.1,253.9 349.2,252.5 349.7,252.5 349.7,252.0 349.6,251.4" fill="#ff9f0a"/>
<polygon points="354.4,254.3 354.4,254.9 354.4,255.5 354.9,255.5 352.2,257.2 349.4,255.7 349.9,255.7 349.9,255.1 349.9,254.6" fill="#0a78f0"/>
<polygon points="354.3,263.0 354.3,264.3 354.1,265.6 354.6,265.6 351.7,266.9 349.2,265.1 349.7,265.1 349.8,263.9 349.9,262.7" fill="#46ffff"/>
<polygon points="353.8,268.4 353.7,269.4 353.5,270.3 354.0,270.4 351.0,271.5 348.6,269.5 349.1,269.6 349.2,268.7 349.4,267.8" fill="#0a78f0"/>
<polygon points="304.5,197.6 304.4,198.0 304.7,198.2 305.0,198.3 303.3,202.5 303.0,202.4 302.7,202.2 302.6,202.7 302.1,199.6" fill="#0a78f0"/>
<polygon points="307.6,198.8 307.4,199.3 307.9,199.5 308.4,199.8 306.5,203.8 306.0,203.6 305.5,203.4 305.3,203.8 305.0,200.7" fill="#a0a0a0"/>
<polygon points="310.5,200.2 310.2,200.7 311.8,201.5 313.4,202.3 314.9,203.3 316.4,204.2 317.9,205.2 319.3,206.2 320.7,207.3 318.0,210.9 316.7,209.9 315.3,208.9 313.9,208.0 312.5,207.1 311.1,206.2 309.7,205.4 308.2,204.7 308.0,205.1 307.8,202.0" fill="#0a78f0"/>
<polygon points="332.8,218.7 332.4,219.0 333.2,220.1 334.1,221.3 334.9,222.4 331.1,224.9 330.4,223.9 329.6,222.8 328.8,221.8 328.4,222.1 329.6,219.1" fill="#0a78f0"/>
<polygon points="338.1,226.8 337.7,227.1 338.3,228.3 338.9,229.5 339.5,230.7 340.1,231.9 336.0,233.7 335.5,232.6 334.9,231.5 334.4,230.4 333.8,229.3 333.3,229.5 334.9,226.8" fill="#0a78f0"/>
<polygon points="342.4,236.3 341.9,236.4 342.3,237.3 342.6,238.2 338.3,239.6 338.0,238.8 337.7,238.0 337.3,238.1 339.3,235.7" fill="#0a78f0"/>
<polygon points="343.8,240.4 343.3,240.6 343.4,241.1 343.6,241.7 339.3,242.9 339.1,242.3 339.0,241.8 338.5,242.0 340.7,239.7" fill="#0a78f0"/>
<polygon points="345.5,248.3 340.1,249.2 342.6,247.4" fill="#a0a0a0"/>
<polygon points="346.1,253.0 340.6,253.5 343.2,251.9" fill="#a0a0a0"/>
<polygon points="346.3,258.9 345.8,258.9 345.8,259.8 345.8,260.6 341.3,260.4 341.3,259.7 341.3,258.9 340.8,258.9 343.6,257.3" fill="#a0a0a0"/>
<polygon points="346.2,262.5 345.7,262.5 345.7,262.7 341.2,262.4 341.2,262.2 340.7,262.1 343.5,260.7" fill="#0a78f0"/>
<polygon points="211.6,282.7 211.5,282.5 211.1,282.6 213.1,280.2 216.2,280.8 215.8,281.0 215.8,281.2" fill="#0a78f0"/>
<polygon points="214.5,289.8 214.3,289.3 214.0,288.7 213.6,288.9 215.4,286.4 218.6,286.7 218.1,286.9 218.3,287.4 218.6,287.9" fill="#0a78f0"/>
<polygon points="220.5,300.2 219.6,298.9 218.8,297.6 218.4,297.9 219.9,295.1 223.0,295.0 222.6,295.2 223.4,296.4 224.2,297.6" fill="#0a78f0"/>
<polygon points="228.2,309.6 226.9,308.3 225.8,307.0 224.6,305.6 223.5,304.2 222.4,302.8 222.0,303.1 223.2,300.2 226.4,299.8 226.0,300.1 227.0,301.4 228.1,302.7 229.1,304.0 230.3,305.2 231.4,306.5" fill="#0a78f0"/>
<polygon points="231.1,312.5 231.0,312.3 230.6,312.7 231.3,309.6 234.4,308.7 234.0,309.0 234.2,309.2" fill="#a0a0a0"/>
<polygon points="236.7,317.2 235.7,316.4 234.7,315.6 234.4,316.0 234.9,312.8 237.9,311.7 237.5,312.1 238.5,312.8 239.4,313.6" fill="#0a78f0"/>
<polygon points="241.2,320.3 240.1,319.6 239.1,318.9 238.8,319.3 239.1,316.1 241.9,314.8 241.6,315.2 242.6,315.8 243.6,316.5" fill="#0a78f0"/>
<polygon points="247.4,323.9 246.2,323.2 245.0,322.5 243.8,321.8 243.5,322.3 243.5,319.1 246.3,317.5 246.0,318.0 247.2,318.6 248.3,319.3 249.5,319.9" fill="#0a78f0"/>
<polygon points="250.3,325.3 249.7,325.0 249.5,325.4 249.2,322.3 251.8,320.5 251.6,320.9 252.2,321.2" fill="#0a78f0"/>
<polygon points="259.7,328.8 258.6,328.5 257.5,328.1 256.4,327.7 256.2,328.2 255.6,325.1 258.1,323.0 257.9,323.5 258.9,323.9 260.0,324.2 261.0,324.5" fill="#0a78f0"/>
<polygon points="291.5,331.2 290.2,331.4 289.0,331.6 289.0,332.0 287.1,329.5 288.4,326.6 288.5,327.1 289.7,326.9 290.9,326.8" fill="#0a78f0"/>
<polygon points="218.3,276.8 218.8,276.7 218.4,275.4 218.1,274.2 222.5,273.1 222.8,274.3 223.1,275.4 223.6,275.3 221.4,277.6" fill="#0a78f0"/>
<polygon points="219.2,279.5 219.6,279.3 219.5,279.1 223.8,277.7 223.9,277.9 224.3,277.7 222.3,280.1" fill="#0ac83c"/>
<polygon points="220.1,282.0 220.5,281.8 220.4,281.5 220.3,281.2 224.5,279.6 224.6,279.9 224.7,280.2 225.2,280.0 223.2,282.5" fill="#0a78f0"/>
<polygon points="223.7,289.8 224.1,289.6 223.6,288.6 223.1,287.5 222.5,286.5 226.6,284.5 227.1,285.5 227.6,286.5 228.1,287.4 228.5,287.2 226.9,289.9" fill="#0a78f0"/>
<polygon points="250.6,316.3 253.1,311.4 253.1,314.5" fill="#0ac83c"/>
<polygon points="255.2,318.5 255.4,318.1 254.3,317.5 253.1,317.0 255.0,312.9 256.1,313.4 257.2,313.9 257.4,313.5 257.8,316.6" fill="#0a78f0"/>
<polygon points="282.6,323.8 282.6,323.3 281.2,323.3 279.8,323.3 278.3,323.3 278.5,318.8 279.8,318.8 281.2,318.8 282.5,318.8 282.5,318.3 284.1,321.0" fill="#0a78f0"/>
<polygon points="276.5,323.6 276.5,323.2 274.8,323.0 273.0,322.8 271.3,322.6 269.6,322.3 270.4,317.9 272.0,318.1 273.6,318.4 275.2,318.5 276.8,318.7 276.8,318.2 278.2,321.0" fill="#0a78f0"/>
<polygon points="267.7,322.4 267.8,322.0 266.1,321.6 264.5,321.2 262.8,320.7 261.2,320.2 262.6,315.9 264.1,316.4 265.6,316.8 267.2,317.2 268.7,317.6 268.8,317.1 269.8,320.1" fill="#0a78f0"/>
<polygon points="284.5,323.7 284.5,323.2 283.9,323.2 283.3,323.3 283.2,318.8 283.7,318.8 284.3,318.7 284.2,318.2 286.0,320.9" fill="#46ffff"/>
<polygon points="289.6,323.2 289.6,322.7 289.4,322.8 288.8,318.3 289.0,318.3 288.9,317.8 290.9,320.3" fill="#0ac83c"/>
<polygon points="298.9,321.3 298.8,320.8 297.3,321.2 295.8,321.6 294.3,321.9 292.7,322.2 291.2,322.5 290.5,318.1 291.9,317.8 293.3,317.5 294.8,317.2 296.2,316.9 297.6,316.5 297.4,316.0 299.7,318.2" fill="#0a78f0"/>
<polygon points="300.1,321.0 299.9,320.5 299.6,320.6 299.2,320.7 298.0,316.4 298.3,316.3 298.6,316.2 298.5,315.7 300.8,317.9" fill="#0ac83c"/>
<polygon points="352.4,275.9 352.0,277.5 351.5,279.1 351.1,280.7 350.5,282.2 351.0,282.4 347.9,283.0 345.8,280.6 346.3,280.8 346.8,279.3 347.2,277.8 347.7,276.3 348.0,274.8" fill="#0a78f0"/>
<polygon points="349.9,284.0 349.4,285.4 348.8,286.8 348.2,288.2 347.6,289.6 348.0,289.8 344.8,290.1 343.1,287.5 343.5,287.7 344.1,286.4 344.7,285.1 345.2,283.8 345.7,282.4" fill="#0a78f0"/>
<polygon points="346.0,292.7 345.6,293.5 345.1,294.4 345.6,294.6 342.4,294.7 340.8,291.9 341.2,292.2 341.6,291.4 342.1,290.6" fill="#0a78f0"/>
<polygon points="344.3,295.9 343.4,297.3 342.6,298.6 341.6,300.0 342.1,300.3 338.9,300.0 337.5,297.2 337.9,297.5 338.8,296.2 339.6,294.9 340.4,293.6" fill="#0a78f0"/>
<polygon points="332.3,311.1 331.1,312.2 329.9,313.3 328.7,314.4 327.4,315.5 327.7,315.9 324.7,314.7 324.3,311.6 324.6,312.0 325.8,311.0 326.9,310.0 328.1,309.0 329.2,307.9" fill="#a0a0a0"/>
<polygon points="325.2,317.2 324.7,317.6 324.2,317.9 324.5,318.3 321.6,317.0 321.3,313.9 321.6,314.3 322.0,314.0 322.5,313.6" fill="#a0a0a0"/>
<polygon points="316.4,322.9 314.6,323.8 312.8,324.7 311.0,325.6 309.2,326.4 307.3,327.1 307.5,327.6 305.0,325.6 305.5,322.5 305.7,322.9 307.4,322.2 309.2,321.5 310.9,320.7 312.6,319.8 314.3,319.0" fill="#0a78f0"/>
<polygon points="344.7,272.7 344.3,272.6 344.0,273.5 343.8,274.4 339.5,273.3 339.7,272.5 339.9,271.6 339.4,271.5 342.4,270.5" fill="#0a78f0"/>
<polygon points="338.3,289.8 337.9,289.5 337.5,290.3 337.0,291.1 333.1,288.9 333.5,288.1 334.0,287.4 333.5,287.1 336.7,287.0" fill="#0a78f0"/>
<polygon points="333.0,298.0 332.6,297.7 331.8,298.8 331.0,299.8 327.5,296.9 328.3,296.0 329.0,295.0 328.6,294.7 331.8,295.1" fill="#0a78f0"/>
<polygon points="329.0,302.8 328.7,302.4 327.7,303.4 326.8,304.4 325.8,305.3 324.8,306.2 321.8,302.9 322.7,302.1 323.6,301.2 324.5,300.3 325.3,299.4 325.0,299.0 328.1,299.7" fill="#a0a0a0"/>
<polygon points="315.6,313.9 315.3,313.5 314.1,314.2 312.9,314.9 311.7,315.6 309.5,311.6 310.7,311.0 311.8,310.4 312.9,309.7 312.7,309.3 315.5,310.7" fill="#0a78f0"/>
<circle cx="281.00" cy="258.50" r="67.21" fill="none" stroke="#111" stroke-width="1.3"/>
<polygon points="279.30,179.60 282.70,179.60 281.00,182.60" fill="#111"/>
<path d="M281.45,258.40 L281.45,224.60 A33.80,33.80 0 1 1 252.48,275.81 Z" fill="#0a78f0"/>
<path d="M281.45,258.40 L252.48,275.81 A33.80,33.80 0 0 1 248.52,266.00 Z" fill="#0ac83c"/>
<path d="M281.45,258.40 L248.52,266.00 A33.80,33.80 0 0 1 247.82,261.82 Z" fill="#ff9f0a"/>
<path d="M281.45,258.40 L247.82,261.82 A33.80,33.80 0 0 1 247.76,255.63 Z" fill="#46ffff"/>
<path d="M281.45,258.40 L247.76,255.63 A33.80,33.80 0 0 1 281.45,224.60 Z" fill="#a0a0a0"/>
<text x="281.10" y="298.60" font-size="5.20" text-anchor="middle" fill="#000">GOVLV6</text>
<text x="281.10" y="303.30" font-size="4.36" text-anchor="middle" fill="#000">119,543 bp</text>
<text x="204.30" y="216.67" font-size="3.80" text-anchor="middle" fill="#000">100 kbp</text>
<text x="323.50" y="188.07" font-size="3.80" text-anchor="middle" fill="#000">10 kbp</text>
<text x="355.80" y="303.17" font-size="3.80" text-anchor="middle" fill="#000">40 kbp</text>
<text x="238.00" y="330.87" font-size="3.80" text-anchor="middle" fill="#000">70 kbp</text>
</g>
<g id="g7">
<path d="M466.1,203.4 L469.6,206.6 L473.1,206.7 L476.5,207.5 L479.9,208.3 L483.3,209.4 L486.5,210.6 L489.7,212.1 L492.8,213.8 L495.7,215.7 L498.6,217.8 L501.2,220.0 L503.7,222.4 L508.6,222.9 L509.3,227.0 L510.2,230.7 L512.0,233.7 L513.6,236.8 L515.0,240.0 L517.3,243.0 L518.0,246.5 L519.5,249.8 L518.2,253.6 L518.6,257.1 L518.4,260.6 L518.3,264.1 L517.7,267.6 L519.5,271.6 L516.1,274.4 L515.0,277.7 L513.6,280.9 L512.0,284.0 L512.8,288.6 L508.3,289.9 L506.2,292.8 L503.9,295.4 L502.2,298.8 L498.6,299.9 L495.7,302.0 L494.1,306.2 L489.7,305.6 L486.5,307.1 L483.6,309.3 L479.9,309.4 L477.1,313.2 L473.2,311.7 L469.8,314.1 L466.1,312.0 L462.6,311.1 L459.1,310.7 L455.2,312.6 L452.3,309.4 L448.3,310.2 L445.6,307.1 L442.4,305.8 L439.3,304.1 L436.5,302.0 L433.5,300.2 L431.0,297.7 L427.8,295.9 L426.1,292.7 L423.9,289.9 L422.0,287.0 L420.2,284.0 L418.6,280.9 L417.2,277.7 L416.1,274.4 L412.3,271.7 L412.9,267.8 L414.0,264.1 L413.7,260.6 L410.9,257.0 L411.9,253.4 L411.2,249.6 L415.2,246.7 L413.8,242.6 L417.0,239.9 L418.6,236.8 L419.4,233.3 L422.0,230.7 L423.9,227.8 L426.1,225.0 L427.4,221.5 L429.3,218.1 L431.7,215.3 L436.5,215.7 L439.4,213.8 L442.5,212.1 L445.7,210.6 L448.9,209.4 L452.3,208.3 L455.5,206.6 L459.1,207.0 L462.4,203.7 Z M462.6,207.1 L459.6,210.6 L455.8,208.0 L452.7,209.8 L449.2,210.0 L446.4,212.4 L442.7,212.5 L440.3,215.3 L437.6,217.4 L433.9,218.1 L431.3,220.4 L428.8,222.8 L427.3,226.0 L426.6,229.8 L423.8,231.9 L420.6,233.9 L421.9,238.3 L417.7,240.2 L416.5,243.5 L417.1,247.2 L414.9,250.2 L414.5,253.7 L414.2,257.1 L414.2,260.6 L417.2,263.8 L414.9,267.5 L415.6,270.9 L416.7,274.2 L420.1,276.6 L419.0,280.7 L420.7,283.8 L422.6,286.6 L425.6,288.7 L426.7,292.2 L428.8,294.9 L432.8,295.6 L433.9,299.6 L437.3,300.8 L439.7,303.5 L442.7,305.2 L445.8,306.6 L449.1,307.9 L452.9,306.9 L455.8,309.7 L459.3,309.5 L462.7,309.6 L466.1,310.7 L469.6,310.6 L473.0,310.3 L476.4,309.7 L479.8,308.7 L483.1,307.9 L485.5,304.6 L489.4,304.9 L492.5,303.5 L494.7,300.5 L498.1,299.4 L500.9,297.3 L503.4,294.9 L505.7,292.3 L507.8,289.6 L509.8,286.8 L510.5,283.2 L511.3,279.8 L514.4,277.5 L515.4,274.1 L516.6,270.9 L517.1,267.4 L517.7,264.0 L517.7,260.6 L518.0,257.1 L514.7,254.0 L517.3,250.2 L516.6,246.8 L515.7,243.5 L512.2,241.1 L511.9,237.6 L509.9,234.9 L509.0,231.5 L507.9,228.1 L505.7,225.4 L502.3,223.8 L499.4,222.0 L497.2,219.5 L494.9,216.9 L491.5,215.9 L488.9,213.8 L485.9,212.1 L482.5,211.6 L479.5,210.1 L476.4,208.0 L473.0,207.4 L469.6,207.2 L466.1,207.0 Z" fill="#c9c9c9" fill-rule="evenodd"/>
<circle cx="466.10" cy="258.85" r="75.10" fill="none" stroke="#505050" stroke-width="0.55"/>
<path d="M466.10,183.75 L466.10,182.55 M474.37,184.21 L474.51,183.01 M482.55,185.57 L482.81,184.40 M490.52,187.83 L490.91,186.70 M498.19,190.95 L498.71,189.87 M505.48,194.90 L506.53,193.20 M512.28,199.63 L513.02,198.68 M518.53,205.08 L519.36,204.22 M524.13,211.18 L525.06,210.42 M529.03,217.86 L530.03,217.21 M533.16,225.04 L534.23,224.50 M536.48,232.64 L537.60,232.22 M538.94,240.55 L540.10,240.26 M540.51,248.68 L541.70,248.52 M541.18,256.94 L542.38,256.91 M540.93,265.23 L542.12,265.33 M539.77,273.43 L540.95,273.66 M537.72,281.46 L538.86,281.82 M534.79,289.21 L535.89,289.69 M531.03,296.59 L532.07,297.19 M526.47,303.51 L528.08,304.70 M521.19,309.89 L522.07,310.71 M515.23,315.65 L516.01,316.56 M508.67,320.72 L509.35,321.71 M501.60,325.03 L502.17,326.09 M494.09,328.54 L494.54,329.65 M486.24,331.20 L486.57,332.35 M478.15,332.98 L478.34,334.16 M469.91,333.85 L469.97,335.05 M461.63,333.82 L461.55,335.01 M453.39,332.87 L453.19,334.05 M445.32,331.02 L444.99,332.17 M437.49,328.29 L437.04,329.40 M430.02,324.71 L429.44,325.77 M422.98,320.34 L422.29,321.32 M416.47,315.22 L415.15,316.72 M410.56,309.40 L409.68,310.21 M405.33,302.98 L404.36,303.68 M400.84,296.02 L399.80,296.61 M397.14,288.60 L396.04,289.08 M394.29,280.82 L393.14,281.17 M392.30,272.78 L391.12,273.00 M391.22,264.56 L390.02,264.66 M391.04,256.28 L389.84,256.24 M391.78,248.03 L390.60,247.85 M393.43,239.91 L392.27,239.60 M395.96,232.02 L394.84,231.59 M399.34,224.45 L398.27,223.90 M403.54,217.31 L402.54,216.64 M408.49,210.67 L407.57,209.90 M414.15,204.62 L412.77,203.17 M420.44,199.22 L419.71,198.27 M427.29,194.56 L426.67,193.53 M434.61,190.67 L434.10,189.58 M442.31,187.62 L441.93,186.48 M450.30,185.43 L450.05,184.26 M458.49,184.14 L458.36,182.94" stroke="#555" stroke-width="0.35" fill="none"/>
<polygon points="454.0,186.6 454.2,186.5 454.1,186.0 456.2,188.5 455.0,191.4 454.9,191.0 454.7,191.0" fill="#0a78f0"/>
<polygon points="460.4,185.3 461.8,187.9 460.8,190.7" fill="#a0a0a0"/>
<polygon points="478.5,186.6 478.7,186.7 478.8,186.2 479.9,189.2 477.9,191.6 478.0,191.1 477.8,191.0" fill="#0ac83c"/>
<polygon points="436.2,191.9 437.4,191.4 438.6,190.9 438.4,190.5 440.9,192.4 440.4,195.5 440.3,195.1 439.1,195.5 438.0,196.0" fill="#0ac83c"/>
<polygon points="426.5,197.2 427.5,196.5 428.6,195.9 428.4,195.4 431.2,197.0 431.2,200.1 430.9,199.7 429.9,200.3 428.9,201.0" fill="#ff9f0a"/>
<polygon points="423.9,198.9 424.1,198.8 423.8,198.4 426.7,199.8 426.9,202.9 426.6,202.5 426.5,202.6" fill="#a0a0a0"/>
<polygon points="420.5,201.5 421.1,201.0 421.8,200.5 421.5,200.1 424.4,201.3 424.8,204.4 424.5,204.0 423.9,204.5 423.3,205.0" fill="#ff9f0a"/>
<polygon points="417.9,203.6 418.5,203.1 419.2,202.6 418.9,202.2 421.8,203.3 422.4,206.4 422.0,206.0 421.5,206.5 420.9,207.0" fill="#f00000"/>
<polygon points="415.2,206.1 415.8,205.5 416.4,205.0 416.1,204.6 419.1,205.6 419.8,208.6 419.4,208.3 418.9,208.8 418.3,209.3" fill="#46ffff"/>
<polygon points="412.1,209.3 412.3,209.1 411.9,208.8 415.0,209.5 415.9,212.5 415.6,212.1 415.4,212.3" fill="#0a78f0"/>
<polygon points="410.6,210.2 413.6,211.0 414.7,213.8" fill="#0a78f0"/>
<polygon points="400.9,225.4 401.7,223.8 402.6,222.3 403.5,220.7 404.4,219.2 405.4,217.7 405.0,217.5 408.2,217.7 409.5,220.5 409.1,220.2 408.2,221.6 407.3,223.1 406.5,224.5 405.7,225.9 404.9,227.4" fill="#0a78f0"/>
<polygon points="398.8,229.9 399.1,229.1 399.5,228.2 399.1,228.0 402.2,227.7 404.0,230.3 403.6,230.1 403.2,230.9 402.9,231.7" fill="#0a78f0"/>
<polygon points="397.2,233.8 397.4,233.2 397.6,232.7 397.2,232.5 400.3,232.0 402.3,234.5 401.8,234.3 401.6,234.8 401.4,235.3" fill="#a0a0a0"/>
<polygon points="393.6,247.8 393.9,246.0 394.3,244.2 394.7,242.3 395.1,240.5 395.6,238.7 396.2,236.9 395.7,236.8 398.8,236.1 400.9,238.4 400.4,238.2 399.9,239.9 399.5,241.6 399.1,243.3 398.7,245.1 398.4,246.8 398.1,248.5" fill="#0a78f0"/>
<polygon points="394.3,273.4 394.0,271.9 393.7,270.5 393.2,270.5 395.7,268.5 398.6,269.7 398.2,269.7 398.4,271.1 398.7,272.5" fill="#0a78f0"/>
<polygon points="445.7,197.0 445.9,197.5 447.4,197.0 449.0,196.5 450.6,196.1 451.7,200.4 450.2,200.8 448.7,201.3 447.3,201.7 447.4,202.2 445.1,200.1" fill="#a0a0a0"/>
<polygon points="452.8,195.1 452.9,195.6 454.2,195.3 455.5,195.1 456.2,199.5 455.0,199.7 453.8,200.0 453.9,200.4 451.8,198.1" fill="#f00000"/>
<polygon points="459.2,194.1 459.3,194.6 459.5,194.5 460.0,199.0 459.8,199.0 459.8,199.5 457.9,197.0" fill="#0a78f0"/>
<polygon points="461.1,193.9 461.5,199.4 460.0,196.8" fill="#a0a0a0"/>
<polygon points="464.7,193.7 464.7,194.2 465.0,194.2 465.4,194.2 465.4,198.7 465.1,198.7 464.8,198.7 464.8,199.2 463.1,196.5" fill="#a0a0a0"/>
<polygon points="467.7,193.7 467.7,194.2 469.3,194.3 470.8,194.4 472.4,194.5 473.9,194.7 475.5,194.9 474.8,199.3 473.4,199.1 471.9,199.0 470.5,198.9 469.1,198.8 467.6,198.7 467.6,199.2 466.1,196.5" fill="#0a78f0"/>
<polygon points="477.9,194.8 477.8,195.3 478.1,195.3 478.5,195.4 477.6,199.8 477.3,199.7 477.0,199.7 476.9,200.2 475.8,197.2" fill="#0a78f0"/>
<polygon points="481.4,195.5 481.2,196.0 482.2,196.3 483.2,196.5 484.2,196.8 482.9,201.1 482.0,200.8 481.1,200.6 480.2,200.4 480.1,200.8 479.2,197.8" fill="#0a78f0"/>
<polygon points="436.3,200.9 436.6,201.4 437.1,201.1 437.6,200.8 439.6,204.9 439.1,205.1 438.6,205.3 438.8,205.8 436.2,204.1" fill="#46ffff"/>
<polygon points="439.4,199.4 439.6,199.9 440.2,199.6 440.7,199.4 442.5,203.5 442.0,203.7 441.5,204.0 441.7,204.4 439.1,202.6" fill="#0ac83c"/>
<polygon points="429.5,205.0 429.8,205.4 430.0,205.2 432.5,208.9 432.3,209.1 432.6,209.5 429.8,208.1" fill="#0a78f0"/>
<polygon points="420.6,212.3 420.9,212.6 421.3,212.2 421.7,211.8 424.8,215.1 424.4,215.5 424.0,215.8 424.4,216.2 421.3,215.4" fill="#a0a0a0"/>
<polygon points="416.8,216.3 417.2,216.6 417.7,216.0 418.3,215.4 421.6,218.4 421.1,219.0 420.6,219.5 420.9,219.9 417.8,219.3" fill="#0a78f0"/>
<polygon points="418.6,214.3 418.9,214.6 419.1,214.5 422.4,217.6 422.2,217.7 422.6,218.0 419.5,217.4" fill="#a0a0a0"/>
<polygon points="408.5,228.5 408.9,228.8 409.0,228.6 413.0,230.7 412.9,230.9 413.3,231.1 410.1,231.2" fill="#0a78f0"/>
<polygon points="406.6,232.3 411.6,234.5 408.6,234.7" fill="#a0a0a0"/>
<polygon points="401.1,254.4 401.6,254.4 401.7,253.1 401.9,251.7 402.0,250.4 402.2,249.0 406.6,249.7 406.5,251.0 406.3,252.2 406.2,253.5 406.1,254.7 406.6,254.7 403.8,256.2" fill="#0a78f0"/>
<polygon points="401.0,261.9 401.5,261.9 401.5,260.6 401.5,259.2 401.5,257.9 401.5,256.5 406.0,256.7 406.0,257.9 405.9,259.2 406.0,260.4 406.0,261.7 406.5,261.7 403.9,263.4" fill="#0a78f0"/>
<polygon points="401.3,264.9 401.7,264.9 401.7,264.0 401.6,263.0 406.1,262.7 406.1,263.6 406.2,264.5 406.7,264.4 404.1,266.3" fill="#0a78f0"/>
<polygon points="488.0,188.9 488.6,189.1 489.1,189.3 489.3,188.8 489.9,191.9 487.5,194.0 487.7,193.5 487.2,193.3 486.7,193.2" fill="#0a78f0"/>
<polygon points="490.3,189.7 490.5,189.7 490.7,189.3 491.3,192.4 488.8,194.4 489.0,194.0 488.8,193.9" fill="#0ac83c"/>
<polygon points="493.0,190.1 493.2,193.2 491.0,195.2" fill="#0a78f0"/>
<polygon points="495.8,191.9 496.9,192.3 497.9,192.8 499.0,193.3 499.2,192.9 499.4,196.1 496.8,197.8 497.0,197.4 496.0,196.9 495.0,196.4 494.0,195.9" fill="#ff9f0a"/>
<polygon points="502.8,195.4 504.3,196.3 505.8,197.2 507.3,198.2 508.8,199.3 510.2,200.3 510.5,199.9 510.1,203.1 507.2,204.3 507.5,203.9 506.1,202.9 504.8,201.9 503.4,201.0 502.0,200.1 500.5,199.3" fill="#0a78f0"/>
<polygon points="520.2,209.4 521.1,210.4 521.9,211.4 522.3,211.1 521.3,214.1 518.2,214.6 518.5,214.3 517.7,213.4 516.9,212.5" fill="#0a78f0"/>
<polygon points="523.8,213.7 524.2,214.2 524.6,213.9 523.4,216.8 520.3,217.2 520.7,216.9 520.3,216.4" fill="#0a78f0"/>
<polygon points="525.6,216.1 525.9,216.5 526.3,217.0 526.7,216.7 525.3,219.6 522.2,219.9 522.6,219.6 522.3,219.1 522.0,218.7" fill="#0ac83c"/>
<polygon points="529.4,221.9 530.3,223.4 531.1,225.0 531.9,226.6 532.4,226.4 530.6,229.0 527.5,228.8 527.9,228.6 527.1,227.1 526.3,225.6 525.5,224.1" fill="#0a78f0"/>
<polygon points="538.7,268.8 538.6,269.4 538.5,270.0 539.0,270.1 536.1,271.2 533.6,269.2 534.1,269.3 534.2,268.8 534.3,268.2" fill="#0ac83c"/>
<polygon points="498.1,202.1 497.8,202.5 499.0,203.2 500.1,203.9 497.7,207.7 496.7,207.0 495.6,206.4 495.4,206.9 495.3,203.7" fill="#0a78f0"/>
<polygon points="509.1,209.9 508.8,210.3 508.9,210.5 506.0,213.8 505.8,213.7 505.5,214.0 506.1,210.9" fill="#a0a0a0"/>
<polygon points="510.0,210.7 509.7,211.1 510.9,212.2 512.0,213.4 513.2,214.6 514.3,215.8 511.0,218.8 509.9,217.6 508.9,216.5 507.8,215.5 506.7,214.4 506.3,214.8 507.0,211.7" fill="#0a78f0"/>
<polygon points="517.8,219.3 517.4,219.6 517.6,219.8 517.9,220.1 514.3,222.8 514.1,222.5 513.9,222.3 513.5,222.6 514.7,219.7" fill="#0a78f0"/>
<polygon points="521.8,225.1 521.4,225.4 522.1,226.5 522.7,227.6 518.8,229.8 518.2,228.7 517.6,227.7 517.1,228.0 518.6,225.2" fill="#0a78f0"/>
<polygon points="525.7,232.6 525.2,232.8 525.8,234.0 526.3,235.4 526.8,236.7 522.6,238.2 522.1,237.0 521.7,235.8 521.1,234.6 520.7,234.8 522.5,232.2" fill="#0a78f0"/>
<polygon points="527.0,235.9 526.6,236.0 527.2,237.7 527.7,239.4 528.2,241.0 528.7,242.7 524.4,243.8 523.9,242.3 523.5,240.7 522.9,239.2 522.4,237.6 521.9,237.8 523.9,235.3" fill="#0a78f0"/>
<polygon points="529.6,244.4 529.1,244.5 529.4,245.9 529.7,247.3 529.9,248.8 530.2,250.2 525.7,250.8 525.5,249.5 525.3,248.1 525.0,246.8 524.8,245.5 524.3,245.6 526.6,243.5" fill="#0a78f0"/>
<polygon points="530.7,250.5 530.2,250.5 530.4,252.1 530.5,253.6 530.6,255.2 530.7,256.7 530.7,258.3 526.3,258.3 526.2,256.9 526.2,255.4 526.1,254.0 525.9,252.5 525.8,251.1 525.3,251.2 527.8,249.2" fill="#0a78f0"/>
<polygon points="531.2,259.5 530.7,259.5 530.7,261.2 530.6,262.8 530.5,264.5 530.3,266.2 530.1,267.9 529.8,269.5 525.4,268.8 525.7,267.2 525.9,265.7 526.0,264.1 526.1,262.6 526.2,261.0 526.3,259.4 525.8,259.4 528.5,257.9" fill="#0a78f0"/>
<polygon points="530.1,270.7 529.7,270.6 529.6,271.0 529.5,271.3 525.1,270.5 525.2,270.1 525.2,269.8 524.8,269.7 527.7,268.7" fill="#0a78f0"/>
<polygon points="398.1,286.2 397.4,284.4 396.8,282.6 396.2,280.7 395.6,278.9 395.1,279.0 397.3,276.7 400.4,277.5 399.9,277.7 400.4,279.4 401.0,281.1 401.6,282.8 402.3,284.5" fill="#0a78f0"/>
<polygon points="404.2,298.0 403.3,296.7 402.5,295.2 401.7,293.8 401.3,294.0 402.9,291.3 406.1,291.4 405.6,291.7 406.4,293.0 407.1,294.3 408.0,295.6" fill="#0a78f0"/>
<polygon points="409.4,305.3 409.3,305.1 408.9,305.4 410.0,302.4 413.1,302.0 412.7,302.3 412.9,302.4" fill="#a0a0a0"/>
<polygon points="412.5,309.6 413.6,306.7 416.5,305.8" fill="#a0a0a0"/>
<polygon points="420.8,316.5 419.9,315.7 419.0,315.0 418.1,314.2 417.8,314.6 418.4,311.5 421.4,310.5 421.0,310.9 421.9,311.6 422.7,312.3 423.6,312.9" fill="#0a78f0"/>
<polygon points="432.2,323.8 431.6,323.5 431.1,323.3 430.9,323.7 430.8,320.5 433.5,318.9 433.3,319.3 433.8,319.6 434.2,319.8" fill="#0a78f0"/>
<polygon points="433.8,325.2 433.7,322.1 436.2,320.3" fill="#a0a0a0"/>
<polygon points="453.0,331.0 452.1,330.8 451.3,330.6 451.2,331.1 450.2,328.1 452.3,325.8 452.3,326.3 453.0,326.4 453.8,326.5" fill="#0a78f0"/>
<polygon points="454.6,331.7 453.9,328.8 455.4,326.3" fill="#a0a0a0"/>
<polygon points="464.7,332.1 463.2,332.1 461.7,332.0 461.7,332.5 460.2,329.7 462.0,327.0 462.0,327.5 463.4,327.6 464.8,327.6" fill="#0a78f0"/>
<polygon points="475.8,331.5 473.8,331.7 471.9,331.9 470.0,332.0 468.1,332.1 468.1,332.6 466.4,329.9 467.9,327.1 467.9,327.6 469.8,327.6 471.6,327.4 473.4,327.3 475.2,327.1" fill="#a0a0a0"/>
<polygon points="402.7,274.0 403.2,273.9 403.1,273.3 403.0,272.7 407.3,271.8 407.5,272.3 407.6,272.8 408.1,272.7 405.8,274.9" fill="#0a78f0"/>
<polygon points="406.5,285.0 406.9,284.8 406.6,284.1 406.3,283.3 410.4,281.6 410.7,282.3 411.0,283.0 411.5,282.8 409.6,285.4" fill="#0a78f0"/>
<polygon points="412.4,295.7 412.8,295.4 412.3,294.7 411.9,294.1 415.7,291.6 416.1,292.3 416.5,292.9 416.9,292.6 415.6,295.5" fill="#0a78f0"/>
<polygon points="415.0,299.2 415.4,298.9 415.2,298.7 418.7,295.9 418.9,296.1 419.3,295.8 418.1,298.7" fill="#0a78f0"/>
<polygon points="419.7,304.5 420.0,304.2 419.1,303.2 418.1,302.1 417.2,301.1 420.6,298.2 421.4,299.1 422.3,300.1 423.2,301.0 423.6,300.7 422.8,303.7" fill="#ff9f0a"/>
<polygon points="427.3,311.2 427.6,310.8 426.9,310.3 426.3,309.8 429.1,306.2 429.7,306.7 430.3,307.2 430.6,306.8 430.2,309.9" fill="#46ffff"/>
<polygon points="431.8,314.2 432.0,313.8 431.2,313.2 430.3,312.7 429.5,312.1 432.0,308.4 432.8,308.9 433.6,309.5 434.4,310.0 434.6,309.5 434.6,312.7" fill="#0a78f0"/>
<polygon points="448.7,321.6 448.9,321.1 447.2,320.7 445.6,320.2 444.0,319.6 442.5,319.0 444.1,314.8 445.6,315.4 447.1,315.9 448.6,316.4 450.1,316.8 450.2,316.4 451.0,319.4" fill="#0a78f0"/>
<polygon points="440.6,318.8 440.8,318.3 439.3,317.7 437.8,317.0 436.4,316.2 438.4,312.3 439.8,312.9 441.1,313.6 442.5,314.2 442.7,313.7 443.1,316.9" fill="#0a78f0"/>
<polygon points="448.8,321.7 449.0,321.2 448.6,321.1 448.3,321.0 449.5,316.7 449.8,316.8 450.2,316.9 450.3,316.4 451.1,319.4" fill="#0a78f0"/>
<polygon points="452.8,322.6 452.9,322.1 452.7,322.1 453.6,317.7 453.9,317.7 454.0,317.3 455.0,320.2" fill="#0a78f0"/>
<polygon points="458.9,323.6 459.0,323.1 457.9,323.0 456.9,322.8 455.9,322.7 456.6,318.3 457.6,318.4 458.5,318.5 459.5,318.6 459.5,318.1 460.8,321.0" fill="#0a78f0"/>
<polygon points="479.8,322.5 479.7,322.0 478.1,322.4 476.5,322.7 474.8,322.9 473.2,323.1 472.7,318.6 474.2,318.5 475.7,318.2 477.3,318.0 478.8,317.7 478.7,317.2 480.8,319.5" fill="#a0a0a0"/>
<polygon points="481.0,322.3 479.7,316.9 481.5,319.3" fill="#0a78f0"/>
<polygon points="538.1,272.5 537.9,273.6 537.6,274.7 537.4,275.9 537.9,276.0 534.8,276.9 532.5,274.7 533.0,274.8 533.3,273.8 533.5,272.7 533.7,271.6" fill="#0a78f0"/>
<polygon points="535.9,281.3 535.2,283.2 534.5,285.1 533.8,287.0 533.0,288.9 533.4,289.1 530.2,289.4 528.4,286.8 528.9,287.0 529.6,285.3 530.3,283.5 531.0,281.7 531.6,279.9" fill="#0a78f0"/>
<polygon points="532.2,290.5 531.2,292.5 530.1,294.5 529.0,296.4 527.9,298.3 526.6,300.2 527.1,300.4 523.9,300.2 522.5,297.3 522.9,297.6 524.1,295.9 525.2,294.1 526.2,292.3 527.2,290.5 528.2,288.6" fill="#0a78f0"/>
<polygon points="525.6,301.7 524.5,303.2 523.3,304.7 522.1,306.2 522.4,306.5 519.3,305.9 518.3,303.0 518.6,303.3 519.8,301.9 520.9,300.5 522.0,299.0" fill="#0a78f0"/>
<polygon points="522.2,306.1 521.6,306.7 521.1,307.3 521.5,307.6 518.3,307.0 517.4,304.0 517.7,304.3 518.2,303.8 518.7,303.2" fill="#46ffff"/>
<polygon points="518.2,310.4 518.0,310.6 518.4,310.9 515.3,310.1 514.5,307.1 514.9,307.4 515.0,307.3" fill="#0ac83c"/>
<polygon points="516.4,312.1 515.2,313.3 514.0,314.3 512.7,315.4 513.0,315.8 510.1,314.7 509.6,311.6 509.9,311.9 511.1,310.9 512.2,309.9 513.3,308.9" fill="#0a78f0"/>
<polygon points="508.6,318.6 508.0,319.0 508.3,319.4 505.4,318.0 505.2,314.9 505.4,315.3 506.0,314.9" fill="#0a78f0"/>
<polygon points="495.1,326.2 493.6,326.8 492.0,327.4 490.5,328.0 488.9,328.5 489.1,329.0 486.7,326.8 487.4,323.8 487.5,324.2 489.0,323.7 490.4,323.2 491.9,322.7 493.3,322.1" fill="#0a78f0"/>
<polygon points="487.3,329.5 485.2,327.3 485.7,324.3" fill="#a0a0a0"/>
<polygon points="528.1,278.9 527.6,278.7 527.2,280.0 526.8,281.2 522.6,279.6 523.0,278.5 523.3,277.4 522.9,277.2 525.9,276.5" fill="#0a78f0"/>
<polygon points="512.2,304.9 511.8,304.5 511.2,305.2 510.5,305.8 507.4,302.6 508.1,302.0 508.7,301.3 508.3,301.0 511.4,301.8" fill="#0a78f0"/>
<polygon points="498.7,315.2 498.5,314.8 497.1,315.6 495.7,316.3 494.4,317.0 493.0,317.6 491.5,318.3 489.8,314.2 491.1,313.6 492.4,313.0 493.7,312.3 495.0,311.6 496.2,310.9 496.0,310.5 498.7,312.0" fill="#0a78f0"/>
<polygon points="499.9,314.5 499.6,314.1 499.4,314.2 497.1,310.4 497.3,310.3 497.1,309.9 499.8,311.3" fill="#0a78f0"/>
<circle cx="466.10" cy="258.85" r="67.03" fill="none" stroke="#111" stroke-width="1.3"/>
<polygon points="464.40,180.15 467.80,180.15 466.10,183.15" fill="#111"/>
<path d="M467.70,258.50 L467.70,225.80 A32.70,32.70 0 1 1 447.70,284.37 Z" fill="#0a78f0"/>
<path d="M467.70,258.50 L447.70,284.37 A32.70,32.70 0 0 1 445.11,282.14 Z" fill="#f00000"/>
<path d="M467.70,258.50 L445.11,282.14 A32.70,32.70 0 0 1 438.56,273.35 Z" fill="#0ac83c"/>
<path d="M467.70,258.50 L438.56,273.35 A32.70,32.70 0 0 1 436.22,267.35 Z" fill="#ff9f0a"/>
<path d="M467.70,258.50 L436.22,267.35 A32.70,32.70 0 0 1 435.02,259.53 Z" fill="#46ffff"/>
<path d="M467.70,258.50 L435.02,259.53 A32.70,32.70 0 0 1 467.70,225.80 Z" fill="#a0a0a0"/>
<text x="467.50" y="298.70" font-size="5.00" text-anchor="middle" fill="#000">GOVLV7</text>
<text x="467.50" y="303.30" font-size="4.10" text-anchor="middle" fill="#000">113,840 bp</text>
<text x="403.40" y="200.43" font-size="3.70" text-anchor="middle" fill="#000">100 kbp</text>
<text x="513.10" y="189.83" font-size="3.70" text-anchor="middle" fill="#000">10 kbp</text>
<text x="537.50" y="310.43" font-size="3.70" text-anchor="middle" fill="#000">40 kbp</text>
<text x="408.40" y="321.53" font-size="3.70" text-anchor="middle" fill="#000">70 kbp</text>
</g>
<g id="g8">
<path d="M99.8,379.6 L103.6,379.8 L107.6,378.1 L111.0,380.8 L114.7,381.6 L118.3,382.7 L122.0,383.7 L125.2,385.9 L128.3,388.0 L133.2,387.8 L135.0,391.8 L137.1,395.1 L141.9,395.9 L142.1,400.8 L144.2,403.9 L146.1,407.1 L147.8,410.5 L152.2,412.9 L151.2,417.3 L151.4,421.2 L154.0,424.6 L153.9,428.5 L152.6,432.4 L152.4,436.2 L152.2,439.9 L154.4,444.3 L150.4,447.3 L151.0,451.5 L148.9,454.8 L148.5,459.0 L146.7,462.5 L142.1,464.0 L139.8,467.1 L137.1,469.7 L134.5,472.5 L131.4,474.7 L128.4,477.0 L125.2,478.8 L121.7,480.4 L118.2,481.9 L114.7,483.0 L111.0,484.0 L107.3,484.6 L103.6,485.0 L99.8,485.2 L96.0,485.3 L92.3,484.8 L88.6,484.0 L84.9,483.0 L81.4,481.9 L77.9,480.4 L74.5,478.7 L70.0,478.8 L68.2,474.7 L64.0,473.7 L62.5,469.7 L59.9,467.0 L55.5,465.6 L52.6,462.7 L53.4,457.7 L51.8,454.3 L50.3,450.8 L48.3,447.5 L48.2,443.6 L45.0,440.3 L47.2,436.2 L47.0,432.4 L44.2,428.4 L47.6,424.9 L48.2,421.2 L47.6,417.1 L50.3,414.0 L51.8,410.5 L53.5,407.1 L54.2,403.1 L55.7,399.4 L58.4,396.5 L62.5,395.1 L63.5,390.5 L67.7,389.5 L71.3,388.0 L74.4,385.8 L77.8,384.3 L80.7,381.2 L84.3,379.7 L88.6,380.8 L92.3,380.2 L96.0,379.8 Z M96.3,383.5 L92.4,380.8 L89.2,383.9 L85.1,382.2 L81.5,383.4 L78.1,384.8 L74.7,386.5 L73.1,390.9 L68.5,390.5 L65.6,392.9 L64.4,397.0 L60.3,398.2 L57.9,401.1 L55.8,404.1 L53.9,407.4 L52.5,410.8 L51.0,414.2 L49.6,417.7 L49.4,421.4 L49.5,425.2 L47.6,428.7 L50.2,432.4 L49.4,436.0 L48.0,439.8 L51.5,442.9 L49.6,447.1 L50.9,450.6 L55.2,452.8 L53.9,457.5 L55.8,460.7 L57.9,463.7 L60.8,466.2 L63.9,468.3 L65.6,471.9 L69.8,472.5 L71.5,476.4 L75.2,477.5 L79.2,477.4 L81.9,480.5 L85.9,479.7 L88.9,482.3 L92.4,484.2 L96.1,484.6 L99.8,483.4 L103.4,482.1 L107.1,483.2 L110.9,483.2 L113.9,480.3 L117.1,478.8 L121.5,480.0 L124.9,478.3 L128.1,476.4 L129.5,472.1 L134.0,471.9 L136.2,468.8 L139.3,466.6 L141.5,463.6 L143.8,460.7 L145.7,457.5 L147.4,454.1 L148.8,450.7 L149.8,447.1 L150.9,443.5 L151.6,439.8 L151.8,436.1 L150.6,432.4 L152.0,428.7 L151.6,425.0 L149.4,421.6 L150.0,417.7 L148.8,414.1 L147.4,410.7 L143.6,408.5 L141.5,405.6 L139.1,403.0 L139.3,398.2 L136.3,395.9 L134.0,392.9 L131.1,390.5 L127.6,389.2 L124.9,386.5 L121.5,384.8 L118.1,383.4 L114.5,382.2 L110.5,383.1 L107.2,380.6 L103.4,381.4 L99.8,380.1 Z" fill="#c9c9c9" fill-rule="evenodd"/>
<circle cx="99.80" cy="432.40" r="75.70" fill="none" stroke="#505050" stroke-width="0.55"/>
<path d="M99.80,356.70 L99.80,355.50 M108.74,357.23 L108.88,356.04 M117.56,358.81 L117.84,357.65 M126.13,361.42 L126.54,360.30 M134.32,365.03 L134.87,363.96 M142.04,369.58 L143.16,367.92 M149.16,375.01 L149.95,374.10 M155.60,381.24 L156.48,380.43 M161.25,388.19 L162.22,387.49 M166.04,395.76 L167.09,395.18 M169.91,403.84 L171.02,403.39 M172.79,412.32 L173.95,412.00 M174.65,421.08 L175.84,420.90 M175.46,430.00 L176.66,429.96 M175.22,438.96 L176.41,439.06 M173.91,447.82 L175.09,448.06 M171.57,456.46 L172.71,456.85 M168.23,464.77 L169.31,465.29 M163.93,472.63 L164.94,473.27 M158.73,479.92 L159.66,480.67 M152.70,486.55 L154.10,487.98 M145.93,492.42 L146.66,493.37 M138.52,497.45 L139.14,498.48 M130.57,501.57 L131.05,502.66 M122.18,504.72 L122.54,505.86 M113.48,506.85 L113.70,508.03 M104.59,507.95 L104.67,509.15 M95.64,507.99 L95.57,509.18 M86.74,506.96 L86.53,508.15 M78.02,504.90 L77.68,506.05 M69.61,501.82 L69.13,502.92 M61.62,497.77 L61.02,498.80 M54.17,492.80 L53.45,493.76 M47.35,486.99 L46.52,487.85 M41.27,480.41 L40.35,481.17 M36.01,473.16 L34.33,474.24 M31.64,465.34 L30.56,465.87 M28.23,457.06 L27.10,457.45 M25.82,448.44 L24.65,448.69 M24.44,439.58 L23.25,439.70 M24.12,430.63 L22.92,430.61 M24.86,421.71 L23.67,421.54 M26.65,412.93 L25.49,412.62 M29.46,404.43 L28.34,403.98 M33.26,396.31 L32.20,395.74 M37.98,388.71 L37.00,388.01 M43.58,381.71 L42.69,380.91 M49.96,375.42 L49.17,374.52 M57.04,369.94 L56.36,368.95 M64.71,365.32 L64.16,364.26 M72.88,361.65 L72.17,359.78 M81.43,358.96 L81.14,357.80 M90.23,357.31 L90.08,356.12 M99.17,356.70 L99.16,355.50" stroke="#555" stroke-width="0.35" fill="none"/>
<polygon points="80.2,360.7 82.2,363.0 81.6,366.0" fill="#a0a0a0"/>
<polygon points="86.6,359.7 87.1,359.6 87.7,359.5 87.6,359.0 89.7,361.5 88.5,364.5 88.4,364.0 87.9,364.1 87.4,364.2" fill="#0a78f0"/>
<polygon points="91.1,359.0 92.5,358.9 93.9,358.8 95.3,358.7 95.3,358.2 97.1,360.8 95.6,363.7 95.6,363.2 94.3,363.3 93.0,363.4 91.7,363.5" fill="#0a78f0"/>
<polygon points="99.9,358.5 101.3,358.5 102.7,358.6 104.1,358.6 104.1,358.2 105.5,361.0 103.8,363.7 103.8,363.2 102.5,363.1 101.2,363.1 99.9,363.0" fill="#0a78f0"/>
<polygon points="109.0,359.1 109.7,359.2 109.8,358.7 111.0,361.7 109.1,364.2 109.1,363.7 108.5,363.6" fill="#ff9f0a"/>
<polygon points="113.1,359.7 113.8,359.9 113.9,359.4 114.9,362.4 112.8,364.8 112.9,364.3 112.3,364.2" fill="#a0a0a0"/>
<polygon points="57.4,371.9 58.2,371.4 58.9,370.9 58.7,370.4 61.5,371.9 61.7,375.0 61.4,374.6 60.7,375.1 60.0,375.6" fill="#0a78f0"/>
<polygon points="45.0,382.8 46.2,381.5 47.5,380.2 48.7,379.0 50.0,377.8 51.4,376.6 51.1,376.2 54.1,377.3 54.7,380.4 54.3,380.0 53.1,381.1 51.9,382.3 50.7,383.4 49.5,384.6 48.4,385.9" fill="#0a78f0"/>
<polygon points="39.9,389.1 41.0,387.7 42.1,386.3 43.2,384.9 42.9,384.5 46.0,385.1 47.1,388.1 46.7,387.8 45.6,389.1 44.6,390.4 43.6,391.8" fill="#0a78f0"/>
<polygon points="37.6,392.6 37.9,392.1 38.2,391.6 37.8,391.4 41.0,391.6 42.4,394.4 42.0,394.1 41.7,394.6 41.4,395.0" fill="#0a78f0"/>
<polygon points="30.5,406.9 30.7,406.2 30.2,406.1 33.4,405.5 35.4,408.0 34.9,407.8 34.7,408.4" fill="#ff9f0a"/>
<polygon points="28.6,412.6 28.7,412.4 28.2,412.2 31.3,411.5 33.5,413.7 33.0,413.6 33.0,413.8" fill="#a0a0a0"/>
<polygon points="27.5,417.3 27.5,417.1 27.0,417.0 30.1,416.0 32.4,418.1 31.9,418.0 31.9,418.3" fill="#0a78f0"/>
<polygon points="26.0,430.2 26.0,428.9 26.1,427.7 25.6,427.6 28.4,426.2 31.1,428.0 30.6,427.9 30.5,429.1 30.5,430.4" fill="#0a78f0"/>
<polygon points="26.0,434.5 25.9,433.9 25.9,433.3 25.4,433.4 28.2,431.7 30.9,433.3 30.4,433.3 30.5,433.8 30.5,434.4" fill="#a0a0a0"/>
<polygon points="26.5,441.3 26.4,440.4 26.3,439.4 25.8,439.5 28.4,437.6 31.2,439.0 30.8,439.0 30.8,439.9 30.9,440.8" fill="#0a78f0"/>
<polygon points="27.1,445.7 27.0,444.9 26.9,444.1 26.4,444.2 28.9,442.2 31.8,443.3 31.3,443.4 31.4,444.2 31.6,444.9" fill="#ff9f0a"/>
<polygon points="74.2,371.9 74.4,372.4 76.1,371.7 77.7,371.1 79.4,370.5 81.1,370.0 82.8,369.5 84.0,373.9 82.4,374.3 80.8,374.8 79.3,375.3 77.7,375.9 76.2,376.6 76.4,377.0 73.8,375.1" fill="#0a78f0"/>
<polygon points="66.2,376.0 66.4,376.4 67.9,375.6 69.3,374.8 70.8,374.1 72.2,373.4 74.2,377.5 72.8,378.1 71.4,378.8 70.1,379.6 68.7,380.3 69.0,380.7 66.2,379.2" fill="#0a78f0"/>
<polygon points="87.1,368.0 87.2,368.5 87.8,368.4 88.4,368.3 89.2,372.7 88.6,372.8 88.1,372.9 88.2,373.4 86.1,371.0" fill="#ff9f0a"/>
<polygon points="107.1,367.2 107.0,367.6 107.9,367.8 108.9,367.9 108.2,372.4 107.4,372.2 106.5,372.1 106.5,372.6 105.2,369.7" fill="#a0a0a0"/>
<polygon points="116.5,368.9 116.4,369.4 117.7,369.8 119.1,370.2 120.4,370.6 119.0,374.9 117.7,374.5 116.5,374.1 115.2,373.8 115.1,374.2 114.2,371.2" fill="#0a78f0"/>
<polygon points="60.0,380.2 60.3,380.6 61.0,380.0 61.8,379.5 64.4,383.2 63.7,383.7 63.0,384.2 63.3,384.6 60.4,383.4" fill="#a0a0a0"/>
<polygon points="46.6,393.9 47.0,394.2 47.6,393.4 48.1,392.7 51.7,395.4 51.2,396.1 50.7,396.8 51.1,397.1 47.9,396.8" fill="#0a78f0"/>
<polygon points="42.9,399.6 43.3,399.9 44.0,398.8 44.7,397.7 48.5,400.1 47.9,401.1 47.3,402.1 47.7,402.4 44.5,402.4" fill="#0a78f0"/>
<polygon points="39.8,405.7 40.3,405.9 40.5,405.4 40.7,404.9 44.8,406.8 44.6,407.3 44.4,407.8 44.8,408.0 41.7,408.3" fill="#0a78f0"/>
<polygon points="36.3,415.7 36.8,415.9 36.9,415.5 37.0,415.2 41.3,416.4 41.2,416.7 41.1,417.0 41.6,417.1 38.6,418.0" fill="#0a78f0"/>
<polygon points="34.8,423.2 35.3,423.3 35.5,421.9 35.7,420.5 36.0,419.1 40.4,420.0 40.2,421.3 40.0,422.6 39.8,423.9 40.3,424.0 37.3,425.2" fill="#a0a0a0"/>
<polygon points="34.2,431.5 34.7,431.5 34.7,431.2 39.2,431.3 39.2,431.5 39.7,431.5 36.9,433.1" fill="#0a78f0"/>
<polygon points="34.4,437.6 34.8,437.5 34.8,436.5 34.7,435.5 34.7,434.5 39.2,434.3 39.2,435.3 39.3,436.2 39.4,437.2 39.8,437.1 37.2,438.9" fill="#0a78f0"/>
<polygon points="122.1,361.4 122.6,364.5 120.4,366.7" fill="#a0a0a0"/>
<polygon points="124.9,362.9 126.7,363.6 128.5,364.3 130.3,365.1 132.0,365.9 132.2,365.5 132.4,368.7 129.8,370.4 130.0,370.0 128.4,369.2 126.7,368.5 125.0,367.8 123.3,367.2" fill="#0a78f0"/>
<polygon points="134.1,367.0 134.7,367.3 134.9,366.8 135.0,370.0 132.3,371.7 132.6,371.3 132.0,371.0" fill="#a0a0a0"/>
<polygon points="140.5,370.8 141.0,371.1 141.5,371.4 141.8,371.0 141.5,374.2 138.7,375.6 139.0,375.2 138.5,374.8 138.1,374.5" fill="#0a78f0"/>
<polygon points="156.6,385.2 157.6,386.4 158.5,387.6 158.9,387.3 157.7,390.2 154.5,390.6 154.9,390.3 154.0,389.2 153.1,388.1" fill="#0a78f0"/>
<polygon points="168.0,402.8 166.0,405.1 163.0,405.0" fill="#a0a0a0"/>
<polygon points="168.6,405.6 169.3,407.4 169.9,409.2 170.5,411.1 171.1,412.9 171.5,412.8 169.3,415.1 166.2,414.2 166.7,414.1 166.2,412.4 165.7,410.6 165.1,408.9 164.4,407.2" fill="#0a78f0"/>
<polygon points="171.0,412.6 171.6,414.8 172.1,417.0 172.5,419.3 172.9,421.5 173.2,423.7 173.4,426.0 173.9,425.9 171.3,427.8 168.4,426.4 168.9,426.4 168.7,424.3 168.4,422.2 168.1,420.1 167.6,418.0 167.2,415.9 166.6,413.8" fill="#0a78f0"/>
<polygon points="173.6,430.1 173.7,431.4 173.7,432.6 174.2,432.6 171.4,434.2 168.7,432.6 169.2,432.6 169.2,431.4 169.1,430.2" fill="#a0a0a0"/>
<polygon points="173.5,437.9 173.4,438.8 173.3,439.7 173.8,439.8 170.9,441.1 168.3,439.2 168.8,439.3 168.9,438.4 169.0,437.5" fill="#f00000"/>
<polygon points="122.5,370.8 122.3,371.3 122.6,371.4 123.0,371.5 121.3,375.7 121.0,375.6 120.7,375.5 120.6,376.0 120.0,372.8" fill="#0a78f0"/>
<polygon points="134.9,376.9 134.6,377.3 135.4,377.8 136.2,378.4 133.7,382.1 133.0,381.6 132.2,381.2 132.0,381.6 132.1,378.4" fill="#a0a0a0"/>
<polygon points="140.6,381.0 140.3,381.4 140.6,381.6 140.9,381.8 138.0,385.3 137.8,385.1 137.5,384.9 137.2,385.3 137.7,382.2" fill="#46ffff"/>
<polygon points="143.3,383.3 143.0,383.6 144.0,384.6 145.1,385.5 146.1,386.5 142.9,389.7 141.9,388.8 141.0,387.9 140.0,387.0 139.7,387.4 140.3,384.3" fill="#0a78f0"/>
<polygon points="148.0,387.8 147.6,388.2 148.7,389.4 149.8,390.6 150.9,391.9 147.3,394.7 146.3,393.5 145.4,392.4 144.3,391.2 144.0,391.6 144.9,388.5" fill="#0a78f0"/>
<polygon points="154.1,395.5 153.7,395.7 154.6,397.2 155.6,398.7 156.5,400.3 157.4,401.9 158.2,403.4 154.1,405.5 153.4,404.0 152.6,402.5 151.7,401.1 150.8,399.7 149.9,398.3 149.5,398.6 150.9,395.7" fill="#0a78f0"/>
<polygon points="160.3,406.8 159.8,407.0 160.2,407.9 160.5,408.7 156.3,410.4 156.0,409.6 155.6,408.8 155.2,408.9 157.1,406.4" fill="#0a78f0"/>
<polygon points="165.4,429.8 164.9,429.9 164.9,430.2 164.9,430.6 160.4,430.7 160.4,430.4 160.4,430.0 159.9,430.1 162.6,428.3" fill="#0a78f0"/>
<polygon points="165.3,437.3 164.8,437.3 164.7,437.7 164.7,438.0 160.2,437.6 160.2,437.3 160.3,437.0 159.8,436.9 162.6,435.5" fill="#0a78f0"/>
<polygon points="164.5,443.3 164.0,443.3 163.8,444.6 163.5,445.9 163.2,447.2 162.9,448.5 158.5,447.4 158.8,446.2 159.1,445.0 159.4,443.7 159.6,442.5 159.1,442.4 162.1,441.3" fill="#0a78f0"/>
<polygon points="29.4,454.8 29.3,454.6 28.9,454.7 31.0,452.4 34.1,453.1 33.6,453.2 33.7,453.4" fill="#ff9f0a"/>
<polygon points="31.6,460.8 31.1,459.5 30.6,458.2 30.1,456.9 29.6,457.1 31.7,454.6 34.8,455.2 34.4,455.4 34.8,456.6 35.3,457.9 35.8,459.1" fill="#0a78f0"/>
<polygon points="44.4,481.3 44.2,481.1 43.9,481.4 44.9,478.4 48.0,477.8 47.6,478.1 47.8,478.3" fill="#a0a0a0"/>
<polygon points="49.6,486.6 49.1,486.2 48.8,486.5 49.5,483.4 52.6,482.5 52.2,482.9 52.7,483.3" fill="#ff9f0a"/>
<polygon points="56.7,492.4 56.0,491.9 55.2,491.3 54.9,491.7 55.3,488.5 58.3,487.3 58.0,487.7 58.7,488.2 59.4,488.8" fill="#0a78f0"/>
<polygon points="62.2,496.0 60.9,495.2 59.6,494.4 59.3,494.8 59.5,491.6 62.3,490.2 62.1,490.6 63.3,491.4 64.5,492.1" fill="#0a78f0"/>
<polygon points="64.8,497.5 64.6,497.4 64.4,497.8 64.3,494.6 67.0,492.9 66.8,493.4 66.9,493.5" fill="#a0a0a0"/>
<polygon points="75.1,502.0 73.5,501.4 71.8,500.8 70.2,500.1 68.5,499.3 66.9,498.6 66.7,499.0 66.5,495.8 69.2,494.1 69.0,494.5 70.5,495.2 72.0,495.9 73.5,496.6 75.1,497.2 76.6,497.8" fill="#0a78f0"/>
<polygon points="84.4,504.6 83.0,504.3 81.6,504.0 80.3,503.6 80.1,504.1 79.3,501.0 81.6,498.8 81.5,499.3 82.7,499.6 84.0,499.9 85.3,500.2" fill="#46ffff"/>
<polygon points="92.6,505.9 92.4,505.9 92.3,506.4 91.0,503.5 92.9,500.9 92.8,501.4 93.0,501.4" fill="#a0a0a0"/>
<polygon points="95.6,506.2 94.9,506.1 94.9,506.6 93.5,503.7 95.3,501.1 95.2,501.6 95.9,501.6" fill="#0a78f0"/>
<polygon points="101.7,506.3 100.5,506.3 99.3,506.3 98.1,506.3 98.1,506.8 96.6,503.9 98.3,501.2 98.3,501.7 99.3,501.8 100.4,501.8 101.5,501.7" fill="#0a78f0"/>
<polygon points="120.9,503.2 120.4,503.4 119.8,503.5 119.9,504.0 117.7,501.8 118.5,498.7 118.6,499.2 119.1,499.0 119.6,498.9" fill="#ff9f0a"/>
<polygon points="35.6,446.3 36.1,446.2 36.1,445.9 36.0,445.5 40.4,444.6 40.5,444.9 40.5,445.3 41.0,445.1 38.7,447.3" fill="#a0a0a0"/>
<polygon points="38.6,456.3 39.1,456.1 39.0,455.9 43.2,454.3 43.3,454.5 43.8,454.3 41.8,456.8" fill="#0a78f0"/>
<polygon points="41.9,463.4 42.4,463.2 41.7,462.0 41.1,460.8 40.6,459.5 40.0,458.3 44.2,456.5 44.7,457.7 45.2,458.8 45.8,459.9 46.4,461.0 46.8,460.8 45.1,463.5" fill="#a0a0a0"/>
<polygon points="43.8,466.6 44.2,466.4 43.7,465.5 43.2,464.7 47.2,462.5 47.6,463.2 48.0,464.0 48.5,463.7 47.0,466.5" fill="#0a78f0"/>
<polygon points="47.2,471.7 47.6,471.4 46.8,470.4 46.1,469.3 49.8,466.7 50.5,467.7 51.2,468.7 51.6,468.4 50.4,471.3" fill="#0a78f0"/>
<polygon points="51.5,476.8 51.8,476.5 51.6,476.2 51.4,476.0 54.7,473.0 54.9,473.2 55.2,473.4 55.5,473.1 54.6,476.1" fill="#a0a0a0"/>
<polygon points="56.9,482.1 57.3,481.7 56.5,481.1 55.7,480.4 55.0,479.7 58.1,476.4 58.8,477.1 59.5,477.7 60.2,478.3 60.5,477.9 60.0,481.1" fill="#0a78f0"/>
<polygon points="79.1,494.7 79.2,494.2 78.4,493.9 77.5,493.6 79.0,489.4 79.8,489.7 80.7,489.9 80.8,489.5 81.5,492.6" fill="#0a78f0"/>
<polygon points="90.2,497.3 90.3,496.9 89.0,496.6 87.6,496.4 86.3,496.1 85.0,495.8 86.0,491.4 87.2,491.7 88.5,492.0 89.7,492.2 90.9,492.4 91.0,491.9 92.2,494.8" fill="#0a78f0"/>
<polygon points="104.8,497.9 104.8,497.4 103.8,497.4 102.8,497.5 101.7,497.5 101.6,493.0 102.6,493.0 103.5,492.9 104.4,492.9 104.4,492.4 106.2,495.0" fill="#0a78f0"/>
<polygon points="107.7,497.6 107.7,497.1 107.5,497.1 106.9,492.6 107.1,492.6 107.1,492.1 109.0,494.6" fill="#a0a0a0"/>
<polygon points="110.6,497.2 110.5,496.7 110.3,496.7 109.5,492.2 109.8,492.2 109.7,491.7 111.7,494.2" fill="#0a78f0"/>
<polygon points="113.6,496.6 113.5,496.1 113.1,496.2 112.8,496.2 111.9,491.8 112.2,491.8 112.5,491.7 112.4,491.2 114.6,493.5" fill="#0a78f0"/>
<polygon points="170.3,454.4 169.8,456.1 169.2,457.8 168.5,459.5 169.0,459.7 165.8,460.2 163.9,457.7 164.3,457.9 164.9,456.3 165.5,454.7 166.0,453.1" fill="#0a78f0"/>
<polygon points="167.4,462.3 166.7,463.8 166.0,465.2 165.2,466.7 165.7,466.9 162.5,467.1 160.8,464.4 161.2,464.6 161.9,463.2 162.6,461.9 163.2,460.5" fill="#46ffff"/>
<polygon points="163.9,469.1 163.1,470.5 162.2,471.9 161.3,473.3 160.4,474.6 160.8,474.9 157.6,474.7 156.3,471.8 156.7,472.1 157.6,470.8 158.4,469.5 159.2,468.2 160.0,466.9" fill="#0a78f0"/>
<polygon points="158.9,476.8 158.7,477.0 159.1,477.3 156.0,476.9 154.7,473.9 155.1,474.2 155.3,474.1" fill="#0a78f0"/>
<polygon points="154.4,482.2 153.7,482.9 153.1,483.6 153.4,483.9 150.3,483.1 149.5,480.1 149.8,480.4 150.4,479.8 151.0,479.2" fill="#0a78f0"/>
<polygon points="147.9,488.4 147.5,488.8 147.1,489.2 147.4,489.6 144.4,488.5 143.9,485.3 144.2,485.7 144.6,485.4 145.0,485.0" fill="#0a78f0"/>
<polygon points="135.0,497.3 133.7,498.1 132.3,498.7 132.5,499.2 129.9,497.4 130.1,494.2 130.3,494.7 131.6,494.0 132.9,493.4" fill="#0a78f0"/>
<polygon points="123.5,502.4 123.3,502.5 123.4,502.9 121.0,500.8 121.7,497.7 121.8,498.2 122.0,498.1" fill="#0a78f0"/>
<polygon points="150.6,474.0 150.2,473.7 149.3,474.8 148.4,475.8 147.4,476.9 144.1,473.8 145.0,472.8 145.9,471.8 146.7,470.8 146.3,470.5 149.5,471.0" fill="#f00000"/>
<polygon points="144.9,480.1 144.6,479.7 143.5,480.7 142.5,481.6 141.4,482.5 138.5,479.1 139.5,478.2 140.5,477.4 141.5,476.5 141.1,476.1 144.2,477.0" fill="#0a78f0"/>
<polygon points="137.5,486.1 137.2,485.7 135.9,486.6 134.6,487.5 133.3,488.3 132.0,489.1 130.6,489.8 128.5,485.8 129.7,485.1 131.0,484.4 132.2,483.6 133.4,482.9 134.6,482.0 134.3,481.6 137.2,483.0" fill="#a0a0a0"/>
<polygon points="121.9,494.2 121.7,493.8 121.1,494.0 120.6,494.1 119.2,489.9 119.7,489.7 120.2,489.5 120.0,489.0 122.4,491.1" fill="#ff9f0a"/>
<polygon points="124.3,493.3 124.1,492.9 123.9,493.0 122.2,488.8 122.4,488.7 122.2,488.2 124.7,490.2" fill="#0a78f0"/>
<circle cx="99.80" cy="432.40" r="67.56" fill="none" stroke="#111" stroke-width="1.3"/>
<polygon points="98.10,353.10 101.50,353.10 99.80,356.10" fill="#111"/>
<path d="M99.70,432.30 L99.70,397.70 A34.60,34.60 0 1 1 86.40,464.24 Z" fill="#0a78f0"/>
<path d="M99.70,432.30 L86.40,464.24 A34.60,34.60 0 0 1 83.40,462.82 Z" fill="#f00000"/>
<path d="M99.70,432.30 L83.40,462.82 A34.60,34.60 0 0 1 72.51,453.70 Z" fill="#ff9f0a"/>
<path d="M99.70,432.30 L72.51,453.70 A34.60,34.60 0 0 1 69.35,448.92 Z" fill="#46ffff"/>
<path d="M99.70,432.30 L69.35,448.92 A34.60,34.60 0 0 1 99.70,397.70 Z" fill="#a0a0a0"/>
<text x="99.30" y="473.45" font-size="5.06" text-anchor="middle" fill="#000">GOVGLV8</text>
<text x="99.30" y="478.40" font-size="4.20" text-anchor="middle" fill="#000">106,141 bp</text>
<text x="64.50" y="356.94" font-size="4.00" text-anchor="middle" fill="#000">100 kbp</text>
<text x="151.40" y="364.54" font-size="4.00" text-anchor="middle" fill="#000">10 kbp</text>
<text x="162.30" y="491.94" font-size="4.00" text-anchor="middle" fill="#000">40 kbp</text>
<text x="24.10" y="478.34" font-size="4.00" text-anchor="middle" fill="#000">70 kbp</text>
</g>
<g id="g9">
<path d="M281.8,376.0 L285.7,379.2 L289.7,379.3 L293.6,380.3 L297.4,381.3 L301.1,382.6 L304.8,384.0 L308.3,385.9 L311.7,388.0 L316.7,388.0 L317.8,393.0 L321.9,394.5 L323.3,398.7 L325.6,401.9 L327.8,405.2 L332.1,407.4 L331.3,412.3 L332.7,416.0 L334.0,419.7 L334.5,423.6 L335.1,427.6 L335.3,431.5 L335.2,435.5 L335.0,439.4 L334.2,443.3 L333.2,447.1 L333.5,451.4 L330.5,454.6 L328.8,458.1 L326.7,461.5 L326.3,466.1 L322.0,467.8 L320.0,471.4 L316.4,473.4 L313.2,475.8 L310.0,478.0 L307.8,482.4 L302.9,481.6 L299.4,483.3 L295.5,484.2 L291.6,485.1 L287.7,485.6 L283.8,486.7 L279.8,485.9 L275.9,485.6 L271.6,486.8 L267.9,484.9 L263.5,485.4 L260.6,481.7 L257.1,479.9 L253.5,478.2 L250.4,475.8 L247.3,473.3 L244.3,470.7 L239.7,469.4 L239.1,464.7 L236.9,461.5 L233.8,458.7 L233.1,454.6 L231.6,450.9 L228.8,447.6 L229.3,443.3 L228.7,439.4 L228.4,435.5 L228.3,431.5 L228.6,427.6 L229.1,423.6 L227.4,419.2 L228.0,415.0 L232.3,412.3 L233.7,408.6 L235.8,405.2 L238.0,401.9 L237.9,396.7 L241.9,394.8 L245.8,393.0 L248.6,390.2 L250.2,385.4 L255.3,386.0 L258.9,384.2 L262.4,382.5 L266.2,381.2 L270.0,380.3 L273.6,377.3 L277.7,377.2 Z M277.9,379.6 L274.0,380.1 L270.7,383.2 L266.4,381.8 L262.7,383.1 L259.2,384.9 L256.0,387.2 L252.3,388.5 L249.1,390.8 L246.1,393.3 L243.3,396.1 L240.7,399.0 L238.5,402.3 L238.0,406.5 L234.4,408.9 L232.8,412.5 L231.4,416.1 L230.3,419.9 L232.2,424.2 L232.2,427.9 L230.1,431.5 L229.7,435.4 L229.2,439.3 L229.9,443.2 L230.8,447.0 L235.0,449.6 L234.9,453.7 L235.3,457.9 L239.8,459.6 L240.7,463.6 L242.0,467.5 L244.7,470.3 L247.7,472.9 L251.5,474.2 L253.9,477.6 L257.3,479.5 L260.8,481.2 L264.5,482.6 L268.2,483.7 L272.1,484.6 L276.2,482.9 L279.8,485.3 L283.8,485.5 L287.6,484.4 L291.5,484.4 L294.9,482.0 L299.1,482.6 L302.2,479.9 L306.3,479.5 L309.7,477.5 L312.8,475.2 L316.0,473.0 L318.9,470.3 L321.4,467.3 L324.1,464.4 L324.7,460.2 L325.7,456.4 L328.6,453.7 L331.6,450.7 L331.7,446.7 L330.9,442.6 L334.4,439.3 L332.1,435.3 L332.1,431.6 L334.6,427.6 L331.3,424.2 L333.3,419.9 L332.1,416.1 L330.3,412.7 L329.2,408.9 L326.8,405.8 L325.0,402.3 L322.8,399.1 L320.3,396.1 L316.1,394.9 L314.5,390.8 L311.3,388.5 L308.0,386.4 L304.5,384.6 L300.0,385.6 L296.6,383.8 L293.3,381.7 L289.6,380.1 L285.7,379.7 L281.8,379.5 Z" fill="#c9c9c9" fill-rule="evenodd"/>
<circle cx="281.80" cy="432.50" r="76.70" fill="none" stroke="#505050" stroke-width="0.55"/>
<path d="M281.80,355.80 L281.80,354.60 M291.20,356.38 L291.35,355.19 M300.46,358.10 L300.75,356.94 M309.43,360.95 L309.87,359.83 M317.99,364.88 L318.56,363.82 M326.01,369.82 L327.16,368.19 M333.35,375.71 L334.16,374.82 M339.93,382.46 L340.83,381.67 M345.62,389.96 L346.62,389.29 M350.35,398.10 L351.42,397.56 M354.05,406.76 L355.18,406.36 M356.66,415.81 L357.83,415.55 M358.14,425.11 L359.34,424.99 M358.47,434.52 L359.67,434.55 M357.65,443.90 L358.84,444.08 M355.68,453.11 L356.84,453.43 M352.60,462.01 L353.71,462.47 M348.45,470.46 L349.49,471.05 M343.29,478.34 L344.26,479.06 M337.21,485.53 L338.08,486.36 M330.30,491.92 L331.56,493.47 M322.65,497.42 L323.29,498.43 M314.39,501.93 L314.90,503.02 M305.63,505.40 L306.01,506.54 M296.52,507.77 L296.75,508.95 M287.18,509.01 L287.27,510.21 M277.77,509.09 L277.70,510.29 M268.41,508.02 L268.20,509.20 M259.26,505.81 L258.90,506.96 M250.44,502.50 L249.95,503.59 M242.10,498.13 L241.48,499.15 M234.36,492.77 L233.62,493.71 M227.33,486.50 L226.48,487.34 M221.12,479.42 L220.17,480.15 M215.83,471.63 L214.80,472.24 M211.53,463.25 L209.70,464.05 M208.29,454.41 L207.14,454.75 M206.16,445.23 L204.98,445.43 M205.17,435.87 L203.98,435.92 M205.34,426.45 L204.14,426.36 M206.66,417.13 L205.48,416.89 M209.11,408.04 L207.97,407.65 M212.65,399.31 L211.57,398.79 M217.24,391.09 L216.23,390.44 M222.80,383.49 L221.88,382.72 M229.25,376.63 L228.43,375.75 M236.49,370.61 L235.79,369.64 M244.42,365.52 L243.84,364.48 M252.91,361.45 L252.46,360.34 M261.83,358.44 L261.52,357.29 M271.06,356.56 L270.78,354.58 M280.45,355.81 L280.43,354.61" stroke="#555" stroke-width="0.35" fill="none"/>
<polygon points="284.2,357.7 284.9,357.7 284.9,357.2 286.4,360.1 284.7,362.8 284.7,362.3 284.0,362.3" fill="#0a78f0"/>
<polygon points="257.8,361.6 259.0,361.2 260.3,360.8 260.1,360.3 262.5,362.6 261.7,365.7 261.6,365.2 260.4,365.5 259.3,365.9" fill="#0a78f0"/>
<polygon points="263.8,359.8 264.7,359.6 265.7,359.4 265.5,358.9 267.7,361.3 266.8,364.4 266.6,363.9 265.8,364.1 264.9,364.3" fill="#a0a0a0"/>
<polygon points="268.5,358.8 269.1,358.7 269.6,358.6 269.5,358.1 271.6,360.7 270.5,363.7 270.4,363.2 269.8,363.2 269.3,363.3" fill="#a0a0a0"/>
<polygon points="271.6,358.3 273.0,358.2 274.4,358.0 275.8,357.9 275.8,357.4 277.6,360.1 276.2,362.9 276.2,362.4 274.9,362.6 273.6,362.7 272.3,362.9" fill="#0a78f0"/>
<polygon points="246.2,366.7 247.3,366.1 248.4,365.5 248.2,365.0 250.9,366.8 250.7,370.0 250.5,369.6 249.4,370.1 248.3,370.7" fill="#0a78f0"/>
<polygon points="252.3,363.7 252.8,363.5 253.4,363.3 253.2,362.8 255.7,364.8 255.3,368.0 255.1,367.5 254.6,367.7 254.1,367.9" fill="#0a78f0"/>
<polygon points="242.9,368.0 245.5,369.7 245.8,372.7" fill="#a0a0a0"/>
<polygon points="230.3,378.2 231.7,376.8 233.2,375.6 234.7,374.3 236.2,373.1 235.9,372.7 238.9,374.0 239.3,377.2 239.0,376.8 237.6,377.9 236.2,379.0 234.8,380.2 233.5,381.5" fill="#0a78f0"/>
<polygon points="217.9,393.5 218.4,392.7 218.9,391.9 218.5,391.7 221.7,391.9 223.2,394.7 222.7,394.4 222.3,395.2 221.8,395.9" fill="#0a78f0"/>
<polygon points="213.4,402.0 213.8,401.1 214.2,400.3 213.8,400.1 217.0,399.8 218.8,402.5 218.4,402.3 218.0,403.1 217.6,403.9" fill="#0a78f0"/>
<polygon points="210.8,408.8 211.3,407.2 211.9,405.7 212.5,404.1 212.1,404.0 215.3,403.5 217.2,406.1 216.8,405.9 216.2,407.3 215.7,408.8 215.2,410.2" fill="#0a78f0"/>
<polygon points="207.7,422.2 207.8,421.3 207.9,420.4 207.4,420.3 210.5,419.2 212.9,421.2 212.4,421.1 212.3,422.0 212.2,422.9" fill="#0a78f0"/>
<polygon points="207.0,430.1 207.1,428.5 207.2,426.9 207.3,425.2 207.5,423.6 207.0,423.5 210.0,422.3 212.5,424.2 212.0,424.1 211.9,425.7 211.7,427.2 211.6,428.7 211.6,430.3" fill="#f00000"/>
<polygon points="207.0,436.4 207.0,434.7 206.9,432.9 206.4,432.9 209.2,431.3 212.0,432.9 211.5,432.9 211.6,434.5 211.6,436.2" fill="#0a78f0"/>
<polygon points="207.8,443.9 207.6,442.1 207.4,440.3 207.2,438.5 206.7,438.6 209.4,436.7 212.3,438.1 211.8,438.2 211.9,439.8 212.1,441.5 212.3,443.2" fill="#0a78f0"/>
<polygon points="280.7,366.0 280.7,366.5 281.3,366.5 281.9,366.5 281.9,371.1 281.4,371.1 280.8,371.1 280.8,371.6 279.2,368.8" fill="#a0a0a0"/>
<polygon points="289.4,366.4 289.4,366.9 290.0,367.0 290.5,367.1 289.9,371.6 289.4,371.5 288.9,371.5 288.8,372.0 287.5,369.0" fill="#0a78f0"/>
<polygon points="292.0,366.8 291.9,367.3 293.5,367.5 295.2,367.9 296.8,368.2 298.5,368.6 300.1,369.1 301.7,369.6 300.3,373.9 298.8,373.5 297.3,373.1 295.8,372.7 294.3,372.3 292.7,372.0 291.2,371.8 291.1,372.3 289.9,369.3" fill="#0a78f0"/>
<polygon points="260.6,369.5 260.7,369.9 260.9,369.9 262.4,374.2 262.2,374.3 262.3,374.8 259.9,372.6" fill="#0ac83c"/>
<polygon points="255.0,371.6 255.2,372.1 255.5,371.9 255.9,371.8 257.7,376.0 257.4,376.1 257.1,376.3 257.3,376.7 254.7,374.8" fill="#0a78f0"/>
<polygon points="250.6,373.7 250.9,374.2 251.2,374.0 251.5,373.9 253.6,377.9 253.3,378.1 253.0,378.2 253.2,378.7 250.5,377.0" fill="#0a78f0"/>
<polygon points="246.0,376.4 246.3,376.8 247.4,376.2 248.5,375.5 250.8,379.5 249.8,380.1 248.8,380.7 249.0,381.1 246.2,379.7" fill="#0a78f0"/>
<polygon points="233.8,386.4 234.2,386.8 235.1,385.8 236.1,384.9 237.1,384.0 238.1,383.1 241.1,386.5 240.2,387.3 239.2,388.2 238.3,389.1 237.5,390.0 237.8,390.3 234.7,389.5" fill="#0a78f0"/>
<polygon points="228.0,393.4 228.4,393.7 229.4,392.3 230.4,391.0 231.5,389.8 232.6,388.5 236.0,391.6 235.0,392.7 234.0,393.9 233.0,395.1 232.1,396.3 232.5,396.6 229.3,396.3" fill="#0a78f0"/>
<polygon points="223.7,400.2 224.1,400.4 224.6,399.6 225.1,398.7 225.6,397.8 229.5,400.2 229.0,401.0 228.6,401.8 228.1,402.7 228.5,402.9 225.3,403.0" fill="#0a78f0"/>
<polygon points="219.3,409.7 224.6,411.6 221.5,412.0" fill="#a0a0a0"/>
<polygon points="217.8,414.3 218.3,414.4 218.6,413.5 218.9,412.6 223.2,414.0 223.0,414.8 222.7,415.7 223.2,415.8 220.1,416.6" fill="#0a78f0"/>
<polygon points="217.2,416.6 217.7,416.7 217.8,416.5 222.2,417.6 222.1,417.8 222.6,417.9 219.6,418.8" fill="#0a78f0"/>
<polygon points="216.1,443.1 216.6,443.0 216.5,442.1 216.4,441.1 220.9,440.5 221.0,441.4 221.1,442.3 221.6,442.2 219.2,444.2" fill="#46ffff"/>
<polygon points="308.8,362.7 310.8,363.5 312.7,364.3 314.6,365.2 316.4,366.1 318.3,367.1 318.5,366.7 318.6,369.9 315.8,371.6 316.1,371.1 314.3,370.2 312.6,369.3 310.8,368.5 309.0,367.7 307.2,367.0" fill="#46ffff"/>
<polygon points="319.9,368.1 321.5,369.1 323.2,370.1 324.8,371.2 326.3,372.3 327.9,373.5 329.4,374.7 329.7,374.3 329.2,377.5 326.2,378.6 326.5,378.3 325.1,377.1 323.6,376.0 322.1,375.0 320.6,373.9 319.1,372.9 317.5,372.0" fill="#46ffff"/>
<polygon points="329.9,375.1 330.6,375.7 331.3,376.3 331.6,376.0 331.0,379.1 327.9,380.2 328.3,379.8 327.6,379.2 326.9,378.6" fill="#0a78f0"/>
<polygon points="333.3,378.1 333.8,378.6 334.1,378.3 333.3,381.4 330.2,382.3 330.6,381.9 330.1,381.5" fill="#0a78f0"/>
<polygon points="333.6,378.5 335.2,380.0 336.7,381.6 338.1,383.2 339.5,384.8 340.9,386.5 342.2,388.3 343.4,390.0 344.6,391.8 345.8,393.6 346.2,393.4 344.6,396.2 341.4,396.3 341.9,396.0 340.8,394.3 339.7,392.6 338.5,391.0 337.3,389.3 336.0,387.8 334.7,386.2 333.3,384.7 331.9,383.2 330.5,381.8" fill="#0a78f0"/>
<polygon points="348.8,399.2 348.9,399.4 349.4,399.2 347.6,401.8 344.4,401.6 344.8,401.4 344.7,401.2" fill="#a0a0a0"/>
<polygon points="352.0,406.6 352.2,407.1 352.4,407.6 352.9,407.5 350.8,409.9 347.6,409.3 348.1,409.2 347.9,408.7 347.7,408.1" fill="#a0a0a0"/>
<polygon points="354.4,414.3 354.7,415.6 355.0,417.0 355.3,418.4 355.8,418.3 353.3,420.4 350.3,419.3 350.8,419.2 350.6,417.9 350.3,416.7 350.0,415.4" fill="#0a78f0"/>
<polygon points="355.8,421.3 355.9,421.9 356.0,422.4 356.5,422.4 353.9,424.3 350.9,423.1 351.4,423.0 351.4,422.5 351.3,422.0" fill="#0a78f0"/>
<polygon points="306.6,370.8 306.4,371.3 306.8,371.4 307.1,371.5 305.3,375.7 305.0,375.6 304.7,375.5 304.5,376.0 304.1,372.8" fill="#0a78f0"/>
<polygon points="341.2,402.6 340.8,402.8 340.9,403.0 336.8,405.1 336.7,404.9 336.2,405.1 338.0,402.4" fill="#0a78f0"/>
<polygon points="342.6,405.4 342.1,405.6 342.6,406.7 343.0,407.8 343.4,408.9 339.2,410.5 338.8,409.5 338.4,408.5 337.9,407.5 337.5,407.7 339.3,405.1" fill="#46ffff"/>
<polygon points="345.9,414.7 345.4,414.8 345.8,416.2 346.1,417.5 346.4,418.9 341.9,419.9 341.6,418.6 341.3,417.3 341.0,416.0 340.5,416.2 342.7,413.9" fill="#46ffff"/>
<polygon points="348.2,428.0 347.7,428.0 347.7,428.2 343.1,428.5 343.1,428.3 342.6,428.4 345.3,426.6" fill="#a0a0a0"/>
<polygon points="348.3,431.0 347.8,431.1 347.8,432.2 347.8,433.4 347.8,434.6 343.2,434.4 343.2,433.3 343.2,432.2 343.2,431.2 342.7,431.2 345.5,429.5" fill="#ff9f0a"/>
<polygon points="348.2,436.9 347.7,436.8 347.6,438.4 347.4,439.9 347.2,441.5 347.0,443.0 346.7,444.5 342.2,443.7 342.5,442.3 342.7,440.8 342.8,439.4 343.0,438.0 343.1,436.5 342.6,436.5 345.5,435.1" fill="#a0a0a0"/>
<polygon points="208.9,449.4 208.7,448.6 208.5,447.8 208.0,447.9 210.5,445.8 213.5,446.8 213.0,446.9 213.2,447.6 213.3,448.4" fill="#0a78f0"/>
<polygon points="210.1,454.1 210.1,453.8 209.6,454.0 211.8,451.7 214.9,452.4 214.4,452.5 214.5,452.7" fill="#ff9f0a"/>
<polygon points="228.7,485.3 227.2,483.7 225.7,482.1 224.3,480.4 222.9,478.7 222.5,479.0 223.8,476.0 226.9,475.6 226.5,475.9 227.8,477.5 229.2,479.1 230.5,480.6 232.0,482.0" fill="#a0a0a0"/>
<polygon points="221.8,477.3 220.6,475.6 219.5,473.9 218.4,472.2 217.3,470.5 216.3,468.7 215.3,466.9 214.9,467.2 216.7,464.5 219.8,464.6 219.4,464.8 220.3,466.5 221.3,468.2 222.2,469.8 223.3,471.4 224.4,473.0 225.5,474.5" fill="#a0a0a0"/>
<polygon points="232.8,489.1 232.6,488.9 232.3,489.3 232.9,486.1 235.9,485.1 235.6,485.5 235.8,485.6" fill="#ff9f0a"/>
<polygon points="245.6,498.0 244.9,497.6 244.1,497.2 243.9,497.6 243.9,494.4 246.7,492.8 246.5,493.2 247.1,493.6 247.8,494.0" fill="#a0a0a0"/>
<polygon points="250.1,500.3 248.9,499.8 247.8,499.2 247.6,499.6 247.4,496.4 250.1,494.7 249.9,495.1 251.0,495.6 252.0,496.2" fill="#0a78f0"/>
<polygon points="252.2,501.2 251.9,501.1 251.7,501.6 251.4,498.4 254.0,496.5 253.8,496.9 254.0,497.0" fill="#ff9f0a"/>
<polygon points="278.3,507.3 276.3,507.2 274.4,507.0 272.5,506.8 270.6,506.5 270.5,507.0 269.3,504.0 271.3,501.5 271.3,502.0 273.1,502.2 274.9,502.4 276.7,502.6 278.5,502.7" fill="#0a78f0"/>
<polygon points="294.9,506.2 294.0,506.4 293.0,506.5 293.1,507.0 291.1,504.5 292.3,501.5 292.4,502.0 293.2,501.8 294.1,501.7" fill="#a0a0a0"/>
<polygon points="302.4,504.5 301.1,504.8 299.7,505.2 298.4,505.5 298.5,506.0 296.3,503.6 297.2,500.5 297.4,501.0 298.6,500.7 299.9,500.4 301.2,500.1" fill="#0a78f0"/>
<polygon points="217.3,448.8 217.8,448.7 217.7,448.3 217.6,448.0 222.1,446.9 222.2,447.2 222.2,447.5 222.7,447.4 220.4,449.7" fill="#a0a0a0"/>
<polygon points="218.2,452.0 218.7,451.9 218.6,451.6 218.5,451.2 222.9,449.9 223.0,450.2 223.1,450.5 223.6,450.4 221.4,452.7" fill="#ff9f0a"/>
<polygon points="219.2,454.9 219.6,454.7 219.5,454.4 219.4,454.1 223.7,452.6 223.8,452.9 223.9,453.2 224.4,453.0 222.3,455.4" fill="#46ffff"/>
<polygon points="220.1,457.4 220.6,457.2 220.4,456.8 220.3,456.5 224.6,454.9 224.7,455.2 224.8,455.5 225.3,455.3 223.3,457.8" fill="#0a78f0"/>
<polygon points="221.3,460.1 221.7,459.9 221.6,459.6 221.5,459.3 225.6,457.4 225.8,457.7 225.9,458.0 226.4,457.8 224.5,460.4" fill="#0ac83c"/>
<polygon points="235.0,479.8 235.4,479.4 234.5,478.5 233.6,477.6 236.9,474.5 237.8,475.3 238.6,476.2 239.0,475.8 238.1,478.9" fill="#0ac83c"/>
<polygon points="243.7,487.1 244.0,486.6 242.8,485.7 241.5,484.8 240.3,483.8 239.1,482.9 237.9,481.8 241.0,478.4 242.1,479.4 243.2,480.3 244.3,481.2 245.5,482.0 246.6,482.9 246.9,482.5 246.7,485.7" fill="#0a78f0"/>
<polygon points="259.2,495.1 259.4,494.6 258.3,494.2 257.2,493.7 256.1,493.3 257.9,489.1 258.9,489.5 259.9,489.9 260.9,490.3 261.1,489.8 261.7,493.0" fill="#0a78f0"/>
<polygon points="267.4,497.4 267.5,496.9 265.9,496.6 264.3,496.2 262.7,495.7 261.2,495.2 262.6,490.9 264.1,491.3 265.5,491.7 267.0,492.1 268.5,492.5 268.6,492.0 269.6,495.0" fill="#a0a0a0"/>
<polygon points="289.7,498.6 289.6,498.1 287.7,498.2 285.9,498.4 284.0,498.5 282.1,498.5 280.2,498.5 278.3,498.4 278.6,493.9 280.3,493.9 282.1,493.9 283.8,493.9 285.6,493.8 287.3,493.7 289.1,493.5 289.0,493.0 290.9,495.6" fill="#0a78f0"/>
<polygon points="320.8,496.4 318.9,497.5 316.9,498.6 314.8,499.7 312.8,500.7 310.7,501.6 308.5,502.4 306.4,503.2 304.2,503.9 304.4,504.4 302.0,502.2 302.7,499.1 302.9,499.5 304.9,498.9 306.9,498.1 308.9,497.3 310.9,496.5 312.8,495.6 314.7,494.6 316.6,493.6 318.4,492.5" fill="#0a78f0"/>
<polygon points="345.0,453.1 344.6,453.0 344.3,453.9 344.0,454.7 339.6,453.2 339.9,452.4 340.2,451.6 339.7,451.4 342.9,450.7" fill="#0a78f0"/>
<polygon points="344.7,454.2 344.2,454.0 343.6,455.8 342.9,457.5 342.2,459.2 341.4,460.8 337.3,458.9 338.0,457.3 338.7,455.7 339.3,454.2 339.9,452.5 339.4,452.4 342.5,451.8" fill="#0a78f0"/>
<polygon points="341.1,462.7 340.6,462.5 339.7,464.1 338.8,465.7 337.9,467.3 336.9,468.9 335.8,470.4 334.7,471.9 333.6,473.4 332.4,474.9 328.9,471.9 330.0,470.6 331.1,469.2 332.1,467.8 333.1,466.4 334.0,464.9 334.9,463.4 335.7,461.9 336.5,460.4 336.1,460.2 339.3,460.0" fill="#0a78f0"/>
<polygon points="332.0,476.1 331.6,475.8 331.4,476.0 331.2,476.3 327.8,473.3 328.0,473.0 328.2,472.8 327.8,472.5 331.0,473.1" fill="#ff9f0a"/>
<polygon points="333.4,474.5 329.0,471.0 332.0,471.7" fill="#a0a0a0"/>
<polygon points="329.5,478.8 329.2,478.5 327.8,479.8 326.5,481.1 325.1,482.4 323.6,483.6 322.2,484.7 320.7,485.9 318.0,482.2 319.4,481.1 320.7,480.0 322.1,478.9 323.4,477.7 324.6,476.5 325.9,475.3 325.5,474.9 328.6,475.7" fill="#0a78f0"/>
<polygon points="320.1,486.9 319.8,486.5 318.5,487.4 317.2,488.2 315.9,489.0 314.5,489.8 313.2,490.6 311.0,486.6 312.3,485.8 313.5,485.1 314.7,484.4 316.0,483.6 317.1,482.8 316.9,482.3 319.8,483.7" fill="#0a78f0"/>
<circle cx="281.80" cy="432.50" r="68.45" fill="none" stroke="#111" stroke-width="1.3"/>
<polygon points="280.10,352.20 283.50,352.20 281.80,355.20" fill="#111"/>
<path d="M282.20,432.00 L282.20,397.40 A34.60,34.60 0 1 1 273.77,465.56 Z" fill="#0a78f0"/>
<path d="M282.20,432.00 L273.77,465.56 A34.60,34.60 0 0 1 272.03,465.07 Z" fill="#f00000"/>
<path d="M282.20,432.00 L272.03,465.07 A34.60,34.60 0 0 1 264.07,461.47 Z" fill="#0ac83c"/>
<path d="M282.20,432.00 L264.07,461.47 A34.60,34.60 0 0 1 253.52,451.35 Z" fill="#ff9f0a"/>
<path d="M282.20,432.00 L253.52,451.35 A34.60,34.60 0 0 1 248.41,439.43 Z" fill="#46ffff"/>
<path d="M282.20,432.00 L248.41,439.43 A34.60,34.60 0 0 1 282.20,397.40 Z" fill="#a0a0a0"/>
<text x="281.60" y="473.10" font-size="5.18" text-anchor="middle" fill="#000">GOVGLV9</text>
<text x="281.60" y="478.10" font-size="4.30" text-anchor="middle" fill="#000">102,287 bp</text>
<text x="267.30" y="350.85" font-size="4.30" text-anchor="middle" fill="#000">100 kbp</text>
<text x="334.40" y="364.45" font-size="4.30" text-anchor="middle" fill="#000">10 kbp</text>
<text x="340.90" y="499.15" font-size="4.30" text-anchor="middle" fill="#000">40 kbp</text>
<text x="199.90" y="470.45" font-size="4.30" text-anchor="middle" fill="#000">70 kbp</text>
</g>
<rect x="429.9" y="382.00" width="11.4" height="11.5" fill="#0a78f0"/>
<text x="443.6" y="391.60" font-size="9.4" fill="#000">NCLDVs</text>
<rect x="429.9" y="398.70" width="11.4" height="11.5" fill="#ff9f0a"/>
<text x="443.6" y="408.30" font-size="9.4" fill="#000">bacteria</text>
<rect x="429.9" y="415.40" width="11.4" height="11.5" fill="#0ac83c"/>
<text x="443.6" y="425.00" font-size="9.4" fill="#000">archaea</text>
<rect x="429.9" y="432.10" width="11.4" height="11.5" fill="#f00000"/>
<text x="443.6" y="441.70" font-size="9.4" fill="#000">eukaryotes</text>
<rect x="429.9" y="448.80" width="11.4" height="11.5" fill="#46ffff"/>
<text x="443.6" y="458.40" font-size="9.4" fill="#000">other viruses</text>
<rect x="429.9" y="465.50" width="11.4" height="11.5" fill="#a0a0a0"/>
<text x="443.6" y="475.10" font-size="9.4" fill="#000">ORFans</text>
</svg>
</body></html>
